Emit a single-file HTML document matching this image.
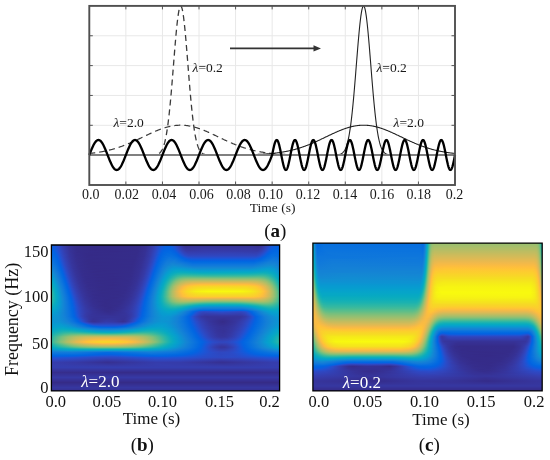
<!DOCTYPE html>
<html><head><meta charset="utf-8"><style>
html,body{margin:0;padding:0;background:#fff;}
body{width:550px;height:460px;overflow:hidden;position:relative;font-family:"Liberation Serif","Times New Roman",serif;color:#111;}
.sp{position:absolute;overflow:hidden;}
.sp i{display:block;height:1px;}
svg{position:absolute;left:0;top:0;}
svg text{font-family:"Liberation Serif","Times New Roman",serif;}
</style></head><body>
<div class="sp" style="left:51px;top:245px;width:229px;height:146px"><i style="background:linear-gradient(90deg,#0c5dde 0.5px,#1757d9 3.5px,#2e47c1 8.5px,#3638a3 14.5px,#362f91 20.5px,#352b88 29.5px,#352b89 86.5px,#363092 94.5px,#3639a5 100.5px,#3046be 105.5px,#2052d3 109.5px,#0d5dde 113.5px,#0b5edf 117.5px,#135adb 120.5px,#2450cf 123.5px,#3145bc 126.5px,#36359d 131.5px,#363093 134.5px,#36339a 148.5px,#363398 201.5px,#363093 208.5px,#36369e 211.5px,#3045bd 216.5px,#1d54d5 220.5px,#0e5cde 223.5px,#0a5fdf 227.5px,#0b5ede 228.5px)"></i><i style="background:linear-gradient(90deg,#095fdf 0.5px,#1459db 3.5px,#2a4bc8 7.5px,#353dad 12.5px,#363296 18.5px,#352c8a 26.5px,#352a87 67.5px,#352c8a 88.5px,#363195 95.5px,#353caa 101.5px,#2c4ac5 106.5px,#1757d9 110.5px,#0b5edf 113.5px,#0760e0 117.5px,#0e5cde 120.5px,#2052d3 123.5px,#2f47c0 126.5px,#3637a1 131.5px,#363296 134.5px,#363399 140.5px,#36359c 164.5px,#36349a 201.5px,#363195 207.5px,#36359d 210.5px,#3244ba 215.5px,#254fce 218.5px,#125adc 221.5px,#0860df 224.5px,#095fdf 228.5px)"></i><i style="background:linear-gradient(90deg,#0661e0 0.5px,#115bdc 3.5px,#284dca 7.5px,#3340b3 11.5px,#36339a 17.5px,#352d8c 24.5px,#352a87 40.5px,#352c8a 87.5px,#363195 95.5px,#353cab 101.5px,#2b4bc7 106.5px,#1459db 110.5px,#0561e0 114.5px,#0562e0 118.5px,#0e5dde 121.5px,#2152d2 124.5px,#3046be 127.5px,#3637a0 132.5px,#363399 135.5px,#36369f 150.5px,#36359d 201.5px,#363399 207.5px,#3637a1 210.5px,#2f46bf 215.5px,#2152d3 218.5px,#0d5dde 221.5px,#0462e1 225.5px,#0661e0 228.5px)"></i><i style="background:linear-gradient(90deg,#0363e1 0.5px,#1459db 4.5px,#2c4ac6 8.5px,#343eaf 12.5px,#363297 18.5px,#352c8b 25.5px,#352a87 45.5px,#352c8a 87.5px,#363093 94.5px,#353aa8 100.5px,#2d48c3 105.5px,#1857d9 109.5px,#0860df 112.5px,#0364e1 115.5px,#0363e1 119.5px,#0e5cde 122.5px,#2351d0 125.5px,#3145bc 128.5px,#3639a5 132.5px,#36359d 135.5px,#3637a2 153.5px,#3637a0 200.5px,#36359d 207.5px,#3639a5 210.5px,#3045bd 214.5px,#2251d1 217.5px,#0d5dde 220.5px,#0363e1 223.5px,#0363e1 228.5px)"></i><i style="background:linear-gradient(90deg,#0364e1 0.5px,#0760e0 2.5px,#1857d8 5.5px,#2a4bc8 8.5px,#343fb1 12.5px,#363398 18.5px,#352c8b 25.5px,#352a87 44.5px,#352c89 86.5px,#363194 94.5px,#353ba9 100.5px,#2f46bf 104.5px,#2251d1 107.5px,#0e5cde 110.5px,#0363e1 113.5px,#0364e1 119.5px,#0561e0 121.5px,#1658d9 124.5px,#2b4bc8 127.5px,#353eae 131.5px,#3638a2 134.5px,#3636a0 138.5px,#3639a5 152.5px,#3638a2 200.5px,#3637a0 207.5px,#353baa 210.5px,#2e48c2 214.5px,#1d54d5 217.5px,#095fdf 220.5px,#0265e1 223.5px,#0364e1 228.5px)"></i><i style="background:linear-gradient(90deg,#0265e1 0.5px,#0462e0 2.5px,#1559da 5.5px,#294cca 8.5px,#3440b2 12.5px,#363399 18.5px,#352d8b 25.5px,#352a87 43.5px,#352c89 86.5px,#363194 94.5px,#353caa 100.5px,#2f47c0 104.5px,#2152d3 107.5px,#0c5ede 110.5px,#0363e1 112.5px,#0267e1 118.5px,#0561e0 122.5px,#105bdd 124.5px,#274ecc 127.5px,#3243b8 130.5px,#363aa6 134.5px,#3638a2 138.5px,#353aa8 153.5px,#3639a6 199.5px,#3638a3 206.5px,#353eae 210.5px,#2c4ac6 214.5px,#1758d9 217.5px,#095fdf 219.5px,#0364e1 221.5px,#0267e1 227.5px,#0266e1 228.5px)"></i><i style="background:linear-gradient(90deg,#0267e1 0.5px,#0661e0 3.5px,#1956d8 6.5px,#2c4ac6 9.5px,#353eae 13.5px,#363296 19.5px,#352c8a 27.5px,#352a87 63.5px,#352c8a 87.5px,#363195 94.5px,#353cab 100.5px,#2e48c2 104.5px,#1e54d5 107.5px,#095fdf 110.5px,#0364e1 112.5px,#0269e1 118.5px,#0562e0 123.5px,#105bdd 125.5px,#274ecc 128.5px,#3243b9 131.5px,#353ba9 135.5px,#353ba9 141.5px,#353cac 163.5px,#353ba9 200.5px,#353aa8 206.5px,#3341b4 210.5px,#2c4ac6 213.5px,#1757d9 216.5px,#095fdf 218.5px,#0364e1 220.5px,#0269e1 226.5px,#0267e1 228.5px)"></i><i style="background:linear-gradient(90deg,#0268e1 0.5px,#0363e1 3.5px,#1658da 6.5px,#2b4bc8 9.5px,#343eb0 13.5px,#363297 19.5px,#352c8b 26.5px,#352a87 47.5px,#352c8a 86.5px,#363296 94.5px,#353dad 100.5px,#2d49c4 104.5px,#1b56d7 107.5px,#0661e0 110.5px,#0268e1 113.5px,#036ae1 119.5px,#0462e1 124.5px,#105bdd 126.5px,#274ecc 129.5px,#3244ba 132.5px,#353dae 136.5px,#343fb1 183.5px,#353dad 202.5px,#343fb0 207.5px,#2e47c1 211.5px,#2053d4 214.5px,#0f5cde 216.5px,#0363e1 218.5px,#036be1 224.5px,#0269e1 228.5px)"></i><i style="background:linear-gradient(90deg,#036ae1 0.5px,#0364e1 3.5px,#0b5ede 5.5px,#2351d1 8.5px,#3045bd 11.5px,#36369f 17.5px,#362e8f 23.5px,#352b88 34.5px,#352c89 85.5px,#363194 93.5px,#353ba9 99.5px,#2f47c0 103.5px,#2053d4 106.5px,#0f5cde 108.5px,#0363e1 110.5px,#046ce0 116.5px,#0269e1 122.5px,#0363e1 125.5px,#0f5cdd 127.5px,#264ecd 130.5px,#3045bd 133.5px,#3440b3 137.5px,#3342b6 180.5px,#3440b3 205.5px,#3046be 209.5px,#254fce 212.5px,#0e5cde 215.5px,#0363e1 217.5px,#046ce0 223.5px,#036ae1 228.5px)"></i><i style="background:linear-gradient(90deg,#036be0 0.5px,#0363e1 4.5px,#0f5cdd 6.5px,#274ecc 9.5px,#3243b8 12.5px,#36359c 18.5px,#352d8d 25.5px,#352a87 39.5px,#352c89 85.5px,#363194 93.5px,#353caa 99.5px,#2e48c2 103.5px,#1d54d5 106.5px,#0661e0 109.5px,#0269e1 112.5px,#066edf 118.5px,#0268e1 124.5px,#0363e1 126.5px,#1758d9 129.5px,#254fce 131.5px,#2f47c0 134.5px,#3243b8 138.5px,#3144bb 179.5px,#3243b9 205.5px,#2d49c5 209.5px,#1e54d5 212.5px,#0860e0 215.5px,#0363e1 216.5px,#056ee0 222.5px,#046ce0 228.5px)"></i><i style="background:linear-gradient(90deg,#046de0 0.5px,#0364e1 4.5px,#0d5dde 6.5px,#254fce 9.5px,#3244ba 12.5px,#36359d 18.5px,#352d8d 25.5px,#352a87 39.5px,#352c8a 85.5px,#363195 93.5px,#353cab 99.5px,#2d49c3 103.5px,#1a56d7 106.5px,#0a5fdf 108.5px,#0363e1 109.5px,#046ce0 113.5px,#076fdf 120.5px,#0266e1 126.5px,#0363e1 127.5px,#1658da 130.5px,#284dcb 133.5px,#2f46bf 137.5px,#3046bf 145.5px,#3046be 198.5px,#2f46bf 205.5px,#274ecc 209.5px,#1559da 212.5px,#0364e1 215.5px,#056ee0 220.5px,#066edf 227.5px,#056de0 228.5px)"></i><i style="background:linear-gradient(90deg,#066edf 0.5px,#0266e1 4.5px,#0363e1 5.5px,#115bdc 7.5px,#294cc9 10.5px,#3341b6 13.5px,#36359e 18.5px,#362e8f 24.5px,#352b88 35.5px,#352c89 84.5px,#363093 92.5px,#353aa8 98.5px,#2f46bf 102.5px,#2053d4 105.5px,#0d5dde 107.5px,#0364e1 109.5px,#0870df 115.5px,#0770df 122.5px,#0364e1 128.5px,#0b5ede 130.5px,#2053d4 133.5px,#2b4bc7 137.5px,#2c4ac5 144.5px,#2c4ac6 197.5px,#2c4ac6 204.5px,#2351d0 208.5px,#0b5edf 212.5px,#0265e1 214.5px,#0871de 221.5px,#066fdf 228.5px)"></i><i style="background:linear-gradient(90deg,#0770df 0.5px,#0364e1 5.5px,#0e5dde 7.5px,#274ecc 10.5px,#3242b7 13.5px,#36369f 18.5px,#362e8f 24.5px,#352b88 35.5px,#352c89 84.5px,#363194 92.5px,#353ba9 98.5px,#2e47c1 102.5px,#2450cf 104.5px,#0b5edf 107.5px,#0363e1 108.5px,#036be0 111.5px,#0c74dd 118.5px,#066fdf 125.5px,#0266e1 129.5px,#0760e0 131.5px,#2053d4 136.5px,#254fce 141.5px,#254fcf 196.5px,#2350d0 204.5px,#1b55d6 207.5px,#0364e1 212.5px,#046de0 216.5px,#0c74dd 223.5px,#0870df 228.5px)"></i><i style="background:linear-gradient(90deg,#0972de 0.5px,#0266e1 5.5px,#0462e1 6.5px,#1e54d5 9.5px,#2b4ac7 11.5px,#353dae 15.5px,#363399 20.5px,#352d8c 27.5px,#352a87 45.5px,#352c8a 84.5px,#363195 92.5px,#353cab 98.5px,#2d48c3 102.5px,#2251d1 104.5px,#0f5cdd 106.5px,#0364e1 108.5px,#066fdf 112.5px,#0e76dc 118.5px,#0972de 125.5px,#0265e1 131.5px,#0761e0 133.5px,#1857d8 138.5px,#1c55d6 144.5px,#1b55d6 195.5px,#1a56d7 203.5px,#0a5edf 208.5px,#0364e1 210.5px,#046de0 214.5px,#0e76dc 222.5px,#0a72de 228.5px)"></i><i style="background:linear-gradient(90deg,#0b73dd 0.5px,#0267e1 5.5px,#0364e1 6.5px,#105bdd 8.5px,#2a4cc9 11.5px,#3341b5 14.5px,#36359d 19.5px,#362e8e 25.5px,#352b87 37.5px,#352b89 83.5px,#363093 91.5px,#363aa7 97.5px,#3046be 101.5px,#2053d4 104.5px,#0c5dde 106.5px,#0562e0 107.5px,#036be0 110.5px,#0f78db 117.5px,#0d76dc 124.5px,#0268e1 132.5px,#0562e0 135.5px,#0f5cdd 140.5px,#0f5cdd 202.5px,#0266e1 209.5px,#0972de 215.5px,#1079da 222.5px,#0b74dd 228.5px)"></i><i style="background:linear-gradient(90deg,#0d75dc 0.5px,#0269e1 5.5px,#0562e0 7.5px,#1758d9 9.5px,#284dcb 11.5px,#3342b6 14.5px,#36369e 19.5px,#362e8f 25.5px,#352b88 36.5px,#352c89 83.5px,#363093 91.5px,#353ba8 97.5px,#2f47c0 101.5px,#254fcf 103.5px,#125adc 105.5px,#0363e1 107.5px,#046de0 110.5px,#1078da 116.5px,#117ada 123.5px,#0268e1 134.5px,#0860df 143.5px,#0661e0 202.5px,#0268e1 208.5px,#117ad9 220.5px,#0e77db 227.5px,#0d75dc 228.5px)"></i><i style="background:linear-gradient(90deg,#0e77db 0.5px,#0267e1 6.5px,#0363e1 7.5px,#135adb 9.5px,#254fce 11.5px,#2f46bf 13.5px,#3638a3 18.5px,#362f91 24.5px,#352b88 34.5px,#352b89 82.5px,#363092 90.5px,#3639a5 96.5px,#3144bb 100.5px,#2251d1 103.5px,#0e5cde 105.5px,#0265e1 107.5px,#066edf 110.5px,#117bd9 116.5px,#127dd8 123.5px,#0770df 132.5px,#0267e1 139.5px,#0267e1 203.5px,#0770df 210.5px,#127dd8 219.5px,#117ad9 226.5px,#0f77db 228.5px)"></i><i style="background:linear-gradient(90deg,#1078da 0.5px,#0269e1 6.5px,#0761e0 8.5px,#1a56d7 10.5px,#2a4cc8 12.5px,#3341b4 15.5px,#36359c 20.5px,#352d8d 27.5px,#352a87 41.5px,#352c8a 83.5px,#363195 91.5px,#363aa6 96.5px,#3045bd 100.5px,#2053d4 103.5px,#0363e1 106.5px,#056de0 109.5px,#127bd9 115.5px,#1480d6 122.5px,#0e76dc 131.5px,#036ce0 141.5px,#046de0 203.5px,#137fd7 217.5px,#137fd7 224.5px,#1079da 228.5px)"></i><i style="background:linear-gradient(90deg,#117ad9 0.5px,#0266e1 7.5px,#0463e1 8.5px,#1658d9 10.5px,#284dcb 12.5px,#3342b6 15.5px,#36359d 20.5px,#362e8f 26.5px,#352b87 38.5px,#352c89 82.5px,#363093 90.5px,#353aa8 96.5px,#2f47bf 100.5px,#254fcf 102.5px,#115bdc 104.5px,#0364e1 106.5px,#036be0 108.5px,#127bd9 114.5px,#1484d4 121.5px,#127cd8 130.5px,#0870df 141.5px,#0871de 202.5px,#1481d5 216.5px,#1483d5 223.5px,#117bd9 228.5px)"></i><i style="background:linear-gradient(90deg,#127cd8 0.5px,#0268e1 7.5px,#0364e1 8.5px,#125adc 10.5px,#264fcd 12.5px,#3046be 14.5px,#3638a2 19.5px,#362f91 25.5px,#352b88 35.5px,#352b89 81.5px,#363092 89.5px,#3639a4 95.5px,#3244bb 99.5px,#294cc9 101.5px,#1857d8 103.5px,#0562e0 105.5px,#026ae1 107.5px,#137dd8 114.5px,#1487d3 121.5px,#1482d5 129.5px,#0d75dc 141.5px,#0d76dc 202.5px,#1486d4 216.5px,#1486d4 223.5px,#137dd8 228.5px)"></i><i style="background:linear-gradient(90deg,#137ed7 0.5px,#0870df 5.5px,#0265e1 8.5px,#0661e0 9.5px,#1a56d7 11.5px,#2a4bc8 13.5px,#3440b3 16.5px,#36359c 21.5px,#352d8d 28.5px,#352a87 43.5px,#352c8a 82.5px,#363194 90.5px,#3639a6 95.5px,#3145bc 99.5px,#2053d4 102.5px,#0b5edf 104.5px,#0363e1 105.5px,#036be0 107.5px,#137dd8 113.5px,#128bd2 121.5px,#1388d3 128.5px,#1079da 141.5px,#107ada 201.5px,#1389d3 215.5px,#128bd2 221.5px,#137fd7 228.5px)"></i><i style="background:linear-gradient(90deg,#1480d6 0.5px,#0972de 5.5px,#0267e1 8.5px,#0363e1 9.5px,#1658d9 11.5px,#284dca 13.5px,#3341b5 16.5px,#36359d 21.5px,#362e8e 27.5px,#352b87 39.5px,#352c89 81.5px,#363093 89.5px,#363aa7 95.5px,#3046bf 99.5px,#254fce 101.5px,#115bdc 103.5px,#0860e0 104.5px,#0265e1 105.5px,#046ce0 107.5px,#127cd8 112.5px,#1389d3 117.5px,#0e91d2 123.5px,#1388d3 132.5px,#137ed7 143.5px,#137fd7 201.5px,#128bd2 212.5px,#0e91d2 219.5px,#1389d3 225.5px,#1481d5 228.5px)"></i><i style="background:linear-gradient(90deg,#1483d5 0.5px,#0e77db 4.5px,#0269e1 8.5px,#0365e1 9.5px,#125adc 11.5px,#264fcd 13.5px,#3046be 15.5px,#3637a2 20.5px,#362f91 26.5px,#352b88 36.5px,#352b89 80.5px,#363093 89.5px,#3638a4 94.5px,#3244ba 98.5px,#2a4cc9 100.5px,#1857d8 102.5px,#0462e1 104.5px,#036ae1 106.5px,#137ed7 112.5px,#118dd2 117.5px,#0a96d1 123.5px,#0e91d2 131.5px,#1485d4 142.5px,#1485d4 200.5px,#0e91d2 211.5px,#0a96d1 219.5px,#118cd2 225.5px,#1484d4 228.5px)"></i><i style="background:linear-gradient(90deg,#1485d4 0.5px,#1078da 4.5px,#036ae1 8.5px,#0562e0 10.5px,#1a56d7 12.5px,#2b4bc8 14.5px,#3440b3 17.5px,#36349b 22.5px,#352d8d 29.5px,#352a87 44.5px,#352c8a 81.5px,#363194 89.5px,#3639a5 94.5px,#3145bc 98.5px,#274dcb 100.5px,#2053d4 101.5px,#0a5fdf 103.5px,#0364e1 104.5px,#046ce0 106.5px,#137dd8 111.5px,#128ad3 115.5px,#0899d1 121.5px,#079bd0 128.5px,#128cd2 145.5px,#118cd2 199.5px,#079cd0 216.5px,#0998d1 222.5px,#1486d3 228.5px)"></i><i style="background:linear-gradient(90deg,#1388d3 0.5px,#117ad9 4.5px,#0268e1 9.5px,#0363e1 10.5px,#1658da 12.5px,#284dca 14.5px,#3341b5 17.5px,#36359d 22.5px,#362e8e 28.5px,#352b87 40.5px,#352c89 80.5px,#363093 88.5px,#3638a2 93.5px,#3046be 98.5px,#254fce 100.5px,#105bdd 102.5px,#0761e0 103.5px,#0265e1 104.5px,#056de0 106.5px,#137fd7 111.5px,#118ed2 115.5px,#079cd0 120.5px,#06a1cc 127.5px,#0c93d2 148.5px,#0b95d2 199.5px,#06a1cc 216.5px,#089ad0 223.5px,#1389d3 228.5px)"></i><i style="background:linear-gradient(90deg,#128bd2 0.5px,#137fd6 3.5px,#0269e1 9.5px,#0265e1 10.5px,#0860e0 11.5px,#1e54d5 13.5px,#2c49c5 15.5px,#353cab 19.5px,#363297 24.5px,#352d8b 31.5px,#352a87 52.5px,#352c8a 81.5px,#363296 89.5px,#353ba8 94.5px,#2f47c1 98.5px,#2351d1 100.5px,#0d5dde 102.5px,#0462e1 103.5px,#036be0 105.5px,#137dd8 110.5px,#1389d3 113.5px,#079bd0 118.5px,#06a5c8 125.5px,#069fce 139.5px,#089ad0 160.5px,#079dcf 200.5px,#06a5c8 216.5px,#079dcf 223.5px,#0f90d2 227.5px,#118cd2 228.5px)"></i><i style="background:linear-gradient(90deg,#108ed2 0.5px,#1481d5 3.5px,#0a72de 7.5px,#0267e1 10.5px,#0562e0 11.5px,#1a56d7 13.5px,#2b4bc7 15.5px,#3440b2 18.5px,#36349b 23.5px,#352d8d 30.5px,#352a87 45.5px,#352c8a 80.5px,#363194 88.5px,#3639a5 93.5px,#3144bc 97.5px,#284dcb 99.5px,#2052d3 100.5px,#0a5fdf 102.5px,#0364e1 103.5px,#046de0 105.5px,#137fd6 110.5px,#128cd2 113.5px,#079cd0 117.5px,#06a7c5 123.5px,#07a9c3 131.5px,#06a2cc 150.5px,#06a4ca 200.5px,#07a9c2 215.5px,#06a1cd 223.5px,#0c94d2 227.5px,#0f90d2 228.5px)"></i><i style="background:linear-gradient(90deg,#0e92d2 0.5px,#1484d4 3.5px,#0c74dd 7.5px,#0268e1 10.5px,#0364e1 11.5px,#1658da 13.5px,#294dca 15.5px,#3341b4 18.5px,#36359c 23.5px,#362e8e 29.5px,#352b87 41.5px,#352c89 79.5px,#363093 87.5px,#363aa6 93.5px,#3046be 97.5px,#254fce 99.5px,#105bdd 101.5px,#0661e0 102.5px,#0266e1 103.5px,#0972de 106.5px,#1481d5 110.5px,#108fd2 113.5px,#079cd0 116.5px,#07a9c2 122.5px,#0dadbb 129.5px,#06a8c4 151.5px,#07aac2 199.5px,#0dadbb 214.5px,#06a8c4 221.5px,#0998d1 227.5px,#0c93d2 228.5px)"></i><i style="background:linear-gradient(90deg,#0b95d1 0.5px,#1486d4 3.5px,#117ada 6.5px,#026ae1 10.5px,#0265e1 11.5px,#0760e0 12.5px,#1d54d5 14.5px,#2d49c5 16.5px,#353cab 20.5px,#363297 25.5px,#352c8b 33.5px,#352a87 61.5px,#352c8b 81.5px,#363296 88.5px,#353aa8 93.5px,#2f47c0 97.5px,#2351d1 99.5px,#0c5dde 101.5px,#0363e1 102.5px,#046ce0 104.5px,#137fd6 109.5px,#118dd2 112.5px,#079cd0 115.5px,#07a9c2 120.5px,#16b1b4 127.5px,#17b1b3 134.5px,#0eaeba 151.5px,#10afb9 197.5px,#18b1b2 212.5px,#0dadbb 219.5px,#06a7c5 223.5px,#0a97d1 228.5px)"></i><i style="background:linear-gradient(90deg,#0899d1 0.5px,#1389d3 3.5px,#127bd9 6.5px,#0267e1 11.5px,#0462e1 12.5px,#1956d7 14.5px,#2b4bc7 16.5px,#3440b2 19.5px,#36349b 24.5px,#352d8d 31.5px,#352a87 46.5px,#352c8a 79.5px,#363194 87.5px,#3639a5 92.5px,#3144bb 96.5px,#284dcb 98.5px,#2053d4 99.5px,#095fdf 101.5px,#0364e1 102.5px,#056de0 104.5px,#137dd8 108.5px,#128bd2 111.5px,#069fce 115.5px,#08aac1 119.5px,#1fb3ad 126.5px,#27b5a8 132.5px,#1cb3af 155.5px,#1fb3ae 196.5px,#27b5a8 211.5px,#1cb3b0 217.5px,#07aac1 223.5px,#089ad0 228.5px)"></i><i style="background:linear-gradient(90deg,#079cd0 0.5px,#1486d4 4.5px,#1079da 7.5px,#0269e1 11.5px,#0364e1 12.5px,#1658da 14.5px,#294cca 16.5px,#3340b4 19.5px,#36359c 24.5px,#362d8d 31.5px,#352b87 46.5px,#352c8a 79.5px,#363195 87.5px,#363aa6 92.5px,#3046be 96.5px,#254fce 98.5px,#105bdd 100.5px,#0661e0 101.5px,#0266e1 102.5px,#0a73dd 105.5px,#137fd7 108.5px,#108ed2 111.5px,#079ecf 114.5px,#08aac0 118.5px,#2cb7a5 126.5px,#38b99e 131.5px,#37b99e 139.5px,#2fb7a3 157.5px,#32b8a2 195.5px,#39b99d 209.5px,#32b8a1 214.5px,#19b2b1 220.5px,#08aac1 224.5px,#079dcf 228.5px)"></i><i style="background:linear-gradient(90deg,#069fce 0.5px,#1483d4 5.5px,#0e76db 8.5px,#036ae1 11.5px,#0266e1 12.5px,#0760e0 13.5px,#1e54d5 15.5px,#2d49c4 17.5px,#353caa 21.5px,#363297 26.5px,#352c8b 34.5px,#352a87 62.5px,#352c8b 80.5px,#363196 87.5px,#363aa7 92.5px,#2f47c0 96.5px,#2351d0 98.5px,#0d5dde 100.5px,#0363e1 101.5px,#046ce0 103.5px,#127cd8 107.5px,#128bd2 110.5px,#079cd0 113.5px,#08aac0 117.5px,#24b5aa 122.5px,#43bb97 128.5px,#4ebc91 133.5px,#4dbc92 142.5px,#46bb95 161.5px,#49bc94 194.5px,#50bc90 207.5px,#49bc94 212.5px,#34b8a0 217.5px,#0bacbd 224.5px,#06a4ca 227.5px,#06a0cd 228.5px)"></i><i style="background:linear-gradient(90deg,#06a1cc 0.5px,#0e91d2 3.5px,#1486d4 5.5px,#0f78da 8.5px,#0267e1 12.5px,#0363e1 13.5px,#1a56d7 15.5px,#2b4bc7 17.5px,#343fb2 20.5px,#36349b 25.5px,#352d8d 32.5px,#352a87 47.5px,#352c8a 78.5px,#363194 86.5px,#3639a4 91.5px,#3144bb 95.5px,#284dcb 97.5px,#2053d3 98.5px,#095fdf 100.5px,#0265e1 101.5px,#056ee0 103.5px,#137ed7 107.5px,#1388d3 109.5px,#069fce 113.5px,#07aac1 116.5px,#18b1b2 119.5px,#4bbc93 126.5px,#62be87 131.5px,#6abe83 137.5px,#65be86 169.5px,#68be84 197.5px,#69be84 207.5px,#5ebe89 212.5px,#44bb97 217.5px,#0aacbd 225.5px,#06a6c7 227.5px,#06a3cb 228.5px)"></i><i style="background:linear-gradient(90deg,#06a4ca 0.5px,#0b95d2 3.5px,#1388d3 5.5px,#117ada 8.5px,#0269e1 12.5px,#0364e1 13.5px,#1558da 15.5px,#2152d3 16.5px,#2e48c2 18.5px,#353ba9 22.5px,#363296 27.5px,#352c8a 35.5px,#352a87 64.5px,#352d8c 80.5px,#363297 87.5px,#353cab 92.5px,#2c4ac5 96.5px,#1c55d6 98.5px,#105cdd 99.5px,#0661e0 100.5px,#0266e1 101.5px,#0b73dd 104.5px,#1480d6 107.5px,#128bd2 109.5px,#079dcf 112.5px,#07a9c3 115.5px,#10afb8 117.5px,#55bd8d 125.5px,#70bf81 129.5px,#80bf7a 134.5px,#86bf78 142.5px,#83bf79 188.5px,#84bf78 205.5px,#7bbf7c 210.5px,#69be84 214.5px,#43bb97 219.5px,#0faeb9 225.5px,#06a8c3 227.5px,#06a5c8 228.5px)"></i><i style="background:linear-gradient(90deg,#06a6c7 0.5px,#0998d1 3.5px,#1485d4 6.5px,#0f77db 9.5px,#036ae1 12.5px,#0266e1 13.5px,#0761e0 14.5px,#1e54d5 16.5px,#2d49c4 18.5px,#353caa 22.5px,#363297 27.5px,#352c8b 35.5px,#352a87 61.5px,#352c8b 79.5px,#363296 86.5px,#353aa8 91.5px,#2f47c0 95.5px,#2351d1 97.5px,#0c5dde 99.5px,#0363e1 100.5px,#046ce0 102.5px,#137ed7 106.5px,#1388d3 108.5px,#06a0cd 112.5px,#09abbf 115.5px,#20b4ad 118.5px,#67be85 125.5px,#84bf78 129.5px,#96bf71 134.5px,#9ebe6e 141.5px,#9dbe6e 203.5px,#93bf72 209.5px,#83bf79 213.5px,#66be85 217.5px,#1eb3ae 224.5px,#08abc0 227.5px,#06a7c5 228.5px)"></i><i style="background:linear-gradient(90deg,#06a8c4 0.5px,#089ad0 3.5px,#1487d3 6.5px,#1079da 9.5px,#0267e1 13.5px,#0363e1 14.5px,#1a56d7 16.5px,#2b4bc7 18.5px,#343fb2 21.5px,#36349b 26.5px,#352d8d 33.5px,#352a87 49.5px,#352c8a 77.5px,#363194 85.5px,#3639a4 90.5px,#3144bb 94.5px,#284dcb 96.5px,#2052d3 97.5px,#095fdf 99.5px,#0265e1 100.5px,#056ee0 102.5px,#137fd6 106.5px,#138ad3 108.5px,#079dcf 111.5px,#07aac1 114.5px,#14b0b5 116.5px,#3fba9a 120.5px,#6ebf81 124.5px,#89bf76 127.5px,#a0be6d 131.5px,#b0bd66 137.5px,#b6bd64 147.5px,#b4bd65 201.5px,#aabe69 208.5px,#95bf71 213.5px,#77bf7e 217.5px,#3dba9b 222.5px,#13b0b6 226.5px,#07a9c2 228.5px)"></i><i style="background:linear-gradient(90deg,#08aac1 0.5px,#079dcf 3.5px,#138ad3 6.5px,#117ad9 9.5px,#0269e1 13.5px,#0364e1 14.5px,#1658da 16.5px,#294cc9 18.5px,#3340b4 21.5px,#36359c 26.5px,#362d8d 33.5px,#352b87 48.5px,#352c8a 77.5px,#363195 85.5px,#363aa6 90.5px,#3046bd 94.5px,#264fcd 96.5px,#105bdd 98.5px,#0661e0 99.5px,#0266e1 100.5px,#0b74dd 103.5px,#1481d6 106.5px,#118dd2 108.5px,#069fce 111.5px,#06a8c4 113.5px,#0aacbe 114.5px,#25b5a9 117.5px,#73bf80 123.5px,#91bf73 126.5px,#acbe68 130.5px,#bfbc61 135.5px,#c9bc5c 142.5px,#cabb5c 198.5px,#c1bc60 206.5px,#b0bd66 211.5px,#98bf70 215.5px,#7cbf7b 218.5px,#49bc94 222.5px,#19b2b2 226.5px,#09abbf 228.5px)"></i><i style="background:linear-gradient(90deg,#0aacbd 0.5px,#06a4c9 2.5px,#089ad1 4.5px,#1486d4 7.5px,#0f77db 10.5px,#036ae1 13.5px,#0266e1 14.5px,#0761e0 15.5px,#1e54d5 17.5px,#2d49c4 19.5px,#353caa 23.5px,#363297 28.5px,#352c8b 36.5px,#352a87 61.5px,#352d8c 79.5px,#363399 86.5px,#353dad 91.5px,#2f47c0 94.5px,#2351d0 96.5px,#0c5dde 98.5px,#0363e1 99.5px,#046de0 101.5px,#137ed7 105.5px,#1389d3 107.5px,#079ccf 110.5px,#08aac1 113.5px,#16b1b4 115.5px,#3ab99d 118.5px,#73bf7f 122.5px,#95bf71 125.5px,#b4bd65 129.5px,#cbbb5c 134.5px,#d9ba55 141.5px,#deba53 156.5px,#dcba54 198.5px,#d0bb59 206.5px,#bebc61 211.5px,#a5be6b 215.5px,#89bf76 218.5px,#63be87 221.5px,#2bb6a6 225.5px,#0cadbb 228.5px)"></i><i style="background:linear-gradient(90deg,#0eaeba 0.5px,#08aac1 1.5px,#079cd0 4.5px,#1388d3 7.5px,#1079da 10.5px,#0268e1 14.5px,#0363e1 15.5px,#1956d7 17.5px,#2b4bc7 19.5px,#3440b2 22.5px,#36349b 27.5px,#362d8d 34.5px,#352b87 49.5px,#352c8a 76.5px,#363194 84.5px,#353ba9 90.5px,#2d48c3 94.5px,#2053d4 96.5px,#095fdf 98.5px,#0265e1 99.5px,#056ee0 101.5px,#1480d6 105.5px,#128bd2 107.5px,#069fce 110.5px,#06a8c4 112.5px,#0aacbe 113.5px,#1cb3b0 115.5px,#43bb97 118.5px,#7fbf7a 122.5px,#a1be6c 125.5px,#c1bc60 129.5px,#d9ba55 134.5px,#eab94d 141.5px,#f1b94a 154.5px,#efb94b 196.5px,#e5b950 204.5px,#d1bb59 210.5px,#b9bd63 214.5px,#96bf71 218.5px,#6fbf81 221.5px,#33b8a1 225.5px,#10afb8 228.5px)"></i><i style="background:linear-gradient(90deg,#12afb7 0.5px,#0aacbe 1.5px,#06a4ca 3.5px,#0998d1 5.5px,#1484d4 8.5px,#0e76dc 11.5px,#0269e1 14.5px,#0364e1 15.5px,#1558da 17.5px,#2152d2 18.5px,#2e48c2 20.5px,#353ba9 24.5px,#363297 29.5px,#352c8b 37.5px,#352a87 63.5px,#362d8d 79.5px,#36349b 86.5px,#343fb1 91.5px,#2c4ac5 94.5px,#1c55d6 96.5px,#0f5cdd 97.5px,#0561e0 98.5px,#0266e1 99.5px,#0b74dd 102.5px,#1482d5 105.5px,#118dd2 107.5px,#079bd0 109.5px,#07aac1 112.5px,#17b1b3 114.5px,#3eba9a 117.5px,#7ebf7b 121.5px,#a3be6c 124.5px,#c6bc5d 128.5px,#e3b951 133.5px,#f6ba45 139.5px,#febf3c 149.5px,#febe3d 194.5px,#f6ba46 203.5px,#e3b951 209.5px,#c5bc5e 214.5px,#a1be6c 218.5px,#7bbf7c 221.5px,#2db7a4 226.5px,#15b0b5 228.5px)"></i><i style="background:linear-gradient(90deg,#17b1b3 0.5px,#07aac2 2.5px,#089bd0 5.5px,#1486d3 8.5px,#0f78db 11.5px,#036ae1 14.5px,#0266e1 15.5px,#0761e0 16.5px,#1e54d5 18.5px,#2d49c4 20.5px,#353cab 24.5px,#363398 29.5px,#352c8b 37.5px,#352a87 61.5px,#352d8c 78.5px,#363399 85.5px,#353dad 90.5px,#2f47c0 93.5px,#2351d0 95.5px,#0c5dde 97.5px,#0363e1 98.5px,#046de0 100.5px,#137ed7 104.5px,#1389d3 106.5px,#079ecf 109.5px,#06a7c5 111.5px,#09abbf 112.5px,#1cb3b0 114.5px,#47bb95 117.5px,#89bf76 121.5px,#aebe67 124.5px,#d2bb59 128.5px,#f1b94a 133.5px,#fdbe3d 137.5px,#fec832 145.5px,#fccc2f 173.5px,#fec832 197.5px,#fdbe3e 205.5px,#f0b94a 209.5px,#d1bb59 214.5px,#acbe68 218.5px,#87bf77 221.5px,#44bb96 225.5px,#1ab2b1 228.5px)"></i><i style="background:linear-gradient(90deg,#1cb3b0 0.5px,#09abbf 2.5px,#06a2cb 4.5px,#0a97d1 6.5px,#1389d3 8.5px,#1079da 11.5px,#0267e1 15.5px,#0363e1 16.5px,#1a56d7 18.5px,#2b4bc7 20.5px,#3440b2 23.5px,#36349c 28.5px,#362d8d 35.5px,#352b87 50.5px,#352c8a 75.5px,#363195 83.5px,#353baa 89.5px,#2e48c3 93.5px,#2052d3 95.5px,#095fdf 97.5px,#0265e1 98.5px,#056ee0 100.5px,#1480d6 104.5px,#128bd2 106.5px,#06a0cd 109.5px,#07a9c3 111.5px,#0cadbc 112.5px,#22b4ac 114.5px,#50bc90 117.5px,#84bf78 120.5px,#adbe68 123.5px,#d5ba57 127.5px,#f2b949 131.5px,#febf3c 134.5px,#fccd2e 140.5px,#f8d627 152.5px,#f9d528 193.5px,#fdcb30 203.5px,#febf3d 208.5px,#f1b949 211.5px,#cbbb5c 216.5px,#9fbe6d 220.5px,#71bf80 223.5px,#2db7a4 227.5px,#20b4ad 228.5px)"></i><i style="background:linear-gradient(90deg,#20b4ad 0.5px,#0bacbd 2.5px,#06a4c9 4.5px,#0899d1 6.5px,#1484d4 9.5px,#0e76dc 12.5px,#0269e1 15.5px,#0364e1 16.5px,#1658da 18.5px,#294cca 20.5px,#3341b4 23.5px,#36359d 28.5px,#362e8e 35.5px,#352b87 49.5px,#352c8b 75.5px,#363296 83.5px,#363aa7 88.5px,#3046be 92.5px,#254fce 94.5px,#105bdd 96.5px,#0661e0 97.5px,#0266e1 98.5px,#076fdf 100.5px,#127dd8 103.5px,#1487d3 105.5px,#079cd0 108.5px,#08aac0 111.5px,#19b2b1 113.5px,#45bb96 116.5px,#7bbf7c 119.5px,#a7be6a 122.5px,#d2bb59 126.5px,#f2b949 130.5px,#fcbd3f 132.5px,#fec932 136.5px,#f7d826 145.5px,#f6dd22 163.5px,#f7da24 194.5px,#fcce2e 204.5px,#fec03c 209.5px,#f1b94a 212.5px,#c7bc5d 217.5px,#97bf70 221.5px,#67be85 224.5px,#32b8a1 227.5px,#24b5aa 228.5px)"></i><i style="background:linear-gradient(90deg,#25b5aa 0.5px,#0eaeba 2.5px,#07aac1 3.5px,#089bd0 6.5px,#1486d4 9.5px,#0f77db 12.5px,#036ae1 15.5px,#0266e1 16.5px,#0760e0 17.5px,#1e54d5 19.5px,#2d49c5 21.5px,#353cab 25.5px,#363398 30.5px,#352d8b 38.5px,#352a87 60.5px,#352d8d 77.5px,#363399 84.5px,#353dad 89.5px,#2f47c0 92.5px,#2351d1 94.5px,#0c5dde 96.5px,#0363e1 97.5px,#046ce0 99.5px,#137ed7 103.5px,#1389d3 105.5px,#079dcf 108.5px,#06a7c5 110.5px,#09acbe 111.5px,#1db3af 113.5px,#4bbc93 116.5px,#82bf79 119.5px,#adbe68 122.5px,#d8ba56 126.5px,#f7ba45 130.5px,#fec13a 132.5px,#fad32a 138.5px,#f5e020 148.5px,#f5e41d 175.5px,#f5df20 195.5px,#fad22a 204.5px,#ffc437 209.5px,#fbbd40 211.5px,#e8b94f 214.5px,#c2bc5f 218.5px,#9ebe6e 221.5px,#6ebf82 224.5px,#38b99e 227.5px,#29b6a7 228.5px)"></i><i style="background:linear-gradient(90deg,#29b6a7 0.5px,#11afb8 2.5px,#09abbf 3.5px,#06a2cb 5.5px,#0a96d1 7.5px,#1388d3 9.5px,#1079da 12.5px,#0267e1 16.5px,#0462e1 17.5px,#1a56d7 19.5px,#2b4bc7 21.5px,#3440b3 24.5px,#36359c 29.5px,#362e8e 36.5px,#352b87 51.5px,#352c8a 74.5px,#363195 82.5px,#353caa 88.5px,#2d48c3 92.5px,#2052d3 94.5px,#095fdf 96.5px,#0365e1 97.5px,#056ee0 99.5px,#1480d6 103.5px,#128bd2 105.5px,#069fce 108.5px,#07a9c3 110.5px,#0cadbc 111.5px,#22b4ac 113.5px,#52bd8f 116.5px,#88bf76 119.5px,#b2bd65 122.5px,#ddba54 126.5px,#f6ba46 129.5px,#fec13a 131.5px,#fad22a 136.5px,#f5e41d 145.5px,#f5eb18 159.5px,#f5e81a 191.5px,#f6dd22 201.5px,#fec833 209.5px,#fbbc41 212.5px,#e5b950 215.5px,#bdbd61 219.5px,#95bf71 222.5px,#62be87 225.5px,#2eb7a4 228.5px)"></i><i style="background:linear-gradient(90deg,#2eb7a4 0.5px,#14b0b5 2.5px,#0bacbd 3.5px,#06a4ca 5.5px,#0998d1 7.5px,#138ad3 9.5px,#137fd7 11.5px,#0269e1 16.5px,#0364e1 17.5px,#1658da 19.5px,#294cca 21.5px,#3341b5 24.5px,#36359d 29.5px,#362e8e 36.5px,#352b87 50.5px,#352c8b 74.5px,#363296 82.5px,#363aa7 87.5px,#3046be 91.5px,#254fce 93.5px,#105bdd 95.5px,#0661e0 96.5px,#0266e1 97.5px,#066fdf 99.5px,#1481d6 103.5px,#118dd2 105.5px,#079bd0 107.5px,#08aac1 110.5px,#19b2b2 112.5px,#35b89f 114.5px,#7ebf7b 118.5px,#abbe68 121.5px,#d9ba55 125.5px,#f4ba47 128.5px,#fec03b 130.5px,#f9d429 135.5px,#f5e91a 144.5px,#f6f214 156.5px,#f6f114 189.5px,#f5e71b 199.5px,#f9d329 207.5px,#ffc436 211.5px,#fabc42 213.5px,#d8ba56 217.5px,#a9be69 221.5px,#7bbf7c 224.5px,#33b8a1 228.5px)"></i><i style="background:linear-gradient(90deg,#33b8a1 0.5px,#17b1b3 2.5px,#0dadbb 3.5px,#07a9c2 4.5px,#089ad0 7.5px,#1486d4 10.5px,#0e77db 13.5px,#036ae1 16.5px,#0265e1 17.5px,#0860e0 18.5px,#1e54d5 20.5px,#2d49c5 22.5px,#353cab 26.5px,#363296 32.5px,#352c8a 41.5px,#352b88 67.5px,#362e8f 78.5px,#3637a0 85.5px,#3243b9 90.5px,#2a4bc8 92.5px,#1957d8 94.5px,#0363e1 96.5px,#046ce0 98.5px,#137ed7 102.5px,#1388d3 104.5px,#079dcf 107.5px,#06a7c5 109.5px,#09abbf 110.5px,#1db3af 112.5px,#4cbc92 115.5px,#84bf78 118.5px,#b1bd66 121.5px,#deba53 125.5px,#f9bb43 128.5px,#ffc337 130.5px,#f6db24 136.5px,#f6f015 145.5px,#f8f90f 157.5px,#f8f710 189.5px,#f5ec17 199.5px,#f8d727 207.5px,#ffc338 212.5px,#f8ba44 214.5px,#d2bb58 218.5px,#a1be6c 222.5px,#6fbf81 225.5px,#38b99e 228.5px)"></i><i style="background:linear-gradient(90deg,#35b8a0 0.5px,#19b2b2 2.5px,#08aac1 4.5px,#079bd0 7.5px,#1487d3 10.5px,#0f78db 13.5px,#036be0 16.5px,#0267e1 17.5px,#0562e0 18.5px,#1a56d7 20.5px,#2b4bc7 22.5px,#3440b3 25.5px,#36359d 30.5px,#362e8e 37.5px,#352b87 51.5px,#352c8b 73.5px,#363296 81.5px,#353cab 87.5px,#2d48c3 91.5px,#2052d3 93.5px,#0a5fdf 95.5px,#0364e1 96.5px,#056de0 98.5px,#137fd7 102.5px,#138ad3 104.5px,#079ecf 107.5px,#06a8c4 109.5px,#0aacbe 110.5px,#1eb3ae 112.5px,#4dbc91 115.5px,#85bf78 118.5px,#b0bd66 121.5px,#dcba54 125.5px,#f6ba46 128.5px,#fec13a 130.5px,#f9d429 135.5px,#f5e71b 144.5px,#f6ef16 157.5px,#f5ed17 191.5px,#f5e21e 201.5px,#fccd2f 209.5px,#fec03a 212.5px,#f5ba46 214.5px,#d1bb59 218.5px,#a1be6d 222.5px,#70bf80 225.5px,#39b99d 228.5px)"></i><i style="background:linear-gradient(90deg,#36b99f 0.5px,#1bb2b0 2.5px,#08abc0 4.5px,#06a2cb 6.5px,#0a96d1 8.5px,#1388d3 10.5px,#1079da 13.5px,#0268e1 17.5px,#0363e1 18.5px,#1658d9 20.5px,#294cca 22.5px,#3341b5 25.5px,#36369e 30.5px,#362e8f 37.5px,#352b88 50.5px,#352c8a 72.5px,#363194 80.5px,#353aa8 86.5px,#3046be 90.5px,#264fcd 92.5px,#115bdc 94.5px,#0760e0 95.5px,#0266e1 96.5px,#066edf 98.5px,#1480d6 102.5px,#128bd2 104.5px,#069fce 107.5px,#07a9c3 109.5px,#0badbc 110.5px,#20b4ad 112.5px,#4fbc91 115.5px,#85bf78 118.5px,#b0be67 121.5px,#dbba55 125.5px,#fabb42 129.5px,#ffc338 131.5px,#f9d528 137.5px,#f5e31e 147.5px,#f5e71b 176.5px,#f5e21e 196.5px,#f9d528 205.5px,#fec238 211.5px,#f9bb43 213.5px,#d9ba56 217.5px,#aebe67 221.5px,#83bf79 224.5px,#3bb99c 228.5px)"></i><i style="background:linear-gradient(90deg,#38b99e 0.5px,#11afb7 3.5px,#09abbe 4.5px,#06a3cb 6.5px,#0997d1 8.5px,#138ad3 10.5px,#117ad9 13.5px,#0269e1 17.5px,#0265e1 18.5px,#0860df 19.5px,#1e53d5 21.5px,#2d49c5 23.5px,#353dac 27.5px,#363297 33.5px,#352c8a 42.5px,#352b88 66.5px,#362f90 77.5px,#3637a1 84.5px,#3244ba 89.5px,#2a4bc8 91.5px,#1956d8 93.5px,#0462e1 95.5px,#036be0 97.5px,#1481d6 102.5px,#118dd2 104.5px,#089ad0 106.5px,#07a9c2 109.5px,#16b1b4 111.5px,#40ba99 114.5px,#86bf77 118.5px,#afbe67 121.5px,#d9ba56 125.5px,#f7ba45 129.5px,#fec03b 131.5px,#fad12b 137.5px,#f6dd22 147.5px,#f6dd22 194.5px,#fad32a 204.5px,#ffc337 210.5px,#fbbd40 212.5px,#e8b94f 215.5px,#c4bc5e 219.5px,#a0be6d 222.5px,#72bf80 225.5px,#3dba9b 228.5px)"></i><i style="background:linear-gradient(90deg,#3ab99c 0.5px,#13b0b6 3.5px,#0aacbd 4.5px,#06a4ca 6.5px,#0899d1 8.5px,#1485d4 11.5px,#0f77db 14.5px,#036be1 17.5px,#0266e1 18.5px,#0661e0 19.5px,#0f5cdd 20.5px,#2450cf 22.5px,#2f47c0 24.5px,#3639a5 29.5px,#363093 35.5px,#352b89 45.5px,#352c89 69.5px,#363092 78.5px,#3638a2 84.5px,#3145bc 89.5px,#284dcb 91.5px,#1658da 93.5px,#0364e1 95.5px,#046ce0 97.5px,#137dd7 101.5px,#1388d3 103.5px,#079cd0 106.5px,#08aac1 109.5px,#18b1b3 111.5px,#41ba98 114.5px,#86bf77 118.5px,#aebe67 121.5px,#d7ba57 125.5px,#f4ba47 129.5px,#fdbe3e 131.5px,#fdcb30 136.5px,#f8d628 145.5px,#f8d628 197.5px,#fdcb30 206.5px,#fec03a 210.5px,#f3ba48 213.5px,#ccbb5b 218.5px,#a0be6d 222.5px,#74bf7f 225.5px,#3fba9a 228.5px)"></i><i style="background:linear-gradient(90deg,#3cba9b 0.5px,#14b0b5 3.5px,#0badbc 4.5px,#07a9c3 5.5px,#089ad0 8.5px,#1486d3 11.5px,#1078da 14.5px,#0267e1 18.5px,#0363e1 19.5px,#1757d9 21.5px,#294cca 23.5px,#3341b5 26.5px,#36369f 31.5px,#362e8f 38.5px,#352b88 51.5px,#352d8b 72.5px,#363297 80.5px,#353dad 86.5px,#2c4ac5 90.5px,#1e54d5 92.5px,#0860df 94.5px,#0265e1 95.5px,#056ee0 97.5px,#137fd7 101.5px,#1389d3 103.5px,#079dcf 106.5px,#08abc0 109.5px,#19b2b1 111.5px,#43bb97 114.5px,#87bf77 118.5px,#aebe67 121.5px,#d5ba58 125.5px,#f6ba46 130.5px,#fec13a 133.5px,#fccd2f 140.5px,#fbd12b 156.5px,#fbcf2d 199.5px,#fec536 207.5px,#fabb42 211.5px,#e3b951 215.5px,#c1bc60 219.5px,#93bf72 223.5px,#63be87 226.5px,#41ba99 228.5px)"></i><i style="background:linear-gradient(90deg,#39b99d 0.5px,#14b0b5 3.5px,#0badbc 4.5px,#06a5c8 6.5px,#089ad0 8.5px,#1487d3 11.5px,#1079da 14.5px,#0269e1 18.5px,#0364e1 19.5px,#1459db 21.5px,#1f53d4 22.5px,#2d49c5 24.5px,#353dad 28.5px,#363297 34.5px,#352c8b 43.5px,#352b88 65.5px,#362f90 76.5px,#3637a2 83.5px,#3244ba 88.5px,#2b4bc8 90.5px,#1a56d7 92.5px,#0561e0 94.5px,#0266e1 95.5px,#0a73de 98.5px,#137fd6 101.5px,#138ad3 103.5px,#079dcf 106.5px,#08abc0 109.5px,#18b2b2 111.5px,#40ba99 114.5px,#80bf7a 118.5px,#a5be6b 121.5px,#cabb5c 125.5px,#e8b94e 130.5px,#f9bb43 135.5px,#fec03b 142.5px,#febf3d 202.5px,#f6ba46 208.5px,#e3b951 213.5px,#c1bc60 218.5px,#98bf70 222.5px,#6ebf81 225.5px,#3dba9a 228.5px)"></i><i style="background:linear-gradient(90deg,#36b99f 0.5px,#13b0b6 3.5px,#07a9c3 5.5px,#079bd0 8.5px,#1388d3 11.5px,#117ada 14.5px,#0269e1 18.5px,#0265e1 19.5px,#0760e0 20.5px,#1c55d6 22.5px,#2b4bc7 24.5px,#353eae 28.5px,#363398 34.5px,#352c8b 43.5px,#352b88 63.5px,#362f90 75.5px,#3636a0 82.5px,#3342b6 87.5px,#284dca 90.5px,#1757d9 92.5px,#0363e1 94.5px,#036be0 96.5px,#1480d6 101.5px,#128bd3 103.5px,#079dcf 106.5px,#08aac0 109.5px,#17b1b3 111.5px,#3cba9b 114.5px,#79bf7d 118.5px,#9dbe6e 121.5px,#bfbc60 125.5px,#daba55 130.5px,#e9b94e 136.5px,#ecb94c 145.5px,#e6b950 172.5px,#ecb94c 203.5px,#e3b951 209.5px,#d0bb59 214.5px,#b7bd64 218.5px,#90bf73 222.5px,#68be84 225.5px,#3ab99c 228.5px)"></i><i style="background:linear-gradient(90deg,#33b8a1 0.5px,#12b0b6 3.5px,#07a9c3 5.5px,#079bd0 8.5px,#1389d3 11.5px,#117ad9 14.5px,#036ae1 18.5px,#0562e0 20.5px,#1957d8 22.5px,#294cc9 24.5px,#3341b6 27.5px,#36359c 33.5px,#362d8d 41.5px,#352b88 56.5px,#352d8d 72.5px,#36349b 80.5px,#3440b3 86.5px,#2c4ac5 89.5px,#1f53d4 91.5px,#0a5fdf 93.5px,#0364e1 94.5px,#046ce0 96.5px,#1481d6 101.5px,#128bd2 103.5px,#079ecf 106.5px,#08aac0 109.5px,#16b1b3 111.5px,#39b99d 114.5px,#72bf80 118.5px,#94bf72 121.5px,#b4bd65 125.5px,#cbbb5b 130.5px,#d6ba57 136.5px,#d3bb58 146.5px,#cabb5c 165.5px,#cdbb5b 188.5px,#d7ba57 204.5px,#d0bb59 210.5px,#bebc61 215.5px,#a5be6b 219.5px,#88bf76 222.5px,#53bd8f 226.5px,#37b99e 228.5px)"></i><i style="background:linear-gradient(90deg,#30b8a2 0.5px,#12afb7 3.5px,#07a9c3 5.5px,#079cd0 8.5px,#1389d3 11.5px,#127bd9 14.5px,#0267e1 19.5px,#0363e1 20.5px,#1658da 22.5px,#274dcc 24.5px,#3242b8 27.5px,#36359e 33.5px,#362e8e 41.5px,#352b88 55.5px,#352d8c 71.5px,#363399 79.5px,#343eaf 85.5px,#2b4bc7 89.5px,#1c55d6 91.5px,#0760e0 93.5px,#0265e1 94.5px,#056de0 96.5px,#137dd8 100.5px,#118cd2 103.5px,#069ece 106.5px,#08aac0 109.5px,#15b1b4 111.5px,#43bb97 115.5px,#76bf7e 119.5px,#94bf72 122.5px,#aebe67 126.5px,#bebc61 131.5px,#c2bc5f 137.5px,#aebe67 159.5px,#adbe68 182.5px,#bbbd62 197.5px,#c2bc5f 206.5px,#bcbd62 212.5px,#a7be6a 217.5px,#8abf76 221.5px,#68be84 224.5px,#34b8a0 228.5px)"></i><i style="background:linear-gradient(90deg,#2eb7a4 0.5px,#11afb8 3.5px,#07a9c3 5.5px,#079cd0 8.5px,#1485d4 12.5px,#0f78db 15.5px,#0268e1 19.5px,#0364e1 20.5px,#125adc 22.5px,#254fce 24.5px,#2f47c0 26.5px,#363aa6 31.5px,#363093 38.5px,#352b89 48.5px,#352c8a 68.5px,#363296 77.5px,#353ba8 83.5px,#3145bc 87.5px,#2251d1 90.5px,#0e5dde 92.5px,#0562e0 93.5px,#036ae1 95.5px,#137ed7 100.5px,#118dd2 103.5px,#069ece 106.5px,#08aac1 109.5px,#15b0b5 111.5px,#3eba9a 115.5px,#78bf7d 120.5px,#91bf73 123.5px,#a5be6b 127.5px,#aebe67 132.5px,#aabe69 139.5px,#90bf73 155.5px,#8abf76 171.5px,#90bf73 187.5px,#aebe67 207.5px,#acbe68 212.5px,#9bbf6f 217.5px,#80bf7a 221.5px,#55bd8e 225.5px,#31b8a2 228.5px)"></i><i style="background:linear-gradient(90deg,#27b6a8 0.5px,#0eaeba 3.5px,#06a8c4 5.5px,#079bd0 8.5px,#1485d4 12.5px,#1078da 15.5px,#0269e1 19.5px,#0265e1 20.5px,#105bdd 22.5px,#2350d0 24.5px,#3144bb 27.5px,#3637a0 33.5px,#362e8f 41.5px,#352b88 53.5px,#352d8b 69.5px,#363399 78.5px,#353eae 84.5px,#2c49c5 88.5px,#2052d3 90.5px,#0c5ede 92.5px,#0363e1 93.5px,#036be0 95.5px,#137ed7 100.5px,#118dd2 103.5px,#079ecf 106.5px,#07a9c2 109.5px,#11afb7 111.5px,#40ba99 116.5px,#71bf80 121.5px,#88bf76 125.5px,#93bf72 129.5px,#92bf72 134.5px,#7cbf7b 143.5px,#65be86 153.5px,#5cbe8a 165.5px,#5fbe88 184.5px,#6dbf82 193.5px,#91bf73 207.5px,#94bf72 212.5px,#8bbf75 216.5px,#77bf7e 220.5px,#53bd8e 224.5px,#2ab6a6 228.5px)"></i><i style="background:linear-gradient(90deg,#21b4ac 0.5px,#0cadbc 3.5px,#06a7c6 5.5px,#089bd0 8.5px,#1485d4 12.5px,#0d75dc 16.5px,#026ae1 19.5px,#0561e0 21.5px,#1857d8 23.5px,#284dca 25.5px,#3242b8 28.5px,#36369f 34.5px,#362e8f 42.5px,#352b88 55.5px,#362d8d 70.5px,#36349a 78.5px,#343eb0 84.5px,#2c4ac7 88.5px,#1e54d5 90.5px,#0a5fdf 92.5px,#0364e1 93.5px,#036ce0 95.5px,#137ed7 100.5px,#118dd2 103.5px,#079dcf 106.5px,#06a8c4 109.5px,#0eaeba 111.5px,#50bc90 119.5px,#6abe83 123.5px,#77bf7e 127.5px,#76bf7e 132.5px,#60be88 139.5px,#40ba99 148.5px,#34b8a0 156.5px,#30b7a2 176.5px,#37b99e 189.5px,#4abc94 197.5px,#72bf80 208.5px,#78bf7d 213.5px,#72bf80 217.5px,#5ebe89 221.5px,#24b5aa 228.5px)"></i><i style="background:linear-gradient(90deg,#1cb2b0 0.5px,#09acbe 3.5px,#06a3cb 6.5px,#0b95d2 9.5px,#1485d4 12.5px,#0d75dc 16.5px,#0267e1 20.5px,#0363e1 21.5px,#2053d4 24.5px,#2f46bf 27.5px,#3638a3 33.5px,#362f91 41.5px,#352b88 53.5px,#352d8c 68.5px,#363399 77.5px,#353dad 83.5px,#2e48c2 87.5px,#2450d0 89.5px,#115bdc 91.5px,#0364e1 93.5px,#046ce0 95.5px,#137fd7 100.5px,#118cd2 103.5px,#079ccf 106.5px,#08aac1 110.5px,#1fb3ae 114.5px,#4dbc92 121.5px,#5abd8b 125.5px,#5bbd8a 129.5px,#4dbc92 134.5px,#23b5ab 145.5px,#15b0b5 153.5px,#10afb8 171.5px,#15b0b5 189.5px,#24b5aa 197.5px,#57bd8c 211.5px,#5cbe8a 215.5px,#55bd8e 219.5px,#3ab99d 224.5px,#1eb3ae 228.5px)"></i><i style="background:linear-gradient(90deg,#16b1b4 0.5px,#08aac0 3.5px,#079ece 7.5px,#1485d4 12.5px,#0d76dc 16.5px,#0267e1 20.5px,#0363e1 21.5px,#135adb 23.5px,#254fce 25.5px,#2e47c1 27.5px,#353ba9 32.5px,#363195 39.5px,#352b89 50.5px,#352c89 64.5px,#363296 75.5px,#353caa 82.5px,#3046be 86.5px,#2251d2 89.5px,#0f5cde 91.5px,#0661e0 92.5px,#0269e1 94.5px,#137fd7 100.5px,#118cd2 103.5px,#079cd0 106.5px,#07a9c2 110.5px,#19b2b2 114.5px,#38b99d 120.5px,#43bb97 124.5px,#41ba98 128.5px,#2eb7a4 134.5px,#0eaeba 143.5px,#06a8c3 149.5px,#06a4c9 164.5px,#06a7c6 190.5px,#0aacbe 197.5px,#1eb3ae 204.5px,#3fba99 213.5px,#43bb97 217.5px,#3cba9b 221.5px,#1eb3ae 227.5px,#18b1b2 228.5px)"></i><i style="background:linear-gradient(90deg,#11afb7 0.5px,#07a9c2 3.5px,#0899d1 8.5px,#1485d4 12.5px,#0e76dc 16.5px,#0268e1 20.5px,#0364e1 21.5px,#115bdd 23.5px,#2350d0 25.5px,#3045bd 28.5px,#3638a3 34.5px,#362f91 42.5px,#352b88 54.5px,#352d8c 67.5px,#36359c 77.5px,#343fb0 83.5px,#2c4ac6 87.5px,#2053d3 89.5px,#0562e0 92.5px,#026ae1 94.5px,#137fd7 100.5px,#118cd2 103.5px,#069fce 107.5px,#08aac0 111.5px,#28b6a7 119.5px,#30b7a3 123.5px,#2ab6a6 128.5px,#09abbf 138.5px,#06a1cd 145.5px,#0b95d2 157.5px,#0a96d1 188.5px,#06a2cb 198.5px,#09abbe 204.5px,#2ab6a6 214.5px,#30b7a3 219.5px,#24b5aa 224.5px,#13b0b6 228.5px)"></i><i style="background:linear-gradient(90deg,#0dadbb 0.5px,#06a5c8 4.5px,#0998d1 8.5px,#1485d4 12.5px,#0e76dc 16.5px,#0269e1 20.5px,#0761e0 22.5px,#1956d8 24.5px,#284dcb 26.5px,#3341b4 30.5px,#36369e 36.5px,#362e8d 46.5px,#352b88 59.5px,#363093 72.5px,#3639a6 80.5px,#3144bb 85.5px,#254fce 88.5px,#0b5ede 91.5px,#0363e1 92.5px,#056ee0 95.5px,#137fd7 100.5px,#128bd2 103.5px,#079ecf 107.5px,#08abc0 112.5px,#1db3af 119.5px,#20b4ad 124.5px,#13b0b6 130.5px,#07a9c3 135.5px,#089ad0 142.5px,#1389d3 151.5px,#1486d3 170.5px,#1389d3 190.5px,#0a96d1 198.5px,#06a6c7 205.5px,#0aacbd 209.5px,#1fb3ad 217.5px,#1fb3ae 222.5px,#0eaeba 228.5px)"></i><i style="background:linear-gradient(90deg,#09abbf 0.5px,#079ecf 6.5px,#1485d4 12.5px,#0e77db 16.5px,#0269e1 20.5px,#0661e0 22.5px,#1757d9 24.5px,#274ecc 26.5px,#3244ba 29.5px,#3638a2 35.5px,#362f91 44.5px,#352b88 57.5px,#362f91 70.5px,#3638a3 79.5px,#3145bc 85.5px,#2450cf 88.5px,#0a5fdf 91.5px,#0363e1 92.5px,#056ee0 95.5px,#137fd7 100.5px,#128bd3 103.5px,#079cd0 107.5px,#08aac1 113.5px,#14b0b5 120.5px,#11afb7 125.5px,#06a7c5 132.5px,#0899d1 138.5px,#1487d3 144.5px,#127cd8 152.5px,#137dd8 191.5px,#138ad3 199.5px,#069fce 206.5px,#08aac0 212.5px,#14b0b5 219.5px,#12afb7 224.5px,#09abbe 228.5px)"></i><i style="background:linear-gradient(90deg,#07a9c3 0.5px,#079ccf 6.5px,#1484d4 12.5px,#0e77db 16.5px,#0269e1 20.5px,#0562e0 22.5px,#1f53d4 25.5px,#2c4ac7 27.5px,#353dad 32.5px,#36349a 39.5px,#352c8b 52.5px,#352c8a 61.5px,#363399 74.5px,#353cab 81.5px,#2d49c3 86.5px,#1b55d7 89.5px,#095fdf 91.5px,#0364e1 92.5px,#036be0 94.5px,#137fd7 100.5px,#138ad3 103.5px,#079ecf 108.5px,#08aac0 115.5px,#0bacbd 122.5px,#06a2cc 131.5px,#0a97d1 135.5px,#1485d4 140.5px,#0a73dd 149.5px,#0871df 160.5px,#0a72de 192.5px,#1483d5 201.5px,#0f90d2 205.5px,#06a0cd 210.5px,#09acbe 218.5px,#0bacbd 224.5px,#07a9c2 228.5px)"></i><i style="background:linear-gradient(90deg,#06a6c6 0.5px,#089bd0 6.5px,#1484d4 12.5px,#0e77db 16.5px,#036ae1 20.5px,#0363e1 22.5px,#1e54d5 25.5px,#2e48c2 28.5px,#353cab 33.5px,#363297 41.5px,#352c89 55.5px,#362e8f 66.5px,#3637a0 77.5px,#3341b5 83.5px,#284dcb 87.5px,#1956d8 89.5px,#0860e0 91.5px,#0364e1 92.5px,#036be0 94.5px,#137fd7 100.5px,#1389d3 103.5px,#079cd0 108.5px,#06a8c4 115.5px,#06a8c4 122.5px,#069ece 129.5px,#0e91d2 133.5px,#1483d5 137.5px,#0972de 143.5px,#0267e1 148.5px,#0562e0 155.5px,#0265e1 177.5px,#0363e1 191.5px,#036be0 196.5px,#1480d6 204.5px,#108ed2 208.5px,#079cd0 212.5px,#06a8c5 219.5px,#06a8c4 226.5px,#06a7c6 228.5px)"></i><i style="background:linear-gradient(90deg,#06a4ca 0.5px,#0899d1 6.5px,#1484d4 12.5px,#0c74dd 17.5px,#0267e1 21.5px,#0363e1 22.5px,#1c55d6 25.5px,#2d48c3 28.5px,#353cac 33.5px,#363399 41.5px,#352c8a 56.5px,#363194 69.5px,#3638a4 78.5px,#3144bb 84.5px,#274ecc 87.5px,#1857d8 89.5px,#0661e0 91.5px,#0269e1 93.5px,#137fd7 100.5px,#118cd2 104.5px,#079dcf 109.5px,#06a5c8 116.5px,#06a1cc 124.5px,#0b95d2 129.5px,#1486d4 133.5px,#1078da 137.5px,#0268e1 142.5px,#0761e0 144.5px,#2351d1 148.5px,#2c4ac6 152.5px,#284dcb 159.5px,#2053d4 170.5px,#264fcd 181.5px,#2c4ac6 189.5px,#264fcd 193.5px,#1c55d6 195.5px,#0661e0 198.5px,#0269e1 200.5px,#137fd6 207.5px,#118ed2 211.5px,#079ecf 216.5px,#06a5c8 223.5px,#06a4c9 228.5px)"></i><i style="background:linear-gradient(90deg,#06a2cc 0.5px,#0997d1 6.5px,#1483d4 12.5px,#0c74dd 17.5px,#0268e1 21.5px,#0364e1 22.5px,#105bdd 24.5px,#2251d1 26.5px,#3046be 29.5px,#3639a5 35.5px,#363296 43.5px,#352d8c 57.5px,#363399 73.5px,#353baa 80.5px,#2e47c1 85.5px,#264fcd 87.5px,#0c5dde 90.5px,#0562e0 91.5px,#0269e1 93.5px,#137fd7 100.5px,#128cd2 104.5px,#079dcf 110.5px,#06a3ca 117.5px,#079dcf 124.5px,#1484d4 132.5px,#0c74dd 137.5px,#0266e1 141.5px,#0363e1 142.5px,#1e54d5 145.5px,#2d49c4 148.5px,#3244ba 152.5px,#3046be 159.5px,#2c49c5 171.5px,#3045bd 183.5px,#3244ba 190.5px,#2c4ac5 194.5px,#1c55d6 197.5px,#0363e1 200.5px,#056ee0 203.5px,#137ed7 208.5px,#128bd2 212.5px,#079dcf 218.5px,#06a3ca 225.5px,#06a2cb 228.5px)"></i><i style="background:linear-gradient(90deg,#069fce 0.5px,#0a96d1 6.5px,#1483d4 12.5px,#0d75dc 17.5px,#0268e1 21.5px,#0761e0 23.5px,#1857d8 25.5px,#274dcc 27.5px,#3243b9 30.5px,#3639a5 35.5px,#363298 42.5px,#362e8f 58.5px,#36349a 74.5px,#353ba9 80.5px,#2e48c2 85.5px,#1d54d5 88.5px,#0363e1 91.5px,#046de0 94.5px,#137fd7 100.5px,#128bd2 104.5px,#079bd0 110.5px,#06a0cd 117.5px,#0999d1 124.5px,#1486d4 130.5px,#117ad9 134.5px,#036ae1 139.5px,#0363e1 141.5px,#1e54d5 144.5px,#2b4bc8 146.5px,#3342b6 150.5px,#343fb2 155.5px,#3244ba 171.5px,#343fb2 189.5px,#3244ba 193.5px,#2a4cc9 196.5px,#1d54d6 198.5px,#0363e1 201.5px,#056ee0 204.5px,#137dd7 209.5px,#138ad3 213.5px,#079dcf 220.5px,#06a0cd 227.5px,#06a0cd 228.5px)"></i><i style="background:linear-gradient(90deg,#079dcf 0.5px,#0d92d2 7.5px,#1483d5 12.5px,#0d75dc 17.5px,#0269e1 21.5px,#0562e0 23.5px,#2053d4 26.5px,#2f47c0 29.5px,#363aa7 34.5px,#36339a 40.5px,#362f91 58.5px,#36349c 75.5px,#353ba9 80.5px,#2e48c2 85.5px,#1b55d6 88.5px,#095fdf 90.5px,#0364e1 91.5px,#056ee0 94.5px,#137fd7 100.5px,#128bd3 104.5px,#079bd0 111.5px,#079dcf 118.5px,#0c94d2 124.5px,#1485d4 129.5px,#0e76dc 134.5px,#036ae1 138.5px,#0363e1 140.5px,#1f53d4 143.5px,#2c4ac7 145.5px,#3440b3 149.5px,#353baa 154.5px,#353eaf 175.5px,#353caa 189.5px,#3440b3 193.5px,#2b4bc8 197.5px,#1d54d5 199.5px,#0363e1 202.5px,#056ee0 205.5px,#127dd8 210.5px,#1388d3 214.5px,#089ad0 221.5px,#079dcf 228.5px)"></i><i style="background:linear-gradient(90deg,#089bd0 0.5px,#0e91d2 7.5px,#1483d5 12.5px,#0d76dc 17.5px,#026ae1 21.5px,#0363e1 23.5px,#1e54d5 26.5px,#2b4bc7 28.5px,#343eb0 32.5px,#36369e 37.5px,#363297 45.5px,#363195 63.5px,#36349b 75.5px,#353ba9 80.5px,#3045bd 84.5px,#2251d1 87.5px,#0f5cdd 89.5px,#0364e1 91.5px,#036be0 93.5px,#137fd7 100.5px,#118dd2 105.5px,#089ad0 112.5px,#0999d1 119.5px,#1486d3 127.5px,#1079da 132.5px,#0269e1 137.5px,#0462e1 139.5px,#2053d4 142.5px,#2c4ac6 144.5px,#343eb0 148.5px,#3638a3 153.5px,#3638a2 185.5px,#363aa6 191.5px,#3341b5 195.5px,#2c4ac7 198.5px,#1e54d5 200.5px,#0363e1 203.5px,#056de0 206.5px,#137ed7 212.5px,#118cd2 217.5px,#089ad1 224.5px,#089bd0 228.5px)"></i><i style="background:linear-gradient(90deg,#0998d1 0.5px,#0f90d2 7.5px,#1481d6 13.5px,#0b73dd 18.5px,#0267e1 22.5px,#0363e1 23.5px,#125adc 25.5px,#2450cf 27.5px,#3144bb 30.5px,#3638a3 35.5px,#363399 40.5px,#363398 72.5px,#36369f 77.5px,#3440b2 82.5px,#2d49c4 85.5px,#2152d3 87.5px,#0e5dde 89.5px,#0661e0 90.5px,#0269e1 92.5px,#137fd6 100.5px,#108fd2 106.5px,#0998d1 113.5px,#0d93d2 120.5px,#1482d5 127.5px,#0d75dc 132.5px,#0269e1 136.5px,#0661e0 138.5px,#1757d9 140.5px,#274dcb 142.5px,#3242b8 145.5px,#3637a2 150.5px,#36349a 155.5px,#36359c 189.5px,#353ba9 194.5px,#2f46bf 198.5px,#2053d4 201.5px,#0462e1 204.5px,#0269e1 206.5px,#137dd8 213.5px,#128ad3 218.5px,#0a97d1 225.5px,#0998d1 228.5px)"></i><i style="background:linear-gradient(90deg,#0a97d1 0.5px,#0f90d2 7.5px,#1482d5 13.5px,#0d75dc 18.5px,#0269e1 22.5px,#0462e1 24.5px,#1f53d4 27.5px,#2c4ac6 29.5px,#353dae 33.5px,#36359c 38.5px,#363297 44.5px,#363398 68.5px,#363399 74.5px,#363aa7 79.5px,#2e48c2 84.5px,#2350d0 86.5px,#115bdd 88.5px,#0364e1 90.5px,#056ee0 93.5px,#137ed7 99.5px,#128ad3 104.5px,#0a96d1 111.5px,#0c94d2 118.5px,#1483d5 126.5px,#0e76db 131.5px,#0268e1 136.5px,#0661e0 138.5px,#1857d9 140.5px,#274ecc 142.5px,#3243b9 145.5px,#3638a3 150.5px,#363399 156.5px,#363296 176.5px,#36359c 189.5px,#353cab 194.5px,#2f47c0 198.5px,#2053d4 201.5px,#0561e0 204.5px,#0269e1 206.5px,#137fd7 214.5px,#118dd2 220.5px,#0a97d1 227.5px,#0a97d1 228.5px)"></i><i style="background:linear-gradient(90deg,#0a97d1 0.5px,#0e91d2 7.5px,#1481d6 14.5px,#0c74dd 19.5px,#0269e1 23.5px,#0661e0 25.5px,#1757d9 27.5px,#274dcb 29.5px,#3242b7 32.5px,#3636a0 37.5px,#363296 42.5px,#36359c 59.5px,#363297 73.5px,#3639a5 78.5px,#2f47c1 83.5px,#244fcf 85.5px,#0a5fdf 88.5px,#0363e1 89.5px,#046de0 92.5px,#137dd8 98.5px,#1389d3 103.5px,#0b95d2 110.5px,#0c94d2 117.5px,#1482d5 126.5px,#0b74dd 132.5px,#0269e1 136.5px,#0562e0 138.5px,#1e54d5 141.5px,#2e48c2 144.5px,#353caa 149.5px,#36359c 155.5px,#363092 172.5px,#36359d 188.5px,#353eaf 194.5px,#2d48c3 198.5px,#1c55d6 201.5px,#0462e1 204.5px,#046ce0 207.5px,#137ed7 214.5px,#118cd2 220.5px,#0a96d1 227.5px,#0a96d1 228.5px)"></i><i style="background:linear-gradient(90deg,#0a96d1 0.5px,#0e91d2 7.5px,#1482d5 14.5px,#0b74dd 20.5px,#0268e1 24.5px,#0760e0 26.5px,#1956d7 28.5px,#294cca 30.5px,#3341b6 33.5px,#36359d 38.5px,#363195 42.5px,#36369f 56.5px,#363399 67.5px,#363296 72.5px,#36369f 76.5px,#3243b8 81.5px,#264ecd 84.5px,#0c5ede 87.5px,#0462e1 88.5px,#046ce0 91.5px,#127cd8 97.5px,#128ad3 103.5px,#0b95d1 110.5px,#0c94d2 117.5px,#1482d5 126.5px,#0b74dd 132.5px,#0269e1 136.5px,#0363e1 138.5px,#1a56d7 141.5px,#2c4ac6 144.5px,#353dae 149.5px,#36369e 155.5px,#362e8f 171.5px,#36369e 187.5px,#353eae 193.5px,#2c4ac7 198.5px,#1957d8 201.5px,#095fdf 203.5px,#0363e1 204.5px,#046ce0 207.5px,#137dd7 214.5px,#128bd2 220.5px,#0a96d1 228.5px)"></i><i style="background:linear-gradient(90deg,#0b96d1 0.5px,#0d92d2 7.5px,#1482d5 15.5px,#0a73dd 21.5px,#0267e1 25.5px,#0364e1 26.5px,#125adc 28.5px,#2450cf 30.5px,#2f47c0 32.5px,#3638a3 37.5px,#363195 41.5px,#363297 45.5px,#3638a2 55.5px,#36369e 64.5px,#363195 72.5px,#3637a0 76.5px,#3145bc 81.5px,#2152d2 84.5px,#0d5dde 86.5px,#0661e0 87.5px,#0269e1 89.5px,#137ed7 97.5px,#128cd2 103.5px,#0b95d1 110.5px,#0d93d2 117.5px,#1481d6 126.5px,#0b73dd 132.5px,#0266e1 137.5px,#0363e1 138.5px,#1658d9 141.5px,#294cc9 144.5px,#3341b6 148.5px,#3637a0 155.5px,#362d8d 169.5px,#362e8f 175.5px,#3638a3 188.5px,#3144bb 195.5px,#294dca 198.5px,#1558da 201.5px,#0364e1 204.5px,#046ce0 207.5px,#137dd8 214.5px,#138ad3 220.5px,#0b95d1 228.5px)"></i><i style="background:linear-gradient(90deg,#0b95d2 0.5px,#0e92d2 8.5px,#1481d6 16.5px,#0a72de 22.5px,#0266e1 26.5px,#0363e1 27.5px,#1f53d4 30.5px,#2d49c5 32.5px,#353baa 36.5px,#363297 40.5px,#363194 43.5px,#3639a5 54.5px,#3638a2 62.5px,#363093 71.5px,#363398 74.5px,#3440b3 79.5px,#2a4bc8 82.5px,#105bdd 85.5px,#0364e1 87.5px,#056ee0 90.5px,#137dd7 96.5px,#128bd2 102.5px,#0b95d1 110.5px,#0f90d2 118.5px,#1480d6 126.5px,#0871de 133.5px,#0267e1 137.5px,#0661e0 139.5px,#1b56d7 142.5px,#2b4bc8 145.5px,#343fb2 150.5px,#36349b 158.5px,#352c89 171.5px,#36349c 184.5px,#3440b2 192.5px,#2a4bc8 197.5px,#1956d7 200.5px,#0562e0 203.5px,#036ae1 206.5px,#137fd7 215.5px,#118dd2 222.5px,#0b95d2 228.5px)"></i><i style="background:linear-gradient(90deg,#0a96d1 0.5px,#0c94d2 8.5px,#1483d5 17.5px,#0c74dd 23.5px,#0269e1 27.5px,#0562e0 29.5px,#1f53d4 32.5px,#2c4ac6 34.5px,#353dad 38.5px,#3638a2 41.5px,#3637a1 44.5px,#353dae 55.5px,#353ba9 64.5px,#3637a0 71.5px,#363aa6 74.5px,#3145bc 78.5px,#2351d0 81.5px,#115bdd 83.5px,#0364e1 85.5px,#056de0 88.5px,#127dd8 94.5px,#128ad3 100.5px,#0a97d1 108.5px,#0c94d2 116.5px,#1483d5 125.5px,#0b74dd 132.5px,#0268e1 137.5px,#0462e1 139.5px,#1757d9 142.5px,#284dca 145.5px,#3341b4 150.5px,#36349b 159.5px,#352c8a 171.5px,#36349b 183.5px,#343fb1 191.5px,#2c4ac6 196.5px,#1d54d5 199.5px,#095fdf 202.5px,#0363e1 203.5px,#036be0 206.5px,#137fd7 215.5px,#118ed2 222.5px,#0a96d1 228.5px)"></i><i style="background:linear-gradient(90deg,#0998d1 0.5px,#0998d1 8.5px,#1487d3 17.5px,#1079da 23.5px,#0267e1 30.5px,#0760e0 32.5px,#2053d4 35.5px,#2e48c2 38.5px,#3340b4 42.5px,#3243b9 60.5px,#3440b3 71.5px,#3144bb 74.5px,#284dca 77.5px,#0b5edf 81.5px,#0462e1 82.5px,#036be0 85.5px,#137dd8 92.5px,#128bd2 98.5px,#0998d1 106.5px,#0998d1 114.5px,#1486d4 124.5px,#0e77db 131.5px,#0269e1 137.5px,#0364e1 139.5px,#1459db 142.5px,#264ecd 145.5px,#3244ba 149.5px,#3637a1 157.5px,#362e8f 168.5px,#362e8e 173.5px,#36369f 184.5px,#3342b7 192.5px,#2a4cc9 196.5px,#1a56d7 199.5px,#0661e0 202.5px,#0267e1 204.5px,#1480d6 215.5px,#108fd2 222.5px,#0998d1 228.5px)"></i><i style="background:linear-gradient(90deg,#089ad0 0.5px,#089ad0 9.5px,#118dd2 17.5px,#137fd7 23.5px,#0266e1 33.5px,#0363e1 34.5px,#1459da 37.5px,#254fce 40.5px,#2c4ac5 43.5px,#2c49c5 70.5px,#2450d0 74.5px,#0b5edf 78.5px,#0265e1 80.5px,#076fdf 84.5px,#1480d6 91.5px,#108ed2 97.5px,#089bd0 105.5px,#089ad1 114.5px,#1487d3 124.5px,#117ada 130.5px,#0267e1 138.5px,#0562e0 140.5px,#1857d9 143.5px,#2c4ac6 147.5px,#353dae 153.5px,#363398 162.5px,#362e8f 171.5px,#36349a 181.5px,#343fb2 190.5px,#2c4ac6 195.5px,#1658d9 199.5px,#0462e1 202.5px,#036ae1 205.5px,#137ed7 214.5px,#128cd2 220.5px,#089ad0 228.5px)"></i><i style="background:linear-gradient(90deg,#079cd0 0.5px,#079dcf 9.5px,#0d93d2 17.5px,#1484d4 23.5px,#0c75dd 30.5px,#0267e1 36.5px,#0562e0 38.5px,#1a56d7 43.5px,#2252d2 48.5px,#2251d2 65.5px,#1b55d6 70.5px,#0363e1 76.5px,#046de0 80.5px,#137ed7 88.5px,#118dd2 94.5px,#079bd0 102.5px,#079ecf 111.5px,#0c93d2 119.5px,#1483d5 126.5px,#0c74dd 133.5px,#0268e1 138.5px,#0363e1 140.5px,#1459da 143.5px,#264ecd 146.5px,#3144bb 150.5px,#3637a2 158.5px,#363093 168.5px,#363194 175.5px,#3638a2 184.5px,#3144bb 192.5px,#254fce 196.5px,#0d5dde 200.5px,#0364e1 202.5px,#056ee0 206.5px,#137fd7 214.5px,#118dd2 220.5px,#079bd0 228.5px)"></i><i style="background:linear-gradient(90deg,#079dcf 0.5px,#06a0cd 10.5px,#0c94d2 19.5px,#1483d5 26.5px,#0c74dd 33.5px,#0268e1 39.5px,#0561e0 43.5px,#1559da 52.5px,#1459da 62.5px,#0761e0 70.5px,#0267e1 74.5px,#0d75dc 81.5px,#1484d4 88.5px,#079cd0 99.5px,#06a0cd 109.5px,#0a97d1 118.5px,#1484d4 126.5px,#0c75dc 133.5px,#0267e1 139.5px,#0561e0 141.5px,#1857d8 144.5px,#2c4ac6 148.5px,#353eaf 154.5px,#36349a 163.5px,#363194 172.5px,#36359e 181.5px,#3440b2 189.5px,#2c4ac6 194.5px,#1757d9 198.5px,#0562e0 201.5px,#026ae1 204.5px,#1480d6 214.5px,#108ed2 220.5px,#079dcf 228.5px)"></i><i style="background:linear-gradient(90deg,#06a0cd 0.5px,#06a4ca 11.5px,#0899d1 21.5px,#1484d4 30.5px,#0b74dd 39.5px,#036ae1 48.5px,#0269e1 64.5px,#0971de 73.5px,#1483d5 83.5px,#0e91d2 89.5px,#069ece 96.5px,#06a4c9 107.5px,#079bd0 117.5px,#1483d5 127.5px,#0b74dd 134.5px,#0268e1 139.5px,#0363e1 141.5px,#1459da 144.5px,#264fcd 147.5px,#3144bb 151.5px,#3638a3 159.5px,#363296 168.5px,#363399 177.5px,#353cab 186.5px,#2f47c0 192.5px,#2152d3 196.5px,#0760e0 200.5px,#0266e1 202.5px,#0972de 207.5px,#1481d5 214.5px,#0f90d2 220.5px,#069ece 227.5px,#06a0cd 228.5px)"></i><i style="background:linear-gradient(90deg,#06a3cb 0.5px,#06a8c4 11.5px,#069fce 23.5px,#0e91d2 30.5px,#1483d5 37.5px,#0e76dc 50.5px,#0f78db 66.5px,#1485d4 78.5px,#069ece 90.5px,#06a8c5 101.5px,#06a5c8 111.5px,#0998d1 120.5px,#1485d4 127.5px,#0d75dc 134.5px,#0267e1 140.5px,#0562e0 142.5px,#1757d9 145.5px,#2c4ac7 149.5px,#343eaf 155.5px,#36349b 164.5px,#363296 172.5px,#3637a0 181.5px,#3342b7 189.5px,#274ecc 194.5px,#1658d9 197.5px,#0462e1 200.5px,#036ae1 203.5px,#1480d6 213.5px,#118dd2 218.5px,#079cd0 224.5px,#06a2cb 228.5px)"></i><i style="background:linear-gradient(90deg,#06a5c8 0.5px,#09acbe 11.5px,#06a8c5 22.5px,#0998d1 34.5px,#1487d3 44.5px,#1481d5 58.5px,#1389d3 71.5px,#069fce 84.5px,#08abc0 97.5px,#08aac0 107.5px,#069ece 118.5px,#0f8fd2 124.5px,#1482d5 129.5px,#0972de 136.5px,#0266e1 141.5px,#0760e0 143.5px,#2152d3 147.5px,#2f47c1 151.5px,#3639a6 159.5px,#363297 168.5px,#363398 175.5px,#353ba9 184.5px,#2e47c1 191.5px,#2053d4 195.5px,#0661e0 199.5px,#0266e1 201.5px,#0a72de 206.5px,#1482d5 213.5px,#0f90d2 218.5px,#079dcf 223.5px,#06a5c8 228.5px)"></i><i style="background:linear-gradient(90deg,#06a7c5 0.5px,#11afb7 11.5px,#0faeb9 20.5px,#06a7c6 31.5px,#0997d1 44.5px,#0f90d2 57.5px,#0998d1 70.5px,#06a7c6 83.5px,#12afb7 97.5px,#0eaeba 106.5px,#06a6c7 115.5px,#0998d1 122.5px,#1486d4 128.5px,#0f77db 134.5px,#0267e1 141.5px,#0462e1 143.5px,#1658d9 146.5px,#2b4bc7 150.5px,#343fb0 156.5px,#36349b 165.5px,#363296 172.5px,#3637a1 180.5px,#3242b8 188.5px,#264ecd 193.5px,#0e5cde 197.5px,#0363e1 199.5px,#036ae1 202.5px,#137fd7 211.5px,#118cd2 216.5px,#079dcf 222.5px,#06a7c5 228.5px)"></i><i style="background:linear-gradient(90deg,#07aac2 0.5px,#1cb3af 12.5px,#1eb3ae 20.5px,#07a9c2 37.5px,#069fce 51.5px,#06a1cd 65.5px,#09abbf 79.5px,#1eb3ae 94.5px,#1cb3b0 102.5px,#07a9c3 114.5px,#089ad0 122.5px,#1485d4 129.5px,#0e76db 135.5px,#0269e1 141.5px,#0364e1 143.5px,#1956d8 147.5px,#2c4ac6 151.5px,#353eaf 157.5px,#36349a 166.5px,#363297 173.5px,#3639a4 181.5px,#3046be 189.5px,#2450d0 193.5px,#0b5edf 197.5px,#0364e1 199.5px,#056ee0 203.5px,#1480d6 211.5px,#108ed2 216.5px,#079dcf 221.5px,#07a9c2 228.5px)"></i><i style="background:linear-gradient(90deg,#0aacbe 0.5px,#2ab6a6 12.5px,#32b8a1 19.5px,#2bb6a6 28.5px,#0eaeba 45.5px,#08abc0 57.5px,#0eaeb9 69.5px,#30b7a2 90.5px,#30b7a3 98.5px,#1fb4ad 106.5px,#07aac1 115.5px,#089ad1 123.5px,#1487d3 129.5px,#0f78db 135.5px,#0268e1 142.5px,#0363e1 144.5px,#1559da 147.5px,#264fcd 150.5px,#3243b8 155.5px,#36369f 164.5px,#363297 171.5px,#36369f 178.5px,#3243b9 187.5px,#294cc9 191.5px,#1b56d7 194.5px,#0860df 197.5px,#0363e1 198.5px,#036be1 201.5px,#137fd6 210.5px,#118dd2 215.5px,#079dcf 220.5px,#08aac1 227.5px,#09abbe 228.5px)"></i><i style="background:linear-gradient(90deg,#0faeb9 0.5px,#3dba9b 13.5px,#4bbc93 20.5px,#4bbc93 28.5px,#2cb7a5 50.5px,#2ab6a6 61.5px,#38b99e 73.5px,#4bbc93 86.5px,#4bbc93 94.5px,#3cba9b 101.5px,#0aacbd 115.5px,#06a3ca 120.5px,#0a96d1 125.5px,#1486d4 130.5px,#0f77db 136.5px,#0267e1 143.5px,#0562e0 145.5px,#1757d9 148.5px,#2b4bc7 152.5px,#343fb0 158.5px,#36359d 166.5px,#363399 172.5px,#3638a3 179.5px,#2f46bf 188.5px,#2251d1 192.5px,#0a5fdf 196.5px,#0265e1 198.5px,#066edf 202.5px,#137ed7 209.5px,#118dd2 214.5px,#069fce 220.5px,#08abc0 226.5px,#0eaeba 228.5px)"></i><i style="background:linear-gradient(90deg,#14b0b5 0.5px,#51bd90 13.5px,#67be85 20.5px,#71bf80 28.5px,#6abe83 39.5px,#5dbe8a 54.5px,#61be88 66.5px,#71bf80 83.5px,#6cbf82 91.5px,#5bbd8b 98.5px,#2ab6a7 109.5px,#0badbc 116.5px,#06a5c8 120.5px,#0899d1 125.5px,#1485d4 131.5px,#0e76dc 137.5px,#0269e1 143.5px,#0363e1 145.5px,#1956d8 149.5px,#2c4ac6 153.5px,#343eaf 159.5px,#36359c 167.5px,#36349a 173.5px,#353ba9 181.5px,#2e48c2 188.5px,#1f53d4 192.5px,#0661e0 196.5px,#0266e1 198.5px,#0a72de 203.5px,#1480d6 209.5px,#128cd2 213.5px,#069fce 219.5px,#09abbf 225.5px,#13b0b6 228.5px)"></i><i style="background:linear-gradient(90deg,#1bb2b0 0.5px,#66be85 13.5px,#83bf79 20.5px,#93bf72 28.5px,#98bf70 39.5px,#94bf72 62.5px,#97bf70 81.5px,#8cbf75 90.5px,#77bf7e 97.5px,#53bd8f 104.5px,#19b2b2 114.5px,#09abbf 118.5px,#06a1cc 123.5px,#0b95d2 127.5px,#1484d4 132.5px,#0d75dc 138.5px,#0268e1 144.5px,#0462e1 146.5px,#1559da 149.5px,#264fcd 152.5px,#3243b8 157.5px,#3637a1 165.5px,#36349a 171.5px,#3638a3 178.5px,#3045bd 186.5px,#254fce 190.5px,#0d5dde 194.5px,#0363e1 196.5px,#036ae1 199.5px,#137fd6 208.5px,#128bd3 212.5px,#069fce 218.5px,#07aac1 223.5px,#15b0b5 227.5px,#1ab2b1 228.5px)"></i><i style="background:linear-gradient(90deg,#23b4ab 0.5px,#6fbf81 11.5px,#90bf73 17.5px,#abbe68 25.5px,#bbbd62 35.5px,#c0bc60 52.5px,#bdbd61 76.5px,#b1bd66 86.5px,#9abf6f 94.5px,#78bf7d 101.5px,#3ab99d 110.5px,#10afb8 117.5px,#07a9c2 120.5px,#089bd0 126.5px,#1486d4 132.5px,#0e77db 138.5px,#0269e1 144.5px,#0661e0 147.5px,#1757d9 150.5px,#2b4bc7 154.5px,#343fb0 160.5px,#36369f 167.5px,#36359c 173.5px,#353caa 180.5px,#2d49c3 187.5px,#1d54d5 191.5px,#0a5fdf 194.5px,#0364e1 196.5px,#066edf 200.5px,#1481d6 208.5px,#118dd2 212.5px,#069ece 217.5px,#07aac2 222.5px,#16b1b4 226.5px,#21b4ac 228.5px)"></i><i style="background:linear-gradient(90deg,#28b6a7 0.5px,#74bf7f 10.5px,#99bf70 16.5px,#babd63 24.5px,#cfbb5a 33.5px,#dbba55 45.5px,#dcba54 66.5px,#d1bb59 79.5px,#bebc61 88.5px,#a0be6d 96.5px,#7fbf7a 102.5px,#41ba98 110.5px,#19b2b1 116.5px,#08abc0 120.5px,#079cd0 126.5px,#1485d4 133.5px,#0d76dc 139.5px,#0268e1 145.5px,#0363e1 147.5px,#1956d8 151.5px,#2c4ac7 155.5px,#353dae 162.5px,#3637a0 169.5px,#3638a3 175.5px,#3242b8 183.5px,#274dcc 188.5px,#1857d8 191.5px,#0364e1 195.5px,#056de0 199.5px,#1480d6 207.5px,#128bd2 211.5px,#06a0cd 217.5px,#09abbf 222.5px,#1ab2b1 226.5px,#26b5a9 228.5px)"></i><i style="background:linear-gradient(90deg,#2bb6a6 0.5px,#7abf7c 10.5px,#a0be6d 16.5px,#c3bc5f 24.5px,#ddba54 34.5px,#ecb94d 46.5px,#eeb94b 62.5px,#e4b950 75.5px,#d1bb59 85.5px,#b1bd66 94.5px,#8bbf75 101.5px,#56bd8d 108.5px,#28b6a8 114.5px,#0dadbb 119.5px,#06a7c5 122.5px,#0a97d1 128.5px,#1486d4 133.5px,#0f77db 139.5px,#0268e1 146.5px,#0363e1 148.5px,#1956d8 152.5px,#2b4bc7 156.5px,#343fb1 163.5px,#363aa6 170.5px,#353cab 176.5px,#2f47c1 184.5px,#2351d0 188.5px,#0c5dde 192.5px,#0363e1 194.5px,#046ce0 198.5px,#1481d6 207.5px,#118dd2 211.5px,#079ecf 216.5px,#07aac2 221.5px,#17b1b3 225.5px,#29b6a7 228.5px)"></i><i style="background:linear-gradient(90deg,#2eb7a4 0.5px,#78bf7d 9.5px,#a1be6d 15.5px,#c7bc5d 23.5px,#e5b950 32.5px,#f7ba45 42.5px,#fdbe3e 57.5px,#f6ba45 72.5px,#e3b951 82.5px,#c6bc5e 91.5px,#9ebe6e 99.5px,#74bf7f 105.5px,#32b8a1 113.5px,#13b0b6 118.5px,#08aac1 121.5px,#079bd0 127.5px,#1484d4 134.5px,#0e76dc 140.5px,#0267e1 147.5px,#0462e1 149.5px,#1956d8 153.5px,#2a4cc9 157.5px,#3341b5 164.5px,#353dad 171.5px,#3341b5 178.5px,#294cc9 185.5px,#1857d8 189.5px,#0363e1 193.5px,#046ce0 197.5px,#137fd6 206.5px,#128bd3 210.5px,#069fce 216.5px,#08aac0 221.5px,#19b2b2 225.5px,#2cb7a5 228.5px)"></i><i style="background:linear-gradient(90deg,#31b8a2 0.5px,#7dbf7b 9.5px,#adbe68 16.5px,#d8ba56 25.5px,#f5ba46 34.5px,#fec13a 41.5px,#fec932 54.5px,#ffc436 69.5px,#fabc42 77.5px,#e5b950 85.5px,#c0bc60 94.5px,#97bf70 101.5px,#69be84 107.5px,#2eb7a4 114.5px,#10afb9 119.5px,#07a9c3 122.5px,#0899d1 128.5px,#1486d4 134.5px,#0d75dc 141.5px,#0269e1 147.5px,#0562e0 150.5px,#1e54d5 155.5px,#2d49c5 160.5px,#3341b5 168.5px,#3342b7 175.5px,#2a4bc8 183.5px,#1d54d5 187.5px,#0462e1 192.5px,#036be0 196.5px,#1481d6 206.5px,#118cd2 210.5px,#06a0cd 216.5px,#09abbf 221.5px,#1bb2b0 225.5px,#2fb7a3 228.5px)"></i><i style="background:linear-gradient(90deg,#34b8a0 0.5px,#83bf79 9.5px,#b3bd65 16.5px,#e1b952 25.5px,#fabc42 32.5px,#ffc436 37.5px,#fad32a 50.5px,#f9d329 63.5px,#fec535 76.5px,#fbbc40 81.5px,#e3b951 88.5px,#b6bd64 97.5px,#87bf77 104.5px,#41ba99 112.5px,#1cb3af 117.5px,#09abbe 121.5px,#06a0cd 126.5px,#0e90d2 131.5px,#1484d4 135.5px,#0c74dd 142.5px,#0268e1 148.5px,#0562e0 151.5px,#2052d3 157.5px,#2d48c3 163.5px,#3144bb 171.5px,#2d49c3 179.5px,#2053d4 185.5px,#0462e1 191.5px,#036ae1 195.5px,#137fd6 205.5px,#118ed2 210.5px,#069ece 215.5px,#07aac1 220.5px,#17b1b3 224.5px,#32b8a1 228.5px)"></i><i style="background:linear-gradient(90deg,#31b8a2 0.5px,#7dbf7b 9.5px,#aebe67 16.5px,#ddba54 25.5px,#fabb42 33.5px,#ffc337 38.5px,#fad12b 50.5px,#fad12b 63.5px,#ffc436 75.5px,#fbbc41 80.5px,#e3b951 87.5px,#b7bd64 96.5px,#89bf76 103.5px,#45bb96 111.5px,#20b4ad 116.5px,#0cadbc 120.5px,#06a7c6 123.5px,#0997d1 129.5px,#1487d3 134.5px,#1079da 140.5px,#0269e1 148.5px,#0363e1 151.5px,#1a56d7 156.5px,#2a4cc9 161.5px,#3145bc 169.5px,#2f47bf 176.5px,#274ecc 182.5px,#1956d8 186.5px,#0760e0 190.5px,#0265e1 192.5px,#066fdf 197.5px,#1480d6 205.5px,#118dd2 210.5px,#079ecf 215.5px,#07a9c2 220.5px,#15b1b4 224.5px,#2eb7a3 228.5px)"></i><i style="background:linear-gradient(90deg,#25b5a9 0.5px,#59bd8c 7.5px,#8dbf74 14.5px,#b9bd63 22.5px,#e0ba53 32.5px,#f7ba45 42.5px,#fec03b 52.5px,#fdbe3d 65.5px,#f3ba48 74.5px,#d8ba56 84.5px,#b2bd65 93.5px,#8abf75 100.5px,#4dbc92 108.5px,#23b4ab 114.5px,#0bacbd 119.5px,#06a5c9 123.5px,#0998d1 128.5px,#1485d4 134.5px,#0d76dc 141.5px,#0268e1 148.5px,#0561e0 151.5px,#1e54d5 156.5px,#2d49c5 161.5px,#3342b6 168.5px,#3342b6 174.5px,#2a4bc8 182.5px,#1d54d6 186.5px,#0562e0 191.5px,#036ae1 195.5px,#1481d6 206.5px,#108ed2 211.5px,#079ecf 216.5px,#08abc0 222.5px,#18b2b2 226.5px,#24b5aa 228.5px)"></i><i style="background:linear-gradient(90deg,#1bb2b0 0.5px,#46bb96 7.5px,#84bf78 16.5px,#abbe68 24.5px,#ccbb5b 34.5px,#e1b952 45.5px,#e9b94e 57.5px,#e1ba52 69.5px,#cbbb5b 80.5px,#a9be69 90.5px,#81bf79 98.5px,#3cba9b 108.5px,#15b0b5 115.5px,#07aac1 119.5px,#079bd0 126.5px,#1486d4 133.5px,#0e77db 140.5px,#0267e1 148.5px,#0363e1 150.5px,#1658d9 154.5px,#284dcb 158.5px,#3242b8 164.5px,#353dad 170.5px,#343fb1 175.5px,#2d49c4 182.5px,#1b55d7 187.5px,#0761e0 191.5px,#0265e1 193.5px,#0770df 198.5px,#1380d6 206.5px,#118cd2 211.5px,#079ecf 217.5px,#08aac1 223.5px,#1ab2b1 228.5px)"></i><i style="background:linear-gradient(90deg,#13b0b6 0.5px,#3ab99c 8.5px,#7bbf7c 19.5px,#9ebe6e 27.5px,#b9bd63 37.5px,#c9bc5c 49.5px,#cabb5c 62.5px,#bdbc61 74.5px,#a6be6a 84.5px,#83bf79 93.5px,#4abc94 103.5px,#19b2b1 112.5px,#08abc0 117.5px,#079dcf 124.5px,#1485d4 133.5px,#0c74dd 141.5px,#0269e1 147.5px,#0462e0 150.5px,#1956d8 154.5px,#2b4bc8 158.5px,#343eaf 165.5px,#3639a6 170.5px,#353cab 175.5px,#2f47c0 182.5px,#2351d1 186.5px,#0d5dde 190.5px,#0462e1 192.5px,#036be0 196.5px,#1480d6 207.5px,#118dd2 212.5px,#079ecf 218.5px,#08abc0 225.5px,#12afb7 228.5px)"></i><i style="background:linear-gradient(90deg,#0badbc 0.5px,#2fb7a3 9.5px,#6ebf82 22.5px,#8dbf74 31.5px,#a3be6c 42.5px,#acbe68 55.5px,#a7be6a 68.5px,#96bf71 79.5px,#7cbf7b 88.5px,#4fbc91 98.5px,#17b1b3 110.5px,#08abc0 115.5px,#079dcf 123.5px,#1485d4 132.5px,#0d75dc 140.5px,#0268e1 147.5px,#0661e0 150.5px,#1658d9 153.5px,#2a4cc9 157.5px,#343fb0 163.5px,#3636a0 169.5px,#3637a0 173.5px,#3341b5 180.5px,#294cc9 185.5px,#1558da 189.5px,#0364e1 193.5px,#046ce0 197.5px,#137fd7 207.5px,#118dd2 213.5px,#079dcf 219.5px,#07aac2 226.5px,#0bacbd 228.5px)"></i><i style="background:linear-gradient(90deg,#06a8c3 0.5px,#0faeb9 5.5px,#53bd8f 25.5px,#6fbf81 36.5px,#7dbf7b 48.5px,#7fbf7a 63.5px,#71bf80 76.5px,#58bd8c 87.5px,#14b0b5 107.5px,#07a9c2 113.5px,#0998d1 123.5px,#1484d4 131.5px,#0d76dc 139.5px,#0267e1 147.5px,#0363e1 149.5px,#1857d8 153.5px,#2b4bc7 157.5px,#343eaf 163.5px,#36369e 169.5px,#36369e 173.5px,#3340b3 180.5px,#2a4bc8 185.5px,#1757d9 189.5px,#0363e1 193.5px,#046de0 198.5px,#137fd7 208.5px,#128cd2 214.5px,#069fce 222.5px,#06a8c4 228.5px)"></i><i style="background:linear-gradient(90deg,#06a1cc 0.5px,#0aacbd 10.5px,#2db7a5 30.5px,#39b99d 45.5px,#39b99d 68.5px,#2db7a4 83.5px,#0bacbd 103.5px,#06a5c9 111.5px,#0a96d1 120.5px,#1485d4 128.5px,#0e76dc 137.5px,#0267e1 146.5px,#0661e0 149.5px,#1956d8 153.5px,#2c4ac5 158.5px,#353dae 165.5px,#3639a4 170.5px,#353ba9 175.5px,#2e48c2 183.5px,#1e54d5 188.5px,#0a5fdf 192.5px,#0265e1 195.5px,#0770df 201.5px,#1480d6 211.5px,#118ed2 218.5px,#079ecf 226.5px,#06a1cc 228.5px)"></i><i style="background:linear-gradient(90deg,#0998d1 0.5px,#06a7c5 16.5px,#0cadbc 37.5px,#09abbe 86.5px,#06a0cd 107.5px,#0d92d2 117.5px,#1484d4 125.5px,#0c74dd 136.5px,#0267e1 145.5px,#0562e0 148.5px,#1a56d7 153.5px,#2d49c4 159.5px,#353dad 168.5px,#353dac 173.5px,#3046be 181.5px,#254fce 186.5px,#0c5ede 192.5px,#0364e1 195.5px,#056de0 201.5px,#137ed7 213.5px,#128bd2 221.5px,#0997d1 228.5px)"></i><i style="background:linear-gradient(90deg,#128cd2 0.5px,#089bd0 17.5px,#079cd0 40.5px,#089bd0 68.5px,#079cd0 94.5px,#0f90d2 110.5px,#1482d5 122.5px,#0a72de 135.5px,#0266e1 144.5px,#0562e0 147.5px,#1758d9 152.5px,#2a4cc9 158.5px,#3341b5 167.5px,#3340b3 173.5px,#2d49c4 182.5px,#1a56d7 189.5px,#0860e0 194.5px,#0265e1 197.5px,#066fdf 204.5px,#137fd6 218.5px,#128bd2 228.5px)"></i><i style="background:linear-gradient(90deg,#1481d6 0.5px,#1388d3 20.5px,#137ed7 60.5px,#1388d3 97.5px,#127cd8 120.5px,#0267e1 142.5px,#0661e0 146.5px,#1c55d6 153.5px,#2d49c5 161.5px,#3244ba 170.5px,#2f47c0 178.5px,#264fcd 185.5px,#1459da 191.5px,#0363e1 197.5px,#036ce0 204.5px,#137dd8 223.5px,#1481d6 228.5px)"></i><i style="background:linear-gradient(90deg,#1079da 0.5px,#117ad9 22.5px,#036be0 56.5px,#0a73dd 76.5px,#127cd9 100.5px,#0c74dd 123.5px,#0266e1 140.5px,#0661e0 144.5px,#1857d8 151.5px,#274ecc 158.5px,#2f47c0 168.5px,#2d49c3 178.5px,#2053d4 188.5px,#0860e0 197.5px,#0364e1 200.5px,#046de0 209.5px,#1079da 228.5px)"></i><i style="background:linear-gradient(90deg,#0b74dd 0.5px,#0c74dd 23.5px,#0267e1 51.5px,#026ae1 69.5px,#0d76dc 100.5px,#0770df 123.5px,#0265e1 137.5px,#0562e0 141.5px,#1757d9 149.5px,#274ecc 157.5px,#2e47c1 167.5px,#2e48c3 177.5px,#2450cf 187.5px,#0b5edf 198.5px,#0364e1 203.5px,#056de0 215.5px,#0b74dd 228.5px)"></i><i style="background:linear-gradient(90deg,#066edf 0.5px,#046de0 25.5px,#0363e1 45.5px,#0760e0 60.5px,#0267e1 76.5px,#076fdf 103.5px,#0268e1 128.5px,#0561e0 137.5px,#1857d8 147.5px,#284dca 157.5px,#2e47c1 170.5px,#2b4bc7 182.5px,#1a56d7 194.5px,#0860df 203.5px,#0265e1 209.5px,#066ee0 228.5px)"></i><i style="background:linear-gradient(90deg,#0268e1 0.5px,#0265e1 26.5px,#0661e0 35.5px,#1758d9 55.5px,#125adc 67.5px,#0364e1 84.5px,#0269e1 110.5px,#0561e0 130.5px,#1658d9 142.5px,#274ecc 154.5px,#2e48c2 168.5px,#2c4ac6 182.5px,#1b55d7 197.5px,#0960df 209.5px,#0364e1 217.5px,#0268e1 228.5px)"></i><i style="background:linear-gradient(90deg,#0860df 0.5px,#0b5ede 19.5px,#2152d2 43.5px,#264ecd 60.5px,#1c55d6 77.5px,#0b5edf 95.5px,#0860df 114.5px,#135adb 132.5px,#274dcb 152.5px,#2e48c2 170.5px,#294cca 188.5px,#1658d9 207.5px,#0a5fdf 223.5px,#0860df 228.5px)"></i><i style="background:linear-gradient(90deg,#1a56d7 0.5px,#2351d1 23.5px,#2e48c2 47.5px,#2e48c2 66.5px,#2052d3 95.5px,#1a56d7 115.5px,#2450cf 139.5px,#2e48c2 163.5px,#2d49c3 183.5px,#1b55d6 220.5px,#1a56d7 228.5px)"></i><i style="background:linear-gradient(90deg,#2450d0 0.5px,#2b4bc7 24.5px,#3342b6 54.5px,#3145bc 73.5px,#2450cf 106.5px,#274ecc 128.5px,#3342b7 167.5px,#3144bb 186.5px,#2450cf 222.5px,#2450d0 228.5px)"></i><i style="background:linear-gradient(90deg,#2c4ac7 0.5px,#3046be 24.5px,#353dac 55.5px,#3340b4 74.5px,#2c4ac5 105.5px,#2d49c4 127.5px,#353dad 169.5px,#3341b4 189.5px,#2c4ac6 221.5px,#2c4ac7 228.5px)"></i><i style="background:linear-gradient(90deg,#3045bd 0.5px,#3341b5 24.5px,#3638a3 55.5px,#353baa 73.5px,#3145bc 104.5px,#3144bb 127.5px,#3638a3 170.5px,#353cac 190.5px,#3145bc 220.5px,#3045bd 228.5px)"></i><i style="background:linear-gradient(90deg,#3341b4 0.5px,#353cac 25.5px,#363399 56.5px,#3638a2 75.5px,#3340b3 105.5px,#343fb2 128.5px,#363399 170.5px,#3638a2 189.5px,#3340b3 219.5px,#3341b4 228.5px)"></i><i style="background:linear-gradient(90deg,#353dad 0.5px,#3639a5 25.5px,#363092 56.5px,#36359c 75.5px,#353cac 104.5px,#353caa 128.5px,#363092 171.5px,#3637a0 195.5px,#353dad 222.5px,#353dad 228.5px)"></i><i style="background:linear-gradient(90deg,#353dae 0.5px,#3639a5 29.5px,#363398 57.5px,#353dad 106.5px,#353baa 133.5px,#363398 171.5px,#353dad 221.5px,#353dae 228.5px)"></i><i style="background:linear-gradient(90deg,#353eae 0.5px,#3639a5 35.5px,#36369e 60.5px,#353eae 108.5px,#353ba9 141.5px,#36369e 173.5px,#353eae 223.5px,#353eae 228.5px)"></i><i style="background:linear-gradient(90deg,#353eaf 0.5px,#3639a5 62.5px,#353eaf 114.5px,#3639a5 177.5px,#353eaf 228.5px)"></i><i style="background:linear-gradient(90deg,#343eaf 0.5px,#353cab 69.5px,#353eaf 130.5px,#353cab 183.5px,#343eaf 228.5px)"></i><i style="background:linear-gradient(90deg,#343eaf 0.5px,#343eaf 228.5px)"></i><i style="background:linear-gradient(90deg,#353ba8 0.5px,#353ba8 228.5px)"></i><i style="background:linear-gradient(90deg,#3637a1 0.5px,#3637a1 87.5px,#3637a1 210.5px,#3637a1 228.5px)"></i><i style="background:linear-gradient(90deg,#36349a 0.5px,#363398 76.5px,#363398 152.5px,#36349a 228.5px)"></i><i style="background:linear-gradient(90deg,#363194 0.5px,#362f91 71.5px,#363092 139.5px,#362f91 186.5px,#363194 228.5px)"></i><i style="background:linear-gradient(90deg,#362e8d 0.5px,#352c89 68.5px,#352d8d 132.5px,#352c89 182.5px,#362e8d 228.5px)"></i><i style="background:linear-gradient(90deg,#363092 0.5px,#362e8f 72.5px,#362f91 141.5px,#362e8f 187.5px,#363092 228.5px)"></i><i style="background:linear-gradient(90deg,#363297 0.5px,#363195 77.5px,#363194 157.5px,#363297 228.5px)"></i><i style="background:linear-gradient(90deg,#36349b 0.5px,#36349b 97.5px,#36349b 220.5px,#36349b 228.5px)"></i><i style="background:linear-gradient(90deg,#3637a0 0.5px,#3637a0 228.5px)"></i><i style="background:linear-gradient(90deg,#3639a5 0.5px,#3639a5 228.5px)"></i><i style="background:linear-gradient(90deg,#36369f 0.5px,#36369f 228.5px)"></i><i style="background:linear-gradient(90deg,#363399 0.5px,#363399 228.5px)"></i><i style="background:linear-gradient(90deg,#363093 0.5px,#363093 228.5px)"></i><i style="background:linear-gradient(90deg,#362d8d 0.5px,#362d8d 228.5px)"></i><i style="background:linear-gradient(90deg,#352b87 0.5px,#352b87 228.5px)"></i><i style="background:linear-gradient(90deg,#352d8c 0.5px,#352d8c 228.5px)"></i><i style="background:linear-gradient(90deg,#362f91 0.5px,#362f91 228.5px)"></i><i style="background:linear-gradient(90deg,#363296 0.5px,#363296 228.5px)"></i><i style="background:linear-gradient(90deg,#36349b 0.5px,#36349b 228.5px)"></i><i style="background:linear-gradient(90deg,#3637a0 0.5px,#3637a0 228.5px)"></i><i style="background:linear-gradient(90deg,#36359c 0.5px,#36359c 228.5px)"></i><i style="background:linear-gradient(90deg,#363297 0.5px,#363297 228.5px)"></i><i style="background:linear-gradient(90deg,#363092 0.5px,#363092 228.5px)"></i></div>
<div class="sp" style="left:313px;top:243px;width:229px;height:148px"><i style="background:linear-gradient(90deg,#06a3cb 0.5px,#118dd2 1.5px,#117ad9 2.5px,#066fdf 3.5px,#036ae1 4.5px,#0770df 9.5px,#066edf 107.5px,#036be1 109.5px,#046de0 110.5px,#0c75dd 111.5px,#1483d5 112.5px,#089ad0 113.5px,#08abc0 114.5px,#27b5a8 115.5px,#4ebc91 116.5px,#70bf81 117.5px,#85bf78 118.5px,#91bf73 119.5px,#98bf70 121.5px,#98bf70 222.5px,#95bf71 223.5px,#8fbf74 224.5px,#81bf79 225.5px,#68be84 226.5px,#44bb97 227.5px,#1eb3ae 228.5px)"></i><i style="background:linear-gradient(90deg,#06a4ca 0.5px,#108ed2 1.5px,#127bd9 2.5px,#0770df 3.5px,#036be1 4.5px,#0870df 10.5px,#066fdf 107.5px,#036be0 109.5px,#056de0 110.5px,#0d76dc 111.5px,#1484d4 112.5px,#079bd0 113.5px,#09acbe 114.5px,#2ab6a6 115.5px,#52bd8f 116.5px,#74bf7f 117.5px,#89bf76 118.5px,#95bf71 119.5px,#9dbf6e 121.5px,#9cbf6e 222.5px,#9abf6f 223.5px,#93bf72 224.5px,#85bf78 225.5px,#6dbf82 226.5px,#47bb95 227.5px,#20b4ad 228.5px)"></i><i style="background:linear-gradient(90deg,#06a5c9 0.5px,#0f90d2 1.5px,#127cd8 2.5px,#0871de 3.5px,#036be0 4.5px,#0871de 10.5px,#076fdf 107.5px,#046ce0 109.5px,#066edf 110.5px,#0e77db 111.5px,#1485d4 112.5px,#079ccf 113.5px,#0bacbd 114.5px,#2db7a5 115.5px,#55bd8d 116.5px,#78bf7d 117.5px,#8dbf74 118.5px,#99bf70 119.5px,#a1be6c 121.5px,#a1be6d 222.5px,#9ebe6e 223.5px,#97bf70 224.5px,#89bf76 225.5px,#71bf80 226.5px,#4bbc93 227.5px,#22b4ab 228.5px)"></i><i style="background:linear-gradient(90deg,#06a5c8 0.5px,#0e91d2 1.5px,#137ed7 2.5px,#0972de 3.5px,#046ce0 4.5px,#0971de 11.5px,#0770df 107.5px,#046de0 109.5px,#076fdf 110.5px,#0f78db 111.5px,#1487d3 112.5px,#079ecf 113.5px,#0cadbc 114.5px,#2fb7a3 115.5px,#59bd8b 116.5px,#7cbf7c 117.5px,#91bf73 118.5px,#9dbe6e 119.5px,#a6be6b 121.5px,#a5be6b 222.5px,#a2be6c 223.5px,#9bbf6f 224.5px,#8dbf74 225.5px,#74bf7f 226.5px,#4ebc91 227.5px,#25b5aa 228.5px)"></i><i style="background:linear-gradient(90deg,#06a6c6 0.5px,#0d93d2 1.5px,#137fd7 2.5px,#0a73de 3.5px,#046de0 4.5px,#0972de 11.5px,#0870df 107.5px,#056de0 109.5px,#0870df 110.5px,#1079da 111.5px,#1388d3 112.5px,#069fce 113.5px,#0eaeba 114.5px,#32b8a1 115.5px,#5dbe8a 116.5px,#80bf7a 117.5px,#95bf71 118.5px,#a1be6c 119.5px,#aabe69 121.5px,#aabe69 222.5px,#a7be6a 223.5px,#9fbe6d 224.5px,#91bf73 225.5px,#78bf7d 226.5px,#52bd8f 227.5px,#28b6a8 228.5px)"></i><i style="background:linear-gradient(90deg,#06a7c5 0.5px,#0c94d2 1.5px,#1480d6 2.5px,#0b74dd 3.5px,#056ee0 4.5px,#0a72de 11.5px,#0972de 106.5px,#056ee0 109.5px,#0871de 110.5px,#117ada 111.5px,#1389d3 112.5px,#06a0cd 113.5px,#0fafb9 114.5px,#35b89f 115.5px,#61be88 116.5px,#83bf78 117.5px,#99bf70 118.5px,#a5be6b 119.5px,#afbe67 121.5px,#aebe67 222.5px,#abbe69 223.5px,#a3be6c 224.5px,#95bf71 225.5px,#7cbf7b 226.5px,#56bd8d 227.5px,#2ab6a6 228.5px)"></i><i style="background:linear-gradient(90deg,#06a8c4 0.5px,#0a96d1 1.5px,#1481d6 2.5px,#0c75dc 3.5px,#066fdf 4.5px,#0b73dd 12.5px,#0a72de 106.5px,#066fdf 109.5px,#0a72de 110.5px,#117bd9 111.5px,#128bd2 112.5px,#06a1cc 113.5px,#12afb7 114.5px,#39b99d 115.5px,#65be86 116.5px,#87bf77 117.5px,#9dbf6e 118.5px,#a9be69 119.5px,#b3bd65 121.5px,#b2bd66 222.5px,#afbe67 223.5px,#a7be6a 224.5px,#99bf70 225.5px,#80bf7a 226.5px,#5abd8b 227.5px,#2db7a4 228.5px)"></i><i style="background:linear-gradient(90deg,#07a9c2 0.5px,#0998d1 1.5px,#1482d5 2.5px,#0d76dc 3.5px,#0770df 4.5px,#0b74dd 13.5px,#0b73dd 106.5px,#076fdf 109.5px,#0b73dd 110.5px,#127cd8 111.5px,#118dd2 112.5px,#06a2cb 113.5px,#14b0b5 114.5px,#3cba9b 115.5px,#69be84 116.5px,#8bbf75 117.5px,#a0be6d 118.5px,#adbe68 119.5px,#b7bd64 121.5px,#b8bd63 221.5px,#b3bd65 223.5px,#abbe68 224.5px,#9dbf6e 225.5px,#84bf78 226.5px,#5ebe89 227.5px,#30b7a2 228.5px)"></i><i style="background:linear-gradient(90deg,#07aac1 0.5px,#0899d1 1.5px,#1484d4 2.5px,#0e77db 3.5px,#0870df 4.5px,#0c74dd 14.5px,#0b73dd 106.5px,#0870df 109.5px,#0c74dd 110.5px,#137dd8 111.5px,#108ed2 112.5px,#06a3ca 113.5px,#16b1b4 114.5px,#3fba99 115.5px,#6dbf82 116.5px,#8fbf74 117.5px,#a4be6b 118.5px,#b1bd66 119.5px,#bcbd62 121.5px,#bdbd61 221.5px,#b7bd64 223.5px,#afbe67 224.5px,#a0be6d 225.5px,#88bf77 226.5px,#62be87 227.5px,#33b8a0 228.5px)"></i><i style="background:linear-gradient(90deg,#08abc0 0.5px,#089bd0 1.5px,#1485d4 2.5px,#0f78db 3.5px,#0971de 4.5px,#0d75dc 15.5px,#0c74dd 106.5px,#0871de 109.5px,#0d75dc 110.5px,#137ed7 111.5px,#0f90d2 112.5px,#06a4c9 113.5px,#18b1b2 114.5px,#43bb97 115.5px,#71bf80 116.5px,#93bf72 117.5px,#a8be6a 118.5px,#b5bd64 119.5px,#c0bc60 121.5px,#c1bc60 221.5px,#bbbd62 223.5px,#b3bd65 224.5px,#a4be6b 225.5px,#8cbf75 226.5px,#66be85 227.5px,#37b99e 228.5px)"></i><i style="background:linear-gradient(90deg,#09acbe 0.5px,#079cd0 1.5px,#1487d3 2.5px,#1079da 3.5px,#0a72de 4.5px,#0d76dc 17.5px,#0c75dd 106.5px,#0972de 109.5px,#0e76dc 110.5px,#1480d6 111.5px,#0d92d2 112.5px,#06a5c8 113.5px,#1bb2b0 114.5px,#47bb95 115.5px,#75bf7e 116.5px,#96bf71 117.5px,#acbe68 118.5px,#b9bd63 119.5px,#c4bc5e 121.5px,#c6bc5d 146.5px,#c5bc5e 221.5px,#bfbc60 223.5px,#b7bd64 224.5px,#a8be6a 225.5px,#8fbf73 226.5px,#6abe83 227.5px,#3ab99c 228.5px)"></i><i style="background:linear-gradient(90deg,#0badbc 0.5px,#079ecf 1.5px,#1388d3 2.5px,#117ad9 3.5px,#0b73dd 4.5px,#0e76dc 22.5px,#0d75dc 106.5px,#0a73de 109.5px,#0f77db 110.5px,#1481d6 111.5px,#0c94d2 112.5px,#06a7c6 113.5px,#1db3af 114.5px,#4abc93 115.5px,#79bf7d 116.5px,#9abf6f 117.5px,#afbe67 118.5px,#bdbd61 119.5px,#c8bc5d 121.5px,#cbbb5c 134.5px,#cabb5c 221.5px,#c3bc5f 223.5px,#babd62 224.5px,#abbe68 225.5px,#93bf72 226.5px,#6ebf82 227.5px,#3eba9a 228.5px)"></i><i style="background:linear-gradient(90deg,#0dadbb 0.5px,#069fce 1.5px,#138ad3 2.5px,#127cd9 3.5px,#0c74dd 4.5px,#0e77db 31.5px,#0d76dc 106.5px,#0b74dd 109.5px,#1078da 110.5px,#1483d5 111.5px,#0b96d1 112.5px,#06a8c5 113.5px,#20b4ad 114.5px,#4ebc91 115.5px,#7dbf7b 116.5px,#9ebe6e 117.5px,#b3bd65 118.5px,#c0bc60 119.5px,#cdbb5b 121.5px,#d0bb5a 130.5px,#cebb5a 221.5px,#c7bc5d 223.5px,#bebc61 224.5px,#afbe67 225.5px,#97bf70 226.5px,#72bf80 227.5px,#41ba98 228.5px)"></i><i style="background:linear-gradient(90deg,#0faeb9 0.5px,#06a0cd 1.5px,#128cd2 2.5px,#137dd8 3.5px,#0d75dc 4.5px,#0d76dc 7.5px,#0e76dc 106.5px,#0c74dd 109.5px,#1079da 110.5px,#1484d4 111.5px,#0997d1 112.5px,#07a9c3 113.5px,#23b5ab 114.5px,#52bd8f 115.5px,#81bf79 116.5px,#a1be6c 117.5px,#b7bd64 118.5px,#c4bc5e 119.5px,#d1bb59 121.5px,#d4bb58 128.5px,#d2bb58 221.5px,#cbbb5c 223.5px,#c2bc5f 224.5px,#b2bd65 225.5px,#9bbf6f 226.5px,#76bf7e 227.5px,#45bb96 228.5px)"></i><i style="background:linear-gradient(90deg,#11afb7 0.5px,#06a2cc 1.5px,#118dd2 2.5px,#137ed7 3.5px,#0e76dc 4.5px,#0e76dc 7.5px,#0f78db 105.5px,#0d75dc 109.5px,#117ad9 110.5px,#1485d4 111.5px,#0899d1 112.5px,#07aac2 113.5px,#26b5a9 114.5px,#57bd8d 115.5px,#85bf78 116.5px,#a5be6b 117.5px,#babd62 118.5px,#c8bc5d 119.5px,#d5ba57 121.5px,#d9ba56 127.5px,#d7ba57 221.5px,#cfbb5a 223.5px,#c6bc5e 224.5px,#b6bd64 225.5px,#9ebe6e 226.5px,#7abf7c 227.5px,#49bc94 228.5px)"></i><i style="background:linear-gradient(90deg,#14b0b5 0.5px,#06a3cb 1.5px,#0f8fd2 2.5px,#137fd6 3.5px,#0f77db 4.5px,#0e77db 7.5px,#1079da 101.5px,#0e76dc 109.5px,#127cd8 110.5px,#1487d3 111.5px,#089bd0 112.5px,#08abc0 113.5px,#2ab6a7 114.5px,#5bbd8b 115.5px,#89bf76 116.5px,#a8be69 117.5px,#bebc61 118.5px,#ccbb5b 119.5px,#d9ba56 121.5px,#ddba54 126.5px,#dcba54 220.5px,#d8ba56 222.5px,#d3bb58 223.5px,#c9bb5c 224.5px,#babd63 225.5px,#a2be6c 226.5px,#7fbf7a 227.5px,#4dbc92 228.5px)"></i><i style="background:linear-gradient(90deg,#16b1b3 0.5px,#06a4c9 1.5px,#0e91d2 2.5px,#1481d6 3.5px,#1078da 4.5px,#0e76dc 6.5px,#117ada 18.5px,#0f78db 106.5px,#0f77db 109.5px,#137dd8 110.5px,#1389d3 111.5px,#079dcf 112.5px,#09acbe 113.5px,#2db7a4 114.5px,#5fbe88 115.5px,#8dbf75 116.5px,#acbe68 117.5px,#c1bc60 118.5px,#cfbb5a 119.5px,#ddba54 121.5px,#e2b952 126.5px,#e1ba52 220.5px,#dcba54 222.5px,#d7ba57 223.5px,#cdbb5b 224.5px,#bdbd61 225.5px,#a5be6b 226.5px,#83bf79 227.5px,#52bd8f 228.5px)"></i><i style="background:linear-gradient(90deg,#19b2b1 0.5px,#06a5c8 1.5px,#0c93d2 2.5px,#1482d5 3.5px,#117ada 4.5px,#0f77db 6.5px,#117ad9 18.5px,#1079da 106.5px,#1078da 109.5px,#137ed7 110.5px,#128bd3 111.5px,#069ece 112.5px,#0badbc 113.5px,#31b8a2 114.5px,#64be86 115.5px,#91bf73 116.5px,#b0bd67 117.5px,#c5bc5e 118.5px,#d3bb58 119.5px,#e1b952 121.5px,#e6b950 126.5px,#e5b950 220.5px,#e0ba52 222.5px,#dbba55 223.5px,#d1bb59 224.5px,#c1bc60 225.5px,#a9be69 226.5px,#87bf77 227.5px,#56bd8d 228.5px)"></i><i style="background:linear-gradient(90deg,#1cb3af 0.5px,#06a7c6 1.5px,#0b95d1 2.5px,#1484d4 3.5px,#117bd9 4.5px,#0f78db 6.5px,#127bd9 18.5px,#1079da 106.5px,#1079da 109.5px,#1480d6 110.5px,#118dd2 111.5px,#06a0cd 112.5px,#0daebb 113.5px,#34b8a0 114.5px,#68be84 115.5px,#95bf71 116.5px,#b3bd65 117.5px,#c8bc5d 118.5px,#d7ba57 119.5px,#e5b950 121.5px,#eab94d 125.5px,#e9b94e 220.5px,#e4b950 222.5px,#deba53 223.5px,#d4bb58 224.5px,#c4bc5e 225.5px,#adbe68 226.5px,#8bbf75 227.5px,#5bbd8b 228.5px)"></i><i style="background:linear-gradient(90deg,#1fb4ad 0.5px,#06a8c5 1.5px,#0997d1 2.5px,#1485d4 3.5px,#127cd8 4.5px,#1079da 6.5px,#127cd8 18.5px,#117ad9 106.5px,#117ad9 109.5px,#1481d6 110.5px,#108fd2 111.5px,#06a1cc 112.5px,#0faeb9 113.5px,#38b99e 114.5px,#6dbf82 115.5px,#98bf70 116.5px,#b7bd64 117.5px,#ccbb5b 118.5px,#daba55 119.5px,#e9b94e 121.5px,#efb94b 125.5px,#eeb94c 220.5px,#e8b94f 222.5px,#e2b951 223.5px,#d8ba56 224.5px,#c8bc5d 225.5px,#b0bd66 226.5px,#8fbf74 227.5px,#5fbe89 228.5px)"></i><i style="background:linear-gradient(90deg,#23b4ab 0.5px,#07a9c3 1.5px,#0899d1 2.5px,#1487d3 3.5px,#137dd8 4.5px,#1079da 6.5px,#127dd8 19.5px,#117bd9 106.5px,#1079da 108.5px,#127cd8 109.5px,#1483d5 110.5px,#0e91d2 111.5px,#06a2cb 112.5px,#12afb7 113.5px,#3cba9b 114.5px,#71bf80 115.5px,#9cbf6e 116.5px,#babd62 117.5px,#cfbb5a 118.5px,#deba53 119.5px,#edb94c 121.5px,#f3ba48 125.5px,#f2b949 220.5px,#ecb94c 222.5px,#e6b950 223.5px,#dbba55 224.5px,#cbbb5c 225.5px,#b4bd65 226.5px,#93bf72 227.5px,#64be86 228.5px)"></i><i style="background:linear-gradient(90deg,#26b5a9 0.5px,#08aac1 1.5px,#079bd0 2.5px,#1389d3 3.5px,#137fd7 4.5px,#117ad9 6.5px,#137ed7 19.5px,#127cd9 106.5px,#117ad9 108.5px,#137dd8 109.5px,#1484d4 110.5px,#0d93d2 111.5px,#06a4c9 112.5px,#15b0b5 113.5px,#40ba99 114.5px,#76bf7e 115.5px,#a0be6d 116.5px,#bebc61 117.5px,#d3bb58 118.5px,#e2b952 119.5px,#f1b949 121.5px,#f7ba45 125.5px,#f6ba46 220.5px,#f0b94a 222.5px,#eab94e 223.5px,#dfba53 224.5px,#cebb5a 225.5px,#b7bd64 226.5px,#97bf71 227.5px,#69be84 228.5px)"></i><i style="background:linear-gradient(90deg,#2ab6a6 0.5px,#09abbf 1.5px,#079dcf 2.5px,#128bd2 3.5px,#1480d6 4.5px,#127bd9 6.5px,#137ed7 20.5px,#127cd8 106.5px,#127bd9 108.5px,#137ed7 109.5px,#1486d4 110.5px,#0b95d2 111.5px,#06a5c8 112.5px,#18b1b2 113.5px,#45bb96 114.5px,#7bbf7c 115.5px,#a4be6b 116.5px,#c1bc60 117.5px,#d6ba57 118.5px,#e5b950 119.5px,#efb94b 120.5px,#f8ba44 122.5px,#fbbc41 134.5px,#f9bb43 220.5px,#f4ba48 222.5px,#edb94c 223.5px,#e2b951 224.5px,#d2bb59 225.5px,#bbbd62 226.5px,#9abf6f 227.5px,#6dbf82 228.5px)"></i><i style="background:linear-gradient(90deg,#2eb7a4 0.5px,#0aacbd 1.5px,#069fce 2.5px,#118dd2 3.5px,#1482d5 4.5px,#127cd8 6.5px,#137fd7 21.5px,#137ed7 105.5px,#127cd8 108.5px,#137fd6 109.5px,#1388d3 110.5px,#0997d1 111.5px,#06a7c6 112.5px,#1bb2b0 113.5px,#4abc94 114.5px,#7fbf7a 115.5px,#a7be6a 116.5px,#c4bc5e 117.5px,#daba55 118.5px,#e9b94e 119.5px,#f3b948 120.5px,#fbbc41 122.5px,#fdbe3d 132.5px,#fcbd3f 220.5px,#f7ba45 222.5px,#f1b94a 223.5px,#e6b950 224.5px,#d5ba57 225.5px,#bebc61 226.5px,#9ebe6e 227.5px,#72bf80 228.5px)"></i><i style="background:linear-gradient(90deg,#32b8a1 0.5px,#0dadbb 1.5px,#06a0cd 2.5px,#0f8fd2 3.5px,#1483d5 4.5px,#137dd8 6.5px,#1480d6 22.5px,#137fd7 105.5px,#137dd8 108.5px,#1481d6 109.5px,#1389d3 110.5px,#0899d1 111.5px,#06a8c4 112.5px,#1fb3ae 113.5px,#4ebc91 114.5px,#83bf78 115.5px,#abbe68 116.5px,#c8bc5d 117.5px,#ddba54 118.5px,#ecb94c 119.5px,#f6ba46 120.5px,#fdbe3d 122.5px,#fec13a 132.5px,#febf3c 220.5px,#fabc42 222.5px,#f4ba47 223.5px,#e9b94e 224.5px,#d9ba56 225.5px,#c1bc5f 226.5px,#a2be6c 227.5px,#77bf7e 228.5px)"></i><i style="background:linear-gradient(90deg,#36b99f 0.5px,#0faeb9 1.5px,#06a2cb 2.5px,#0e92d2 3.5px,#1485d4 4.5px,#137ed7 6.5px,#1481d6 24.5px,#1480d6 105.5px,#137fd7 108.5px,#1482d5 109.5px,#128cd2 110.5px,#079bd0 111.5px,#07a9c2 112.5px,#22b4ab 113.5px,#53bd8e 114.5px,#88bf77 115.5px,#afbe67 116.5px,#cbbb5c 117.5px,#e0ba52 118.5px,#f0b94a 119.5px,#f9bb43 120.5px,#fec13a 122.5px,#ffc437 131.5px,#fec239 220.5px,#fdbd3e 222.5px,#f8ba44 223.5px,#edb94c 224.5px,#dcba54 225.5px,#c5bc5e 226.5px,#a6be6a 227.5px,#7cbf7c 228.5px)"></i><i style="background:linear-gradient(90deg,#3bb99c 0.5px,#12b0b6 1.5px,#06a4ca 2.5px,#0c94d2 3.5px,#1487d3 4.5px,#137fd7 6.5px,#1482d5 28.5px,#1481d6 105.5px,#1480d6 108.5px,#1484d4 109.5px,#108ed2 110.5px,#079dcf 111.5px,#08aac0 112.5px,#26b5a9 113.5px,#59bd8c 114.5px,#8cbf75 115.5px,#b2bd66 116.5px,#cfbb5a 117.5px,#e4b951 118.5px,#f3b948 119.5px,#fbbd40 120.5px,#ffc337 122.5px,#fec734 132.5px,#ffc536 220.5px,#fec03b 222.5px,#fabc42 223.5px,#f0b94a 224.5px,#dfba53 225.5px,#c8bc5d 226.5px,#aabe69 227.5px,#80bf7a 228.5px)"></i><i style="background:linear-gradient(90deg,#40ba99 0.5px,#16b1b4 1.5px,#06a5c8 2.5px,#0a97d1 3.5px,#1388d3 4.5px,#1482d5 5.5px,#1482d5 9.5px,#1482d5 105.5px,#1481d6 108.5px,#1486d4 109.5px,#0f90d2 110.5px,#069fce 111.5px,#09acbe 112.5px,#2ab6a6 113.5px,#5ebe89 114.5px,#91bf73 115.5px,#b6bd64 116.5px,#d2bb59 117.5px,#e7b94f 118.5px,#f6ba46 119.5px,#fdbe3d 120.5px,#fec635 122.5px,#fdca31 131.5px,#fec832 219.5px,#fec239 222.5px,#fcbd3f 223.5px,#f3ba48 224.5px,#e2b951 225.5px,#ccbb5b 226.5px,#adbe67 227.5px,#85bf78 228.5px)"></i><i style="background:linear-gradient(90deg,#45bb96 0.5px,#19b2b2 1.5px,#06a7c6 2.5px,#0899d1 3.5px,#128bd3 4.5px,#1484d4 5.5px,#1482d5 8.5px,#1484d4 102.5px,#1482d5 108.5px,#1487d3 109.5px,#0d92d2 110.5px,#06a1cc 111.5px,#0cadbc 112.5px,#2fb7a3 113.5px,#63be86 114.5px,#95bf71 115.5px,#b9bd63 116.5px,#d5ba57 117.5px,#eab94d 118.5px,#f9bb43 119.5px,#fec13a 120.5px,#fec932 122.5px,#fccc2f 130.5px,#fdcb30 219.5px,#ffc436 222.5px,#febf3c 223.5px,#f6ba45 224.5px,#e6b950 225.5px,#cfbb5a 226.5px,#b1bd66 227.5px,#8abf76 228.5px)"></i><i style="background:linear-gradient(90deg,#4abc94 0.5px,#1db3af 1.5px,#06a8c4 2.5px,#089bd0 3.5px,#118dd2 4.5px,#1485d4 5.5px,#1483d5 8.5px,#1485d4 74.5px,#1483d4 105.5px,#1484d4 108.5px,#1389d3 109.5px,#0b95d2 110.5px,#06a3cb 111.5px,#0eaeba 112.5px,#33b8a1 113.5px,#69be84 114.5px,#99bf70 115.5px,#bdbd61 116.5px,#d8ba56 117.5px,#edb94c 118.5px,#fbbc40 119.5px,#ffc337 120.5px,#fccd2e 123.5px,#fbcf2d 193.5px,#fcce2e 219.5px,#fec734 222.5px,#fec239 223.5px,#f9bb43 224.5px,#e9b94e 225.5px,#d2bb59 226.5px,#b5bd65 227.5px,#8ebf74 228.5px)"></i><i style="background:linear-gradient(90deg,#4fbc91 0.5px,#21b4ac 1.5px,#07a9c2 2.5px,#079dcf 3.5px,#108fd2 4.5px,#1487d3 5.5px,#1484d4 7.5px,#1487d3 28.5px,#1484d4 105.5px,#1485d4 108.5px,#128bd2 109.5px,#0997d1 110.5px,#06a4c9 111.5px,#12afb7 112.5px,#38b99e 113.5px,#6ebf81 114.5px,#9dbe6e 115.5px,#c1bc60 116.5px,#dcba54 117.5px,#f1b94a 118.5px,#fdbe3e 119.5px,#fdca31 121.5px,#fad12b 125.5px,#fbd02c 219.5px,#fec932 222.5px,#ffc437 223.5px,#fbbd40 224.5px,#ecb94c 225.5px,#d6ba57 226.5px,#b8bd63 227.5px,#93bf72 228.5px)"></i><i style="background:linear-gradient(90deg,#55bd8e 0.5px,#25b5a9 1.5px,#08abc0 2.5px,#069fce 3.5px,#0e92d2 4.5px,#1389d3 5.5px,#1485d4 7.5px,#1388d3 29.5px,#1486d4 105.5px,#1487d3 108.5px,#118ed2 109.5px,#089ad1 110.5px,#06a6c7 111.5px,#15b0b4 112.5px,#3dba9a 113.5px,#74bf7f 114.5px,#a2be6c 115.5px,#c4bc5e 116.5px,#dfba53 117.5px,#f4ba48 118.5px,#fec03b 119.5px,#fccd2f 121.5px,#f9d429 125.5px,#fad32a 219.5px,#fdcb30 222.5px,#fec635 223.5px,#fdbe3e 224.5px,#efb94b 225.5px,#d9ba56 226.5px,#bcbd62 227.5px,#97bf70 228.5px)"></i><i style="background:linear-gradient(90deg,#5bbd8b 0.5px,#2ab6a6 1.5px,#0aacbd 2.5px,#06a1cc 3.5px,#0c94d2 4.5px,#128bd2 5.5px,#1486d4 7.5px,#1389d3 31.5px,#1487d3 105.5px,#1389d3 108.5px,#0f90d2 109.5px,#079cd0 110.5px,#06a7c5 111.5px,#19b2b2 112.5px,#43bb97 113.5px,#79bf7d 114.5px,#a6be6b 115.5px,#c8bc5d 116.5px,#e2b951 117.5px,#f7ba45 118.5px,#fec239 119.5px,#fbcf2d 121.5px,#f8d627 125.5px,#f9d528 219.5px,#fcce2e 222.5px,#fec03b 224.5px,#f2b949 225.5px,#dcba54 226.5px,#c0bc60 227.5px,#9bbf6f 228.5px)"></i><i style="background:linear-gradient(90deg,#61be88 0.5px,#2eb7a3 1.5px,#0dadbb 2.5px,#06a3cb 3.5px,#0a97d1 4.5px,#118dd2 5.5px,#1388d3 7.5px,#128ad3 31.5px,#1389d3 104.5px,#1388d3 107.5px,#128bd2 108.5px,#079ecf 110.5px,#07a9c3 111.5px,#1db3af 112.5px,#48bb94 113.5px,#7ebf7a 114.5px,#aabe69 115.5px,#cbbb5c 116.5px,#e5b950 117.5px,#f9bb43 118.5px,#ffc436 119.5px,#fad12b 121.5px,#f7d925 125.5px,#f7d826 219.5px,#fbd02c 222.5px,#fec239 224.5px,#f5ba46 225.5px,#dfba53 226.5px,#c3bc5f 227.5px,#a0be6d 228.5px)"></i><i style="background:linear-gradient(90deg,#67be85 0.5px,#33b8a0 1.5px,#10afb8 2.5px,#06a4c9 3.5px,#0899d1 4.5px,#0f8fd2 5.5px,#1389d3 7.5px,#128cd2 30.5px,#128ad3 104.5px,#1389d3 107.5px,#118dd2 108.5px,#06a0cd 110.5px,#08aac0 111.5px,#21b4ac 112.5px,#4ebc91 113.5px,#84bf78 114.5px,#aebe67 115.5px,#cfbb5a 116.5px,#e9b94e 117.5px,#fbbc40 118.5px,#fec634 119.5px,#f9d329 121.5px,#f6dc23 125.5px,#f6dc23 218.5px,#fad22a 222.5px,#ffc436 224.5px,#f8ba44 225.5px,#e3b951 226.5px,#c7bc5d 227.5px,#a4be6b 228.5px)"></i><i style="background:linear-gradient(90deg,#6dbf82 0.5px,#39b99d 1.5px,#14b0b5 2.5px,#06a6c7 3.5px,#079bd0 4.5px,#0d92d2 5.5px,#128bd2 7.5px,#118dd2 40.5px,#128cd2 104.5px,#128bd2 107.5px,#0f8fd2 108.5px,#0997d1 109.5px,#06a2cc 110.5px,#0aacbe 111.5px,#26b5a9 112.5px,#54bd8e 113.5px,#89bf76 114.5px,#b2bd66 115.5px,#d2bb59 116.5px,#ecb94d 117.5px,#fdbe3e 118.5px,#fec833 119.5px,#f8d528 121.5px,#f5de21 125.5px,#f5de21 218.5px,#f7d826 221.5px,#fcce2d 223.5px,#fec635 224.5px,#fabc42 225.5px,#e6b950 226.5px,#cabb5c 227.5px,#a8be6a 228.5px)"></i><i style="background:linear-gradient(90deg,#73bf7f 0.5px,#3fba9a 1.5px,#18b1b2 2.5px,#06a8c4 3.5px,#079ecf 4.5px,#108fd2 6.5px,#118ed2 10.5px,#118dd2 104.5px,#118dd2 107.5px,#089ad0 109.5px,#06a4ca 110.5px,#0dadbb 111.5px,#2bb6a6 112.5px,#5bbd8b 113.5px,#8ebf74 114.5px,#b6bd64 115.5px,#d5ba57 116.5px,#efb94b 117.5px,#fec03c 118.5px,#fdca31 119.5px,#f6db23 122.5px,#f5e21f 127.5px,#f5e11f 218.5px,#f8d627 222.5px,#fec833 224.5px,#fcbd3f 225.5px,#e9b94e 226.5px,#cebb5a 227.5px,#adbe68 228.5px)"></i><i style="background:linear-gradient(90deg,#79bf7d 0.5px,#45bb96 1.5px,#1cb3af 2.5px,#07aac2 3.5px,#06a0cd 4.5px,#0e91d2 6.5px,#108fd2 9.5px,#0e91d2 80.5px,#108ed2 105.5px,#0f8fd2 107.5px,#079cd0 109.5px,#06a6c7 110.5px,#10afb8 111.5px,#30b7a2 112.5px,#61be87 113.5px,#93bf72 114.5px,#babd63 115.5px,#d9ba56 116.5px,#f2b949 117.5px,#fec139 118.5px,#f9d429 120.5px,#f5e020 123.5px,#f5e51c 131.5px,#f5e31e 218.5px,#f6dd22 221.5px,#fad22a 223.5px,#fdca31 224.5px,#febf3d 225.5px,#ecb94c 226.5px,#d1bb59 227.5px,#b1bd66 228.5px)"></i><i style="background:linear-gradient(90deg,#7fbf7a 0.5px,#4bbc93 1.5px,#21b4ac 2.5px,#09abbf 3.5px,#06a2cc 4.5px,#0c94d2 6.5px,#0f90d2 9.5px,#0d92d2 75.5px,#0e92d2 107.5px,#069ece 109.5px,#06a7c5 110.5px,#14b0b5 111.5px,#36b99f 112.5px,#68be84 113.5px,#98bf70 114.5px,#bebc61 115.5px,#dcba54 116.5px,#f4ba47 117.5px,#ffc337 118.5px,#f8d628 120.5px,#f5e31e 123.5px,#f5e81a 130.5px,#f5e61c 218.5px,#f5df21 221.5px,#f9d429 223.5px,#fdcc30 224.5px,#fec03a 225.5px,#efb94b 226.5px,#d5ba57 227.5px,#b5bd65 228.5px)"></i><i style="background:linear-gradient(90deg,#84bf78 0.5px,#52bd8f 1.5px,#26b5a9 2.5px,#0badbd 3.5px,#06a4ca 4.5px,#079cd0 5.5px,#0d93d2 7.5px,#0d92d2 104.5px,#0c94d2 107.5px,#06a0cd 109.5px,#07a9c3 110.5px,#18b1b2 111.5px,#3cba9b 112.5px,#6ebf81 113.5px,#9dbe6e 114.5px,#c2bc5f 115.5px,#dfba53 116.5px,#f7ba45 117.5px,#fec535 118.5px,#f8d826 120.5px,#f5e51c 123.5px,#f5eb18 129.5px,#f5e91a 218.5px,#f5e11f 221.5px,#fccd2e 224.5px,#ffc238 225.5px,#f2b949 226.5px,#d8ba56 227.5px,#b9bd63 228.5px)"></i><i style="background:linear-gradient(90deg,#8abf76 0.5px,#59bd8c 1.5px,#2cb7a5 2.5px,#0faeb9 3.5px,#06a6c7 4.5px,#069ece 5.5px,#0b95d2 7.5px,#0c94d2 104.5px,#0a96d1 107.5px,#06a2cb 109.5px,#08aac0 110.5px,#1db3af 111.5px,#42bb98 112.5px,#75bf7f 113.5px,#a2be6c 114.5px,#c5bc5e 115.5px,#e3b951 116.5px,#f9bb43 117.5px,#fec734 118.5px,#f7d925 120.5px,#f5e71b 123.5px,#f5ed17 129.5px,#f5ec18 217.5px,#f5e31e 221.5px,#fbcf2d 224.5px,#ffc436 225.5px,#f5ba47 226.5px,#dcba54 227.5px,#bdbd61 228.5px)"></i><i style="background:linear-gradient(90deg,#90bf73 0.5px,#60be88 1.5px,#32b8a1 2.5px,#13b0b6 3.5px,#06a7c5 4.5px,#06a0cd 5.5px,#0997d1 7.5px,#0a96d1 104.5px,#0999d1 107.5px,#06a4c9 109.5px,#0aacbd 110.5px,#22b4ac 111.5px,#49bc94 112.5px,#7bbf7c 113.5px,#a7be6a 114.5px,#c9bc5c 115.5px,#e6b950 116.5px,#fbbd40 117.5px,#fec832 118.5px,#f5e11f 121.5px,#f5ec18 124.5px,#f6ef15 134.5px,#f5ee16 217.5px,#f5e51d 221.5px,#fbd12b 224.5px,#fec635 225.5px,#f7ba45 226.5px,#dfba53 227.5px,#c1bc60 228.5px)"></i><i style="background:linear-gradient(90deg,#95bf71 0.5px,#67be85 1.5px,#38b99e 2.5px,#17b1b3 3.5px,#07a9c2 4.5px,#06a2cb 5.5px,#0899d1 7.5px,#0998d1 106.5px,#06a0cd 108.5px,#06a6c6 109.5px,#0eaeba 110.5px,#27b6a8 111.5px,#50bc90 112.5px,#82bf79 113.5px,#abbe68 114.5px,#cdbb5b 115.5px,#e9b94e 116.5px,#fdbe3e 117.5px,#fdca31 118.5px,#f5e31e 121.5px,#f5ee16 124.5px,#f6f114 133.5px,#f6f015 217.5px,#f5e71b 221.5px,#fad22a 224.5px,#fec733 225.5px,#f9bb42 226.5px,#e2b951 227.5px,#c5bc5e 228.5px)"></i><i style="background:linear-gradient(90deg,#9bbf6f 0.5px,#6ebf82 1.5px,#3fba9a 2.5px,#1cb3b0 3.5px,#09abbf 4.5px,#06a4c9 5.5px,#079bd0 7.5px,#079bd0 35.5px,#089ad0 106.5px,#06a2cc 108.5px,#06a8c4 109.5px,#12afb7 110.5px,#2db7a4 111.5px,#58bd8c 112.5px,#88bf77 113.5px,#b0bd66 114.5px,#d1bb59 115.5px,#ecb94c 116.5px,#febf3c 117.5px,#fdcc2f 118.5px,#f5e51d 121.5px,#f6f015 124.5px,#f7f412 133.5px,#f6f213 217.5px,#f5e81a 221.5px,#f9d429 224.5px,#fec932 225.5px,#fbbd40 226.5px,#e5b950 227.5px,#c9bc5c 228.5px)"></i><i style="background:linear-gradient(90deg,#a0be6d 0.5px,#75bf7f 1.5px,#45bb96 2.5px,#21b4ac 3.5px,#0badbc 4.5px,#06a6c7 5.5px,#079dcf 7.5px,#079ccf 13.5px,#079cd0 106.5px,#06a4ca 108.5px,#07aac1 109.5px,#16b1b4 110.5px,#33b8a0 111.5px,#5fbe89 112.5px,#8ebf74 113.5px,#b5bd65 114.5px,#d4bb58 115.5px,#efb94b 116.5px,#fec13a 117.5px,#f8d726 119.5px,#f5ec18 122.5px,#f7f512 126.5px,#f7f412 217.5px,#f5ea19 221.5px,#f9d528 224.5px,#fdcb30 225.5px,#fdbe3e 226.5px,#e9b94e 227.5px,#cdbb5b 228.5px)"></i><i style="background:linear-gradient(90deg,#a5be6b 0.5px,#7cbf7b 1.5px,#4dbc92 2.5px,#27b5a8 3.5px,#0faeb9 4.5px,#06a8c4 5.5px,#06a0cd 7.5px,#069ece 13.5px,#069ece 106.5px,#06a6c7 108.5px,#09acbe 109.5px,#1bb2b0 110.5px,#3ab99c 111.5px,#67be85 112.5px,#94bf72 113.5px,#b9bd63 114.5px,#d8ba56 115.5px,#f2b949 116.5px,#ffc338 117.5px,#f7d826 119.5px,#f5ec17 122.5px,#f7f611 126.5px,#f7f511 217.5px,#f5eb18 221.5px,#f8d627 224.5px,#fdcc2f 225.5px,#febf3c 226.5px,#ecb94d 227.5px,#d0bb59 228.5px)"></i><i style="background:linear-gradient(90deg,#aabe69 0.5px,#83bf79 1.5px,#55bd8e 2.5px,#2eb7a4 3.5px,#14b0b6 4.5px,#07aac1 5.5px,#06a2cc 7.5px,#06a0cd 12.5px,#06a0cd 106.5px,#06a8c5 108.5px,#0dadbb 109.5px,#21b4ac 110.5px,#42bb98 111.5px,#6ebf81 112.5px,#9abf6f 113.5px,#bdbc61 114.5px,#dbba55 115.5px,#f4ba47 116.5px,#ffc436 117.5px,#f7d925 119.5px,#f5ed17 122.5px,#f8f611 126.5px,#f8f611 217.5px,#f5ec18 221.5px,#f8d726 224.5px,#fccd2e 225.5px,#fec13a 226.5px,#efb94b 227.5px,#d4bb58 228.5px)"></i><i style="background:linear-gradient(90deg,#afbe67 0.5px,#8abf76 1.5px,#5dbe8a 2.5px,#34b8a0 3.5px,#19b2b2 4.5px,#09acbe 5.5px,#06a4ca 7.5px,#06a1cc 12.5px,#06a2cb 106.5px,#07a9c2 108.5px,#11afb8 109.5px,#27b5a8 110.5px,#49bc94 111.5px,#76bf7e 112.5px,#9fbe6d 113.5px,#c2bc5f 114.5px,#dfba53 115.5px,#f7ba45 116.5px,#fec635 117.5px,#f7db24 119.5px,#f5ee16 122.5px,#f8f710 126.5px,#f8f710 217.5px,#f5ed17 221.5px,#f7d925 224.5px,#ffc238 226.5px,#f2b949 227.5px,#d8ba56 228.5px)"></i><i style="background:linear-gradient(90deg,#b4bd65 0.5px,#90bf73 1.5px,#65be86 2.5px,#3cba9c 3.5px,#1eb3ae 4.5px,#0dadbb 5.5px,#07a9c3 6.5px,#06a3ca 8.5px,#06a4c9 106.5px,#09abbf 108.5px,#15b1b4 109.5px,#2db7a4 110.5px,#51bd8f 111.5px,#7dbf7b 112.5px,#a5be6b 113.5px,#c6bc5e 114.5px,#e2b951 115.5px,#f9bb43 116.5px,#fec733 117.5px,#f5e41d 120.5px,#f6f313 123.5px,#f9f90f 128.5px,#f8f80f 217.5px,#f5ee16 221.5px,#f7da25 224.5px,#ffc436 226.5px,#f4ba47 227.5px,#dbba55 228.5px)"></i><i style="background:linear-gradient(90deg,#b9bd63 0.5px,#96bf71 1.5px,#6dbf82 2.5px,#43bb97 3.5px,#24b5aa 4.5px,#11afb8 5.5px,#08aac0 6.5px,#06a5c8 8.5px,#06a4c9 105.5px,#07a9c3 107.5px,#0cadbc 108.5px,#1bb2b0 109.5px,#34b8a0 110.5px,#59bd8b 111.5px,#85bf78 112.5px,#aabe69 113.5px,#cabb5c 114.5px,#e6b950 115.5px,#fbbc40 116.5px,#fec932 117.5px,#f5e51d 120.5px,#f7f413 123.5px,#f9fa0e 128.5px,#f8f90f 217.5px,#f6ef16 221.5px,#f6db24 224.5px,#fec635 226.5px,#f7ba45 227.5px,#dfba53 228.5px)"></i><i style="background:linear-gradient(90deg,#bebc61 0.5px,#9dbf6e 1.5px,#75bf7e 2.5px,#4cbc92 3.5px,#2bb6a6 4.5px,#16b1b4 5.5px,#0bacbd 6.5px,#06a7c6 8.5px,#06a6c7 105.5px,#08abc0 107.5px,#10afb8 108.5px,#21b4ac 109.5px,#3cba9b 110.5px,#8cbf75 112.5px,#b0be67 113.5px,#cebb5a 114.5px,#e9b94e 115.5px,#fdbd3e 116.5px,#fdca31 117.5px,#f5e51d 120.5px,#f6f313 123.5px,#f8f90f 129.5px,#f8f810 217.5px,#f5ee16 221.5px,#f6db23 224.5px,#fec734 226.5px,#f9bb43 227.5px,#e2b951 228.5px)"></i><i style="background:linear-gradient(90deg,#c2bc5f 0.5px,#a3be6c 1.5px,#7ebf7b 2.5px,#54bd8e 3.5px,#32b8a1 4.5px,#1cb3b0 5.5px,#0eaeba 6.5px,#08abc0 7.5px,#06a7c6 10.5px,#06a8c4 105.5px,#0bacbd 107.5px,#15b0b5 108.5px,#28b6a8 109.5px,#44bb97 110.5px,#93bf72 112.5px,#b5bd65 113.5px,#d2bb58 114.5px,#ecb94d 115.5px,#febf3d 116.5px,#fdcb30 117.5px,#f5e51d 120.5px,#f6f214 123.5px,#f8f810 129.5px,#f8f710 217.5px,#f5ee16 221.5px,#f6dc23 224.5px,#fec833 226.5px,#fbbc41 227.5px,#e6b950 228.5px)"></i><i style="background:linear-gradient(90deg,#c7bc5d 0.5px,#a8be69 1.5px,#85bf78 2.5px,#5dbe89 3.5px,#3ab99c 4.5px,#22b4ab 5.5px,#13b0b6 6.5px,#0bacbd 7.5px,#06a8c3 10.5px,#07a9c2 105.5px,#0eaeb9 107.5px,#1bb2b1 108.5px,#2fb7a3 109.5px,#4dbc92 110.5px,#99bf70 112.5px,#babd63 113.5px,#efb94b 115.5px,#fec03b 116.5px,#f8d628 118.5px,#f5ea19 121.5px,#f7f512 125.5px,#f8f710 208.5px,#f7f512 218.5px,#f5e91a 222.5px,#f9d329 225.5px,#fec932 226.5px,#fcbd3f 227.5px,#e9b94e 228.5px)"></i><i style="background:linear-gradient(90deg,#cbbb5b 0.5px,#aebe67 1.5px,#8dbf75 2.5px,#42bb98 4.5px,#29b6a7 5.5px,#18b2b2 6.5px,#0faeb9 7.5px,#08aac0 9.5px,#08aac1 104.5px,#0cadbc 106.5px,#13b0b6 107.5px,#21b4ac 108.5px,#36b99f 109.5px,#56bd8d 110.5px,#a0be6d 112.5px,#daba55 114.5px,#f2b949 115.5px,#fec239 116.5px,#f8d627 118.5px,#f5ea19 121.5px,#f7f412 125.5px,#f7f512 217.5px,#f5ed17 221.5px,#f6dc23 224.5px,#fdca31 226.5px,#febe3d 227.5px,#ecb94c 228.5px)"></i><i style="background:linear-gradient(90deg,#d0bb5a 0.5px,#94bf72 2.5px,#4bbc93 4.5px,#30b7a3 5.5px,#1eb3ae 6.5px,#13b0b6 7.5px,#0aacbd 9.5px,#09acbe 104.5px,#0faeb9 106.5px,#18b1b2 107.5px,#27b5a8 108.5px,#3eba9a 109.5px,#5fbe89 110.5px,#a6be6a 112.5px,#deba53 114.5px,#f5ba47 115.5px,#ffc337 116.5px,#f8d727 118.5px,#f5e919 121.5px,#f6f213 125.5px,#f7f313 217.5px,#f5ec17 221.5px,#f6dd22 224.5px,#fdcb30 226.5px,#fec03b 227.5px,#efb94b 228.5px)"></i><i style="background:linear-gradient(90deg,#d4bb58 0.5px,#9bbf6f 2.5px,#55bd8e 4.5px,#38b99d 5.5px,#25b5aa 6.5px,#19b2b2 7.5px,#0eaeba 9.5px,#0cadbc 16.5px,#0dadbb 104.5px,#14b0b5 106.5px,#1fb3ae 107.5px,#2fb7a3 108.5px,#48bb95 109.5px,#8cbf75 111.5px,#c8bc5d 113.5px,#f7ba45 115.5px,#ffc436 116.5px,#f8d727 118.5px,#f5e81b 121.5px,#f6f015 126.5px,#f6ef16 218.5px,#f5e71b 222.5px,#f9d528 225.5px,#fec13a 227.5px,#f2b949 228.5px)"></i><i style="background:linear-gradient(90deg,#d8ba56 0.5px,#a2be6c 2.5px,#5fbe89 4.5px,#41ba98 5.5px,#2db7a5 6.5px,#1fb3ad 7.5px,#12afb7 9.5px,#0eaeba 13.5px,#0faeb9 103.5px,#14b0b5 105.5px,#1ab2b1 106.5px,#25b5a9 107.5px,#37b99e 108.5px,#51bd90 109.5px,#94bf72 111.5px,#cdbb5b 113.5px,#e5b950 114.5px,#f9bb43 115.5px,#fec536 116.5px,#f8d627 118.5px,#f5e61c 121.5px,#f5ed17 126.5px,#f5eb18 219.5px,#f5e11f 223.5px,#fccc2f 226.5px,#fec238 227.5px,#f4ba47 228.5px)"></i><i style="background:linear-gradient(90deg,#dcba54 0.5px,#a8be69 2.5px,#4bbc93 5.5px,#35b8a0 6.5px,#26b5a9 7.5px,#17b1b3 9.5px,#12afb7 13.5px,#13b0b6 103.5px,#19b2b1 105.5px,#20b4ad 106.5px,#2db7a5 107.5px,#40ba99 108.5px,#5bbd8a 109.5px,#9bbf6f 111.5px,#d1bb59 113.5px,#e8b94e 114.5px,#fabc41 115.5px,#fec635 116.5px,#f6dc23 119.5px,#f5e61b 122.5px,#f5ea19 133.5px,#f5e81a 219.5px,#f5e020 223.5px,#fccd2e 226.5px,#ffc337 227.5px,#f7ba45 228.5px)"></i><i style="background:linear-gradient(90deg,#e0ba53 0.5px,#afbe67 2.5px,#55bd8e 5.5px,#3dba9b 6.5px,#2db7a4 7.5px,#1cb3af 9.5px,#16b1b4 12.5px,#18b1b3 103.5px,#1fb3ae 105.5px,#27b5a8 106.5px,#35b8a0 107.5px,#49bc94 108.5px,#a2be6c 111.5px,#d6ba57 113.5px,#ecb94d 114.5px,#fcbd3f 115.5px,#fec734 116.5px,#f6db23 119.5px,#f5e51c 123.5px,#f5e51c 220.5px,#f7da24 224.5px,#fccd2e 226.5px,#ffc436 227.5px,#f9bb43 228.5px)"></i><i style="background:linear-gradient(90deg,#e4b951 0.5px,#b5bd64 2.5px,#5fbe88 5.5px,#46bb95 6.5px,#35b8a0 7.5px,#29b6a7 8.5px,#1eb3ae 10.5px,#1bb2b0 15.5px,#1bb2b0 102.5px,#20b4ad 104.5px,#2eb7a4 106.5px,#3dba9a 107.5px,#53bd8e 108.5px,#a9be69 111.5px,#daba55 113.5px,#efb94b 114.5px,#fdbe3e 115.5px,#fbcf2c 117.5px,#f6de22 120.5px,#f5e31e 125.5px,#f5e11f 221.5px,#f7d925 224.5px,#fcce2e 226.5px,#fec535 227.5px,#fabc41 228.5px)"></i><i style="background:linear-gradient(90deg,#e7b94f 0.5px,#bbbd62 2.5px,#6abe83 5.5px,#51bd90 6.5px,#3eba9a 7.5px,#32b8a2 8.5px,#25b5aa 10.5px,#20b4ad 14.5px,#21b4ac 102.5px,#27b5a8 104.5px,#37b99e 106.5px,#48bb95 107.5px,#5ebe89 108.5px,#b0bd67 111.5px,#deba53 113.5px,#f1b949 114.5px,#febf3c 115.5px,#fbcf2d 117.5px,#f6db24 120.5px,#f6de22 127.5px,#f6dc23 222.5px,#f9d329 225.5px,#fec635 227.5px,#fbbd40 228.5px)"></i><i style="background:linear-gradient(90deg,#eab94e 0.5px,#c1bc60 2.5px,#75bf7f 5.5px,#5cbe8a 6.5px,#48bb94 7.5px,#3ab99c 8.5px,#2cb6a5 10.5px,#26b5a9 13.5px,#28b6a8 102.5px,#2eb7a4 104.5px,#35b89f 105.5px,#41ba99 106.5px,#52bd8f 107.5px,#9ebe6e 110.5px,#e2b952 113.5px,#f4ba48 114.5px,#fec03b 115.5px,#fcce2d 117.5px,#f7d825 120.5px,#f7d826 223.5px,#fccd2e 226.5px,#fdbd3e 228.5px)"></i><i style="background:linear-gradient(90deg,#edb94c 0.5px,#c6bc5d 2.5px,#67be85 6.5px,#53bd8f 7.5px,#44bb97 8.5px,#33b8a1 10.5px,#2db7a5 13.5px,#2db7a4 101.5px,#36b99f 104.5px,#3eba9a 105.5px,#4bbc93 106.5px,#5dbe89 107.5px,#bcbd62 111.5px,#e5b950 113.5px,#f6ba46 114.5px,#fec13a 115.5px,#fcce2e 117.5px,#f8d627 120.5px,#f9d329 177.5px,#f8d627 219.5px,#f9d429 224.5px,#fec634 227.5px,#fdbe3d 228.5px)"></i><i style="background:linear-gradient(90deg,#f0b94a 0.5px,#ccbb5b 2.5px,#72bf80 6.5px,#5ebe89 7.5px,#4ebc91 8.5px,#3bb99c 10.5px,#33b8a1 13.5px,#34b8a0 101.5px,#39b99d 103.5px,#48bb95 105.5px,#55bd8d 106.5px,#7fbf7a 108.5px,#c3bc5f 111.5px,#e9b94e 113.5px,#f8bb44 114.5px,#fec139 115.5px,#fccd2e 117.5px,#f9d429 120.5px,#fbcf2d 139.5px,#fbd12b 217.5px,#fad22a 224.5px,#fec734 227.5px,#febf3c 228.5px)"></i><i style="background:linear-gradient(90deg,#f3b948 0.5px,#d1bb59 2.5px,#69be84 7.5px,#59bd8c 8.5px,#4cbc92 9.5px,#3fba99 11.5px,#3ab99d 15.5px,#3cba9c 101.5px,#42bb98 103.5px,#52bd8f 105.5px,#61be88 106.5px,#b4bd65 110.5px,#ecb94c 113.5px,#fabb42 114.5px,#fec239 115.5px,#fdcc2f 117.5px,#fbd12b 120.5px,#fec931 133.5px,#fdcb30 216.5px,#fbd02c 224.5px,#fec634 227.5px,#fec03b 228.5px)"></i><i style="background:linear-gradient(90deg,#f5ba47 0.5px,#d6ba57 2.5px,#75bf7f 7.5px,#58bd8c 9.5px,#49bc94 11.5px,#42bb98 15.5px,#43bb97 100.5px,#4cbc92 103.5px,#5ebe89 105.5px,#7fbf7a 107.5px,#cebb5a 111.5px,#efb94b 113.5px,#fabc41 114.5px,#fec239 115.5px,#fccc2f 118.5px,#fec733 124.5px,#ffc238 135.5px,#ffc436 216.5px,#fccd2e 224.5px,#fec635 227.5px,#fec03b 228.5px)"></i><i style="background:linear-gradient(90deg,#f6ba45 0.5px,#daba55 2.5px,#80bf7a 7.5px,#64be86 9.5px,#54bd8e 11.5px,#4cbc92 14.5px,#4dbc92 100.5px,#57bd8c 103.5px,#6abe83 105.5px,#8abf76 107.5px,#d3bb58 111.5px,#f1b949 113.5px,#fbbd40 114.5px,#fec635 116.5px,#fdc931 119.5px,#fcbd3f 129.5px,#fcbd3f 214.5px,#fdc931 225.5px,#fec535 227.5px,#fec03b 228.5px)"></i><i style="background:linear-gradient(90deg,#f8ba44 0.5px,#dfba53 2.5px,#7cbf7b 8.5px,#66be85 10.5px,#5abd8b 12.5px,#55bd8e 17.5px,#57bd8d 100.5px,#62be87 103.5px,#76bf7e 105.5px,#a5be6b 108.5px,#e7b94f 112.5px,#f4ba47 113.5px,#fcbd3f 114.5px,#fec536 116.5px,#fec634 119.5px,#fbbc40 124.5px,#f3ba48 130.5px,#f4ba47 214.5px,#fcbd40 219.5px,#fec634 224.5px,#ffc436 227.5px,#fec03b 228.5px)"></i><i style="background:linear-gradient(90deg,#fabb42 0.5px,#e4b951 2.5px,#87bf77 8.5px,#71bf80 10.5px,#65be86 12.5px,#5ebe89 16.5px,#5fbe88 99.5px,#67be85 102.5px,#76bf7e 104.5px,#8ebf74 106.5px,#ddba54 111.5px,#f6ba46 113.5px,#fdbe3e 114.5px,#ffc436 116.5px,#ffc338 119.5px,#fabc41 122.5px,#edb94c 127.5px,#e8b94f 137.5px,#e9b94e 213.5px,#f2b949 218.5px,#fec13a 223.5px,#fec536 226.5px,#fec13a 228.5px)"></i><i style="background:linear-gradient(90deg,#fabc41 0.5px,#e8b94f 2.5px,#92bf73 8.5px,#7cbf7b 10.5px,#70bf81 12.5px,#69be84 16.5px,#6abe83 99.5px,#73bf80 102.5px,#81bf79 104.5px,#a7be6a 107.5px,#e2b952 111.5px,#f8ba44 113.5px,#fdbe3e 114.5px,#ffc238 117.5px,#fbbd40 120.5px,#e6b94f 125.5px,#ddba54 130.5px,#ddba54 213.5px,#e7b94f 218.5px,#fcbd3f 223.5px,#ffc238 226.5px,#fec03b 228.5px)"></i><i style="background:linear-gradient(90deg,#fabc41 0.5px,#ebb94d 2.5px,#9cbf6e 8.5px,#81bf7a 11.5px,#76bf7e 14.5px,#73bf7f 28.5px,#75bf7e 99.5px,#7ebf7a 102.5px,#97bf71 105.5px,#e6b950 111.5px,#f9bb44 113.5px,#febf3c 115.5px,#fcbd3f 118.5px,#e8b94e 122.5px,#d6ba57 126.5px,#cebb5a 131.5px,#cfbb5a 213.5px,#d7ba57 217.5px,#f0b94a 222.5px,#fdbe3e 225.5px,#febf3c 228.5px)"></i><i style="background:linear-gradient(90deg,#fbbc41 0.5px,#eeb94b 2.5px,#bebc61 6.5px,#9cbf6e 9.5px,#87bf77 12.5px,#7ebf7a 16.5px,#7fbf7a 98.5px,#85bf78 101.5px,#98bf70 104.5px,#b8bd63 107.5px,#eab94e 111.5px,#f9bb43 113.5px,#fdbe3d 115.5px,#f8ba44 118.5px,#d1bb59 124.5px,#c3bc5f 128.5px,#bebc61 137.5px,#c0bc60 212.5px,#c9bb5c 217.5px,#dfba53 221.5px,#f9bb43 225.5px,#fdbe3e 228.5px)"></i><i style="background:linear-gradient(90deg,#fbbc41 0.5px,#f1b949 2.5px,#d2bb59 5.5px,#a6be6a 9.5px,#92bf73 12.5px,#89bf76 16.5px,#89bf76 98.5px,#90bf73 101.5px,#a2be6c 104.5px,#cdbb5b 108.5px,#edb94c 111.5px,#fabb42 113.5px,#fcbd3f 115.5px,#f8ba45 117.5px,#daba55 121.5px,#bfbc60 125.5px,#b2bd66 129.5px,#afbe67 142.5px,#b0bd66 212.5px,#b8bd63 216.5px,#cdbb5b 220.5px,#f4ba48 225.5px,#fbbc40 227.5px,#fcbd3f 228.5px)"></i><i style="background:linear-gradient(90deg,#fbbc41 0.5px,#f4ba47 2.5px,#d9ba56 5.5px,#b0bd67 9.5px,#9cbf6f 12.5px,#92bf72 16.5px,#93bf72 98.5px,#9abf6f 101.5px,#acbe68 104.5px,#f1b94a 111.5px,#fabc41 113.5px,#fbbc41 115.5px,#f3ba48 117.5px,#b7bd64 124.5px,#a8be6a 127.5px,#9fbe6d 132.5px,#a0be6d 212.5px,#a9be69 216.5px,#b9bd63 219.5px,#f4ba47 226.5px,#fbbc41 228.5px)"></i><i style="background:linear-gradient(90deg,#fabc42 0.5px,#f6ba46 2.5px,#dfba53 5.5px,#b1bd66 10.5px,#a2be6c 13.5px,#9bbf6f 18.5px,#9cbf6e 97.5px,#a4be6b 101.5px,#b6bd64 104.5px,#edb94c 110.5px,#f8bb44 112.5px,#fabc42 114.5px,#f4ba48 116.5px,#daba55 119.5px,#a8be6a 124.5px,#96bf71 127.5px,#8dbf74 131.5px,#8cbf75 211.5px,#93bf72 215.5px,#a2be6c 218.5px,#c7bc5d 222.5px,#efb94b 226.5px,#f9bb43 228.5px)"></i><i style="background:linear-gradient(90deg,#f9bb43 0.5px,#f7ba45 2.5px,#e5b950 5.5px,#bbbd62 10.5px,#adbe68 13.5px,#a5be6b 18.5px,#a6be6a 97.5px,#afbe67 101.5px,#bfbc60 104.5px,#f0b94a 110.5px,#f9bb44 112.5px,#f8ba44 114.5px,#eeb94b 116.5px,#cfbb5a 119.5px,#a0be6d 123.5px,#86bf77 126.5px,#7abf7d 129.5px,#74bf7f 136.5px,#76bf7e 211.5px,#7ebf7b 215.5px,#8fbf73 218.5px,#aebe67 221.5px,#e7b94f 226.5px,#f5ba46 228.5px)"></i><i style="background:linear-gradient(90deg,#f7ba45 0.5px,#f8ba44 2.5px,#eab94e 5.5px,#bfbc60 11.5px,#b2bd66 15.5px,#aebe67 26.5px,#b0bd66 97.5px,#b9bd63 101.5px,#cfbb5a 105.5px,#f3ba48 110.5px,#f9bb44 112.5px,#f5ba46 114.5px,#e8b94f 116.5px,#c5bc5e 119.5px,#82bf79 124.5px,#6abe84 127.5px,#5fbe88 130.5px,#5cbe8a 141.5px,#5dbe8a 211.5px,#66be85 215.5px,#7bbf7c 218.5px,#9ebe6d 221.5px,#d5ba58 225.5px,#eab94e 227.5px,#f1b949 228.5px)"></i><i style="background:linear-gradient(90deg,#f5ba46 0.5px,#f9bb43 2.5px,#f5ba47 4.5px,#c9bc5d 11.5px,#bbbd62 15.5px,#b7bd64 25.5px,#b9bd63 97.5px,#c2bc5f 101.5px,#d8ba56 105.5px,#f2b949 109.5px,#f9bb43 112.5px,#f3b948 114.5px,#e1b952 116.5px,#b9bd63 119.5px,#6dbf82 124.5px,#58bd8c 126.5px,#49bc94 129.5px,#44bb97 135.5px,#46bb96 212.5px,#4dbc91 215.5px,#5abd8b 217.5px,#71bf80 219.5px,#ccbb5b 225.5px,#edb94c 228.5px)"></i><i style="background:linear-gradient(90deg,#f3ba48 0.5px,#fabb42 2.5px,#f8ba44 4.5px,#e3b951 8.5px,#cdbb5b 12.5px,#c2bc5f 17.5px,#c2bc5f 96.5px,#ccbb5b 101.5px,#e7b94f 106.5px,#f7ba45 109.5px,#f9bb43 112.5px,#f0b94a 114.5px,#dbba55 116.5px,#aebe67 119.5px,#66be85 123.5px,#4bbc93 125.5px,#3bb99c 127.5px,#32b8a2 130.5px,#2fb7a3 147.5px,#31b8a2 212.5px,#37b99e 215.5px,#44bb97 217.5px,#5abd8b 219.5px,#b2bd66 224.5px,#deba53 227.5px,#e9b94e 228.5px)"></i><i style="background:linear-gradient(90deg,#f0b94a 0.5px,#f9bb43 2.5px,#f8ba44 5.5px,#d7ba57 12.5px,#cbbb5b 17.5px,#c9bb5c 91.5px,#cdbb5b 98.5px,#deba54 103.5px,#f7ba45 108.5px,#fabc42 111.5px,#f3ba48 113.5px,#e1ba52 115.5px,#c4bc5e 117.5px,#8cbf75 120.5px,#4fbc91 123.5px,#35b89f 125.5px,#27b5a8 127.5px,#1fb3ae 130.5px,#1db3af 211.5px,#24b5aa 215.5px,#2fb7a3 217.5px,#44bb97 219.5px,#67be85 221.5px,#a5be6b 224.5px,#d7ba57 227.5px,#e3b951 228.5px)"></i><i style="background:linear-gradient(90deg,#ebb94d 0.5px,#f8ba44 2.5px,#fabc41 5.5px,#ecb94c 9.5px,#daba55 14.5px,#d3bb58 21.5px,#d4bb58 96.5px,#deba53 101.5px,#fabb42 108.5px,#f9bb43 111.5px,#efb94b 113.5px,#d9ba55 115.5px,#babd63 117.5px,#92bf73 119.5px,#4cbc92 122.5px,#3ab99d 123.5px,#22b4ab 125.5px,#16b1b4 127.5px,#0faeb9 131.5px,#10afb8 213.5px,#17b1b3 216.5px,#24b5aa 218.5px,#3eba9a 220.5px,#68be84 222.5px,#acbe68 225.5px,#cfbb5a 227.5px,#ddba54 228.5px)"></i><i style="background:linear-gradient(90deg,#e6b94f 0.5px,#f7ba45 2.5px,#fcbd3f 5.5px,#f4ba48 9.5px,#e1b952 15.5px,#dcba54 24.5px,#ddba54 95.5px,#e7b94f 101.5px,#fbbc41 107.5px,#fbbd40 110.5px,#f4ba48 112.5px,#e0ba52 114.5px,#c2bc5f 116.5px,#9abf6f 118.5px,#4dbc92 121.5px,#37b99e 122.5px,#27b5a8 123.5px,#12b0b6 125.5px,#09acbe 127.5px,#07a9c3 133.5px,#07aac1 214.5px,#0eaeba 217.5px,#1eb3ae 219.5px,#2bb6a6 220.5px,#3dba9b 221.5px,#6ebf82 223.5px,#9fbe6d 225.5px,#c6bc5e 227.5px,#d6ba57 228.5px)"></i><i style="background:linear-gradient(90deg,#e2b952 0.5px,#f5ba46 2.5px,#fdbe3e 4.5px,#fdbe3e 7.5px,#eab94d 15.5px,#e5b950 24.5px,#e6b94f 95.5px,#f0b94a 101.5px,#fdbe3e 106.5px,#fdbe3d 109.5px,#f8bb44 111.5px,#e7b94f 113.5px,#cbbb5c 115.5px,#a4be6b 117.5px,#70bf81 119.5px,#3ab99d 121.5px,#26b5a9 122.5px,#17b1b3 123.5px,#0daebb 124.5px,#06a8c4 126.5px,#06a3cb 130.5px,#06a3ca 214.5px,#06a8c4 217.5px,#09abbf 218.5px,#0faeb9 219.5px,#1bb2b0 220.5px,#2bb6a6 221.5px,#40ba99 222.5px,#92bf72 225.5px,#bdbc61 227.5px,#cfbb5a 228.5px)"></i><i style="background:linear-gradient(90deg,#ddba54 0.5px,#f4ba47 2.5px,#febf3c 4.5px,#fec139 7.5px,#f9bb43 12.5px,#efb94b 19.5px,#efb94b 95.5px,#fabc41 102.5px,#fec239 107.5px,#fcbd3f 110.5px,#f8ba45 111.5px,#e3b951 113.5px,#c3bc5f 115.5px,#98bf70 117.5px,#5ebe89 119.5px,#41ba99 120.5px,#29b6a7 121.5px,#17b1b3 122.5px,#0badbc 123.5px,#06a8c4 124.5px,#069ece 127.5px,#089ad0 133.5px,#079bd0 214.5px,#06a2cb 217.5px,#07a9c2 219.5px,#0eaeba 220.5px,#1bb2b0 221.5px,#2eb7a4 222.5px,#47bb95 223.5px,#84bf78 225.5px,#b4bd65 227.5px,#c8bc5d 228.5px)"></i><i style="background:linear-gradient(90deg,#d7ba57 0.5px,#f1b94a 2.5px,#f9bb43 3.5px,#fec139 5.5px,#ffc337 9.5px,#f7ba45 19.5px,#f8ba45 95.5px,#ffc337 105.5px,#ffc238 108.5px,#fbbd40 110.5px,#f5ba46 111.5px,#deba54 113.5px,#bbbd62 115.5px,#8bbf75 117.5px,#4cbc92 119.5px,#30b7a2 120.5px,#1bb2b0 121.5px,#0cadbc 122.5px,#06a8c5 123.5px,#079dcf 125.5px,#0d93d2 128.5px,#0e91d2 136.5px,#0e91d2 214.5px,#089ad0 217.5px,#06a4ca 219.5px,#07a9c3 220.5px,#0faeb9 221.5px,#1fb4ad 222.5px,#36b99f 223.5px,#74bf7f 225.5px,#92bf73 226.5px,#bfbc60 228.5px)"></i><i style="background:linear-gradient(90deg,#cfbb5a 0.5px,#edb94c 2.5px,#f7ba45 3.5px,#fdbe3e 4.5px,#fec635 7.5px,#fec139 14.5px,#fcbd3f 26.5px,#fdbe3d 95.5px,#fec634 106.5px,#febf3c 109.5px,#fabc42 110.5px,#e6b950 112.5px,#c6bc5e 114.5px,#99bf70 116.5px,#7cbf7b 117.5px,#3cba9c 119.5px,#22b4ac 120.5px,#0faeb9 121.5px,#06a8c4 122.5px,#079bd0 124.5px,#128bd3 127.5px,#1486d3 131.5px,#1487d3 214.5px,#0f90d2 217.5px,#079dcf 219.5px,#07aac1 221.5px,#13b0b6 222.5px,#28b6a8 223.5px,#43bb97 224.5px,#84bf78 226.5px,#9fbe6d 227.5px,#b6bd64 228.5px)"></i><i style="background:linear-gradient(90deg,#c8bc5d 0.5px,#e8b94e 2.5px,#f4ba47 3.5px,#fcbd3f 4.5px,#fec733 7.5px,#fec832 12.5px,#ffc338 26.5px,#ffc436 96.5px,#fec932 105.5px,#ffc337 108.5px,#febf3c 109.5px,#f8bb44 110.5px,#e1ba52 112.5px,#bebc61 114.5px,#a7be6a 115.5px,#8dbf75 116.5px,#4bbc93 118.5px,#2db7a5 119.5px,#16b1b4 120.5px,#08aac1 121.5px,#06a3ca 122.5px,#089bd0 123.5px,#128ad3 125.5px,#1480d6 128.5px,#1480d6 215.5px,#128cd2 218.5px,#079dcf 220.5px,#06a5c8 221.5px,#0aacbe 222.5px,#1bb2b0 223.5px,#33b8a0 224.5px,#75bf7e 226.5px,#94bf72 227.5px,#adbe68 228.5px)"></i><i style="background:linear-gradient(90deg,#c1bc60 0.5px,#e4b951 2.5px,#f2b949 3.5px,#fbbc40 4.5px,#fec635 6.5px,#fccd2e 10.5px,#fec832 33.5px,#fdca31 96.5px,#fdcc2f 105.5px,#ffc337 108.5px,#fdbe3d 109.5px,#f6ba45 110.5px,#dcba54 112.5px,#b5bd64 114.5px,#9dbf6e 115.5px,#80bf7a 116.5px,#3bb99c 118.5px,#20b4ad 119.5px,#0cadbc 120.5px,#06a5c8 121.5px,#079dcf 122.5px,#1388d3 124.5px,#117ada 127.5px,#0f77db 132.5px,#0e77db 211.5px,#117ad9 216.5px,#1483d5 218.5px,#128ad3 219.5px,#069fce 221.5px,#06a7c5 222.5px,#10afb8 223.5px,#26b5a9 224.5px,#43bb97 225.5px,#87bf77 227.5px,#a3be6c 228.5px)"></i><i style="background:linear-gradient(90deg,#b9bd63 0.5px,#e0ba53 2.5px,#fabc42 4.5px,#fec139 5.5px,#fcce2e 8.5px,#fad22a 13.5px,#fcce2d 39.5px,#fbd02c 97.5px,#fbd12b 104.5px,#fec932 107.5px,#fdbe3e 109.5px,#f4ba47 110.5px,#d6ba57 112.5px,#adbe68 114.5px,#92bf72 115.5px,#72bf80 116.5px,#4dbc91 117.5px,#2db7a4 118.5px,#14b0b5 119.5px,#07a9c3 120.5px,#06a0cd 121.5px,#1388d3 123.5px,#117ada 125.5px,#0770df 128.5px,#0871de 208.5px,#0770df 215.5px,#117bd9 218.5px,#1482d5 219.5px,#128bd2 220.5px,#0998d1 221.5px,#06a2cb 222.5px,#08abc0 223.5px,#1ab2b1 224.5px,#35b8a0 225.5px,#7abf7c 227.5px,#99bf70 228.5px)"></i><i style="background:linear-gradient(90deg,#b1bd66 0.5px,#daba55 2.5px,#f7ba45 4.5px,#fec03b 5.5px,#fcce2d 8.5px,#f8d628 13.5px,#f9d429 92.5px,#f9d429 103.5px,#fec832 107.5px,#ffc238 108.5px,#fbbc40 109.5px,#f0b94a 110.5px,#d0bb5a 112.5px,#a4be6b 114.5px,#87bf77 115.5px,#40ba99 117.5px,#23b4ab 118.5px,#0dadbb 119.5px,#06a5c8 120.5px,#089bd0 121.5px,#118ed2 122.5px,#1483d5 123.5px,#066fdf 126.5px,#0267e1 129.5px,#046ce0 145.5px,#026ae1 209.5px,#0268e1 215.5px,#0770df 217.5px,#127cd8 219.5px,#1485d4 220.5px,#079ecf 222.5px,#06a7c5 223.5px,#11afb7 224.5px,#29b6a7 225.5px,#49bc94 226.5px,#6ebf82 227.5px,#8ebf74 228.5px)"></i><i style="background:linear-gradient(90deg,#a8be6a 0.5px,#d3bb58 2.5px,#f3ba48 4.5px,#fdbe3e 5.5px,#fdca31 7.5px,#f8d627 11.5px,#f7d925 21.5px,#f7d826 101.5px,#fbd02c 105.5px,#fec13a 108.5px,#f8bb44 109.5px,#dbba55 111.5px,#b3bd65 113.5px,#9abf6f 114.5px,#7bbf7c 115.5px,#35b89f 117.5px,#1ab2b1 118.5px,#08aac0 119.5px,#06a2cc 120.5px,#0b95d1 121.5px,#1388d3 122.5px,#137ed7 123.5px,#0268e1 126.5px,#0363e1 127.5px,#0a5fdf 128.5px,#0c5ede 130.5px,#0363e1 134.5px,#0364e1 208.5px,#0c5dde 214.5px,#0364e1 216.5px,#026ae1 217.5px,#1480d6 220.5px,#128bd2 221.5px,#0899d1 222.5px,#06a4c9 223.5px,#0bacbd 224.5px,#20b4ad 225.5px,#3dba9b 226.5px,#83bf78 228.5px)"></i><i style="background:linear-gradient(90deg,#9fbe6d 0.5px,#cdbb5b 2.5px,#efb94b 4.5px,#fbbc41 5.5px,#ffc338 6.5px,#fad22a 9.5px,#f6dd22 14.5px,#f6dc23 100.5px,#fbd02c 105.5px,#fec635 107.5px,#febf3d 108.5px,#f5ba47 109.5px,#d5ba57 111.5px,#abbe68 113.5px,#90bf73 114.5px,#6fbf81 115.5px,#4bbc93 116.5px,#2bb6a6 117.5px,#12afb7 118.5px,#06a7c5 119.5px,#079dcf 120.5px,#1483d5 122.5px,#1079da 123.5px,#0269e1 125.5px,#0760e0 126.5px,#1757d9 127.5px,#2251d2 128.5px,#2450cf 129.5px,#105bdd 135.5px,#0d5dde 145.5px,#0f5cdd 207.5px,#1b55d6 211.5px,#2450cf 214.5px,#2152d3 215.5px,#0462e1 217.5px,#036be1 218.5px,#127cd8 220.5px,#1486d4 221.5px,#06a0cd 223.5px,#07aac2 224.5px,#17b1b3 225.5px,#32b8a1 226.5px,#78bf7d 228.5px)"></i><i style="background:linear-gradient(90deg,#96bf71 0.5px,#c6bc5e 2.5px,#ebb94d 4.5px,#f8bb44 5.5px,#fec13a 6.5px,#fad32a 9.5px,#f5e11f 14.5px,#f5e31e 30.5px,#f5e21e 98.5px,#f7d925 103.5px,#fdcb30 106.5px,#ffc436 107.5px,#fcbd3f 108.5px,#f1b94a 109.5px,#cfbb5a 111.5px,#a2be6c 113.5px,#85bf78 114.5px,#3fba9a 116.5px,#21b4ac 117.5px,#0badbc 118.5px,#06a4c9 119.5px,#0999d1 120.5px,#138ad3 121.5px,#137ed7 122.5px,#036ce0 124.5px,#0561e0 125.5px,#1c55d6 126.5px,#2b4bc7 127.5px,#3045bd 128.5px,#3244bb 129.5px,#2450cf 135.5px,#2152d2 144.5px,#2251d1 206.5px,#294cc9 210.5px,#3144bb 214.5px,#2f46bf 215.5px,#294cca 216.5px,#1658d9 217.5px,#0364e1 218.5px,#056ee0 219.5px,#1481d6 221.5px,#118dd2 222.5px,#079cd0 223.5px,#06a6c6 224.5px,#10afb8 225.5px,#28b6a8 226.5px,#47bb95 227.5px,#6cbf83 228.5px)"></i><i style="background:linear-gradient(90deg,#8cbf75 0.5px,#a8be6a 1.5px,#d4bb58 3.5px,#f5ba46 5.5px,#fec03b 6.5px,#fcce2d 8.5px,#f5e020 12.5px,#f5e91a 18.5px,#f5e81a 97.5px,#f5de21 102.5px,#fdcb30 106.5px,#ffc337 107.5px,#fabc41 108.5px,#dcba54 110.5px,#b3bd65 112.5px,#99bf70 113.5px,#7abf7c 114.5px,#34b8a0 116.5px,#18b2b2 117.5px,#07aac1 118.5px,#06a0cd 119.5px,#1485d4 121.5px,#117ada 122.5px,#0770df 123.5px,#0265e1 124.5px,#1757d9 125.5px,#2d49c4 126.5px,#3340b4 127.5px,#353ba9 128.5px,#363aa6 129.5px,#3145bc 134.5px,#2e48c2 139.5px,#2e47c1 206.5px,#3242b8 210.5px,#363aa7 214.5px,#353cab 215.5px,#3342b7 216.5px,#294cc9 217.5px,#105bdd 218.5px,#0268e1 219.5px,#127cd8 221.5px,#1388d3 222.5px,#0a97d1 223.5px,#06a3ca 224.5px,#0aacbe 225.5px,#1eb3ae 226.5px,#3cba9c 227.5px,#5fbe89 228.5px)"></i><i style="background:linear-gradient(90deg,#82bf79 0.5px,#9fbe6d 1.5px,#cdbb5b 3.5px,#f0b94a 5.5px,#fcbd3f 6.5px,#ffc436 7.5px,#f8d727 10.5px,#f5e71b 15.5px,#f5ed17 24.5px,#f5eb18 95.5px,#f5e41d 100.5px,#fbcf2d 105.5px,#fec03b 107.5px,#f6ba46 108.5px,#d6ba57 110.5px,#abbe68 112.5px,#90bf73 113.5px,#70bf81 114.5px,#4cbc92 115.5px,#2cb7a5 116.5px,#13b0b6 117.5px,#06a8c4 118.5px,#069ece 119.5px,#1483d5 121.5px,#1078da 122.5px,#066fdf 123.5px,#0364e1 124.5px,#1b55d7 125.5px,#2e48c2 126.5px,#343fb1 127.5px,#363aa7 128.5px,#3638a3 129.5px,#3342b6 135.5px,#3242b7 146.5px,#3342b7 207.5px,#353dac 211.5px,#3638a3 214.5px,#353ba8 215.5px,#3341b4 216.5px,#2b4bc7 217.5px,#1359db 218.5px,#0267e1 219.5px,#117bd9 221.5px,#1486d4 222.5px,#06a1cc 224.5px,#08aac1 225.5px,#19b2b2 226.5px,#33b8a0 227.5px,#55bd8e 228.5px)"></i><i style="background:linear-gradient(90deg,#79bf7d 0.5px,#97bf71 1.5px,#c6bc5e 3.5px,#eab94e 5.5px,#f8ba44 6.5px,#fec13a 7.5px,#f9d528 10.5px,#f5e81b 15.5px,#f6ef15 22.5px,#f6ef16 93.5px,#f5e61c 99.5px,#fad22a 104.5px,#fec536 106.5px,#fcbd3f 107.5px,#f0b94a 108.5px,#cebb5a 110.5px,#a3be6c 112.5px,#87bf77 113.5px,#43bb97 115.5px,#25b5a9 116.5px,#0faeb9 117.5px,#06a6c6 118.5px,#079cd0 119.5px,#108ed2 120.5px,#1482d5 121.5px,#0f78db 122.5px,#066edf 123.5px,#0364e1 124.5px,#1a56d7 125.5px,#2d49c4 126.5px,#3340b3 127.5px,#353ba8 128.5px,#3638a3 129.5px,#343fb0 136.5px,#353eaf 208.5px,#3638a4 213.5px,#3639a4 214.5px,#353caa 215.5px,#3342b7 216.5px,#2a4cc8 217.5px,#125adc 218.5px,#0267e1 219.5px,#117ad9 221.5px,#1484d4 222.5px,#069fce 224.5px,#06a8c3 225.5px,#14b0b5 226.5px,#2cb7a5 227.5px,#4bbc93 228.5px)"></i><i style="background:linear-gradient(90deg,#6fbf81 0.5px,#8ebf74 1.5px,#bebc61 3.5px,#e3b951 5.5px,#f3b948 6.5px,#fdbe3e 7.5px,#fccd2f 9.5px,#f5e51d 14.5px,#f6f115 20.5px,#f7f413 49.5px,#f6f114 93.5px,#f5e61c 99.5px,#fbd02c 104.5px,#fec239 106.5px,#f8bb44 107.5px,#daba55 109.5px,#b2bd66 111.5px,#9abf6f 112.5px,#7dbf7b 113.5px,#3bb99c 115.5px,#1fb4ad 116.5px,#0badbc 117.5px,#06a5c8 118.5px,#089ad0 119.5px,#118cd2 120.5px,#1481d6 121.5px,#056ee0 123.5px,#0364e1 124.5px,#1857d8 125.5px,#2c4ac6 126.5px,#3341b6 127.5px,#353caa 128.5px,#3638a4 129.5px,#3639a5 132.5px,#353ba9 138.5px,#363aa7 184.5px,#363aa7 209.5px,#3638a3 213.5px,#3639a5 214.5px,#353dac 215.5px,#3243b9 216.5px,#294dca 217.5px,#115bdc 218.5px,#0267e1 219.5px,#1079da 221.5px,#1483d5 222.5px,#079dcf 224.5px,#06a7c6 225.5px,#0fafb9 226.5px,#26b5a9 227.5px,#42bb98 228.5px)"></i><i style="background:linear-gradient(90deg,#64be86 0.5px,#84bf78 1.5px,#b7bd64 3.5px,#ddba54 5.5px,#fabc42 7.5px,#ffc338 8.5px,#f8d627 11.5px,#f5eb18 16.5px,#f7f412 22.5px,#f8f711 85.5px,#f6f015 95.5px,#f5e21e 100.5px,#fccd2e 104.5px,#febe3d 106.5px,#f3ba48 107.5px,#d3bb58 109.5px,#aabe69 111.5px,#91bf73 112.5px,#52bd8f 114.5px,#33b8a1 115.5px,#1ab2b1 116.5px,#09abbf 117.5px,#06a3ca 118.5px,#0998d1 119.5px,#128ad3 120.5px,#137fd6 121.5px,#056ee0 123.5px,#0364e1 124.5px,#1757d9 125.5px,#2b4bc7 126.5px,#3242b8 127.5px,#353cac 128.5px,#3639a4 129.5px,#3637a0 131.5px,#3637a1 139.5px,#36369e 168.5px,#3637a1 203.5px,#3637a1 210.5px,#3637a2 213.5px,#353eae 215.5px,#3144bb 216.5px,#274ecc 217.5px,#105bdd 218.5px,#0267e1 219.5px,#1482d5 222.5px,#118ed2 223.5px,#079bd0 224.5px,#06a5c8 225.5px,#0cadbc 226.5px,#1fb4ad 227.5px,#3ab99d 228.5px)"></i><i style="background:linear-gradient(90deg,#5abd8b 0.5px,#7bbf7c 1.5px,#97bf70 2.5px,#c4bc5e 4.5px,#e7b94f 6.5px,#f6ba46 7.5px,#fec03b 8.5px,#f9d528 11.5px,#f5eb18 16.5px,#f8f710 22.5px,#f9fa0e 49.5px,#f8f810 91.5px,#f5ed17 97.5px,#f8d726 102.5px,#ffc337 105.5px,#fbbc41 106.5px,#deba53 108.5px,#b9bd63 110.5px,#88bf77 112.5px,#48bb94 114.5px,#2bb6a5 115.5px,#14b0b5 116.5px,#07a9c2 117.5px,#06a1cc 118.5px,#0b96d1 119.5px,#1389d3 120.5px,#137ed7 121.5px,#056de0 123.5px,#0364e1 124.5px,#1658da 125.5px,#294cc9 126.5px,#3244ba 127.5px,#3639a5 129.5px,#36359d 131.5px,#363296 151.5px,#363398 202.5px,#36359d 212.5px,#363aa7 214.5px,#3045bd 216.5px,#264fcd 217.5px,#0f5cdd 218.5px,#0267e1 219.5px,#1481d6 222.5px,#128cd2 223.5px,#0899d1 224.5px,#06a3ca 225.5px,#09abbf 226.5px,#1ab2b1 227.5px,#32b8a1 228.5px)"></i><i style="background:linear-gradient(90deg,#51bd8f 0.5px,#8ebf74 2.5px,#bbbd62 4.5px,#eeb94b 7.5px,#fabc42 8.5px,#ffc238 9.5px,#f9d528 12.5px,#f5e91a 17.5px,#f7f313 23.5px,#f8f611 54.5px,#f7f412 90.5px,#f5ea19 96.5px,#f8d726 101.5px,#fec635 104.5px,#fdbe3d 105.5px,#f4ba47 106.5px,#c4bc5e 109.5px,#99bf70 111.5px,#7fbf7a 112.5px,#41ba99 114.5px,#26b5a9 115.5px,#11afb7 116.5px,#06a8c4 117.5px,#06a0cd 118.5px,#1388d3 120.5px,#137fd7 121.5px,#066edf 123.5px,#0266e1 124.5px,#0f5cdd 125.5px,#254fcf 126.5px,#2f47bf 127.5px,#353baa 129.5px,#3637a0 131.5px,#363093 145.5px,#363195 201.5px,#3637a1 212.5px,#353cac 214.5px,#2e48c3 216.5px,#2152d3 217.5px,#0b5edf 218.5px,#0268e1 219.5px,#1481d6 222.5px,#128bd2 223.5px,#0998d1 224.5px,#06a2cb 225.5px,#08aac1 226.5px,#16b1b4 227.5px,#2cb7a5 228.5px)"></i><i style="background:linear-gradient(90deg,#49bc94 0.5px,#84bf78 2.5px,#b3bd65 4.5px,#e5b950 7.5px,#fcbd3f 9.5px,#ffc437 10.5px,#f7d925 14.5px,#f5ea19 20.5px,#f6f114 30.5px,#f6ef16 89.5px,#f5e41d 96.5px,#fad22a 101.5px,#fec03b 104.5px,#f8ba45 105.5px,#cdbb5b 108.5px,#a7be6a 110.5px,#75bf7e 112.5px,#3ab99d 114.5px,#22b4ac 115.5px,#0faeb9 116.5px,#06a7c5 117.5px,#069fce 118.5px,#1389d3 120.5px,#137fd7 121.5px,#0268e1 124.5px,#0a5fdf 125.5px,#1f53d4 126.5px,#2c4ac6 127.5px,#343eaf 129.5px,#3637a1 132.5px,#362f91 143.5px,#363092 201.5px,#3637a1 211.5px,#353caa 213.5px,#3145bc 215.5px,#2a4cc9 216.5px,#1a56d7 217.5px,#0661e0 218.5px,#026ae1 219.5px,#1079da 221.5px,#1481d5 222.5px,#128bd2 223.5px,#0997d1 224.5px,#06a2cc 225.5px,#07a9c2 226.5px,#13b0b6 227.5px,#27b5a8 228.5px)"></i><i style="background:linear-gradient(90deg,#41ba98 0.5px,#7bbf7c 2.5px,#a9be69 4.5px,#dcba54 7.5px,#f5ba46 9.5px,#fdbe3d 10.5px,#fbcf2d 13.5px,#f5e31e 19.5px,#f5eb18 27.5px,#f5eb18 87.5px,#f5e21f 95.5px,#fad12b 100.5px,#fec13a 103.5px,#fabb42 104.5px,#e2b951 106.5px,#b2bd66 109.5px,#86bf77 111.5px,#4ebc91 113.5px,#33b8a1 114.5px,#1db3af 115.5px,#0cadbb 116.5px,#06a7c6 117.5px,#069fce 118.5px,#1389d3 120.5px,#1480d6 121.5px,#026ae1 124.5px,#0561e0 125.5px,#1757d9 126.5px,#274ecc 127.5px,#2f46bf 128.5px,#353dad 130.5px,#36359d 134.5px,#362e8f 143.5px,#362e8f 200.5px,#36369e 209.5px,#353ba9 212.5px,#3242b7 214.5px,#2e48c2 215.5px,#2450cf 216.5px,#125adc 217.5px,#0364e1 218.5px,#036be0 219.5px,#117ada 221.5px,#1482d5 222.5px,#128bd2 223.5px,#0a97d1 224.5px,#06a1cd 225.5px,#06a8c4 226.5px,#10afb8 227.5px,#22b4ab 228.5px)"></i><i style="background:linear-gradient(90deg,#3ab99d 0.5px,#70bf80 2.5px,#a0be6d 4.5px,#c4bc5f 6.5px,#edb94c 9.5px,#f8ba45 10.5px,#febf3c 11.5px,#fcce2d 14.5px,#f5e020 20.5px,#f5e81a 30.5px,#f5e71b 87.5px,#f6dc22 95.5px,#fdcc2f 100.5px,#fec139 102.5px,#fbbc41 103.5px,#e6b94f 105.5px,#bbbd62 108.5px,#94bf72 110.5px,#61be87 112.5px,#2db7a4 114.5px,#19b2b2 115.5px,#0aacbd 116.5px,#06a6c7 117.5px,#079ecf 118.5px,#1389d3 120.5px,#1480d6 121.5px,#036be0 124.5px,#0364e1 125.5px,#105bdd 126.5px,#2251d2 127.5px,#2c4ac5 128.5px,#3440b2 130.5px,#36369e 134.5px,#362e8e 141.5px,#352d8b 149.5px,#352d8c 200.5px,#363399 207.5px,#363aa7 211.5px,#3045bd 214.5px,#2a4bc8 215.5px,#1e54d5 216.5px,#0c5ede 217.5px,#0266e1 218.5px,#046de0 219.5px,#117bd9 221.5px,#1482d5 222.5px,#128bd2 223.5px,#06a0cd 225.5px,#06a7c5 226.5px,#0daebb 227.5px,#1db3af 228.5px)"></i><i style="background:linear-gradient(90deg,#33b8a1 0.5px,#7fbf7a 3.5px,#a9be69 5.5px,#d8ba56 8.5px,#f9bb43 11.5px,#febf3c 12.5px,#fccd2e 15.5px,#f6dd22 21.5px,#f5e41d 32.5px,#f5e21e 87.5px,#f7d826 95.5px,#fec734 100.5px,#fbbd40 102.5px,#e9b94e 104.5px,#c2bc5f 107.5px,#9fbe6d 109.5px,#72bf80 111.5px,#3dba9a 113.5px,#15b0b5 115.5px,#09abbf 116.5px,#079dcf 118.5px,#1389d3 120.5px,#1481d6 121.5px,#046de0 124.5px,#0266e1 125.5px,#0a5fdf 126.5px,#274dcb 128.5px,#3342b7 130.5px,#3638a3 133.5px,#363092 138.5px,#352b88 145.5px,#352c8a 200.5px,#363398 207.5px,#353caa 211.5px,#3243ba 213.5px,#254fce 215.5px,#1658d9 216.5px,#0761e0 217.5px,#0268e1 218.5px,#127bd9 221.5px,#1482d5 222.5px,#128bd2 223.5px,#069fce 225.5px,#06a6c6 226.5px,#0bacbd 227.5px,#19b2b2 228.5px)"></i><i style="background:linear-gradient(90deg,#2cb7a5 0.5px,#5abd8b 2.5px,#89bf76 4.5px,#aebe67 6.5px,#d7ba57 9.5px,#f4ba47 12.5px,#febf3c 14.5px,#fdcc2f 18.5px,#f8d627 26.5px,#f8d628 88.5px,#fdcb30 96.5px,#fcbd3f 100.5px,#efb94b 102.5px,#d0bb59 105.5px,#a4be6b 108.5px,#7dbf7b 110.5px,#35b89f 113.5px,#11afb7 115.5px,#07aac1 116.5px,#079cd0 118.5px,#1389d3 120.5px,#117ad9 122.5px,#0268e1 125.5px,#0761e0 126.5px,#1658da 127.5px,#2450cf 128.5px,#2d49c4 129.5px,#353cac 132.5px,#363399 136.5px,#352d8b 142.5px,#352b89 153.5px,#352c8a 200.5px,#363296 206.5px,#363aa7 210.5px,#3045bd 213.5px,#2b4ac7 214.5px,#2252d2 215.5px,#125adc 216.5px,#0363e1 217.5px,#0269e1 218.5px,#127cd8 221.5px,#1483d5 222.5px,#128bd2 223.5px,#069ece 225.5px,#09abbf 227.5px,#15b0b5 228.5px)"></i><i style="background:linear-gradient(90deg,#25b5aa 0.5px,#4ebc91 2.5px,#7bbf7c 4.5px,#a0be6d 6.5px,#c8bc5d 9.5px,#e5b950 12.5px,#f8ba44 15.5px,#fec13a 18.5px,#fdca31 25.5px,#fdcb30 87.5px,#fec238 95.5px,#fabb42 98.5px,#e8b94e 101.5px,#cdbb5b 104.5px,#a7be6a 107.5px,#84bf78 109.5px,#41ba98 112.5px,#1cb3b0 114.5px,#0eaeba 115.5px,#06a8c3 116.5px,#079bd0 118.5px,#1388d3 120.5px,#117ad9 122.5px,#0269e1 125.5px,#0462e1 126.5px,#115bdc 127.5px,#2152d3 128.5px,#2b4bc8 129.5px,#353eae 132.5px,#36349a 136.5px,#352d8c 142.5px,#352b88 153.5px,#352c8a 199.5px,#363298 206.5px,#353baa 210.5px,#2f47c0 213.5px,#284dca 214.5px,#1e54d5 215.5px,#0e5dde 216.5px,#0364e1 217.5px,#036ae1 218.5px,#127cd8 221.5px,#128bd3 223.5px,#079dcf 225.5px,#07aac1 227.5px,#11afb8 228.5px)"></i><i style="background:linear-gradient(90deg,#1eb3ae 0.5px,#42bb98 2.5px,#80bf7a 5.5px,#a1be6d 7.5px,#c4bc5e 10.5px,#ddba54 13.5px,#f1b949 17.5px,#fcbd3f 22.5px,#fec03a 35.5px,#febf3c 88.5px,#f6ba46 95.5px,#e6b950 99.5px,#c8bc5d 103.5px,#a7be6a 106.5px,#88bf76 108.5px,#4cbc92 111.5px,#26b5a9 113.5px,#0bacbd 115.5px,#06a7c5 116.5px,#089ad0 118.5px,#1388d3 120.5px,#117bd9 122.5px,#036ae1 125.5px,#0364e1 126.5px,#0d5dde 127.5px,#1d54d6 128.5px,#284dcb 129.5px,#3243b9 131.5px,#3637a0 135.5px,#362f90 140.5px,#352b89 148.5px,#352c8a 198.5px,#363296 205.5px,#363aa6 209.5px,#3144bb 212.5px,#254fce 214.5px,#0a5fdf 216.5px,#0265e1 217.5px,#0871de 219.5px,#127cd8 221.5px,#128ad3 223.5px,#079cd0 225.5px,#07a9c3 227.5px,#0daebb 228.5px)"></i><i style="background:linear-gradient(90deg,#19b2b2 0.5px,#38b99e 2.5px,#71bf80 5.5px,#9fbe6d 8.5px,#bebc61 11.5px,#d8ba56 15.5px,#eab94e 20.5px,#f2b949 28.5px,#f1b94a 88.5px,#e6b950 95.5px,#d6ba57 99.5px,#b9bd63 103.5px,#98bf70 106.5px,#79bf7d 108.5px,#2eb7a4 112.5px,#12afb7 114.5px,#09abbf 115.5px,#06a0cd 117.5px,#0f90d2 119.5px,#1388d3 120.5px,#127bd9 122.5px,#036be0 125.5px,#0265e1 126.5px,#0a5fdf 127.5px,#254fcf 129.5px,#3145bc 131.5px,#3637a2 135.5px,#362f91 140.5px,#352b89 148.5px,#352c8a 197.5px,#363194 204.5px,#353ba8 209.5px,#3046be 212.5px,#2b4bc7 213.5px,#2251d1 214.5px,#0760e0 216.5px,#0267e1 217.5px,#0972de 219.5px,#127dd8 221.5px,#138ad3 223.5px,#089bd0 225.5px,#06a7c5 227.5px,#0aacbd 228.5px)"></i><i style="background:linear-gradient(90deg,#13b0b6 0.5px,#3eba9a 3.5px,#72bf80 6.5px,#9abf6f 9.5px,#b5bd64 12.5px,#ccbb5b 16.5px,#daba55 21.5px,#e1b952 31.5px,#dfba53 88.5px,#d5bb58 95.5px,#c5bc5e 99.5px,#a8be69 103.5px,#87bf77 106.5px,#57bd8d 109.5px,#26b5a9 112.5px,#0eaeba 114.5px,#07a9c2 115.5px,#0998d1 118.5px,#1388d3 120.5px,#127cd8 122.5px,#046ce0 125.5px,#0267e1 126.5px,#0761e0 127.5px,#2152d2 129.5px,#2a4bc8 130.5px,#343eaf 133.5px,#36349b 137.5px,#352d8d 143.5px,#352b87 157.5px,#352c89 196.5px,#363093 203.5px,#3639a5 208.5px,#3243b9 211.5px,#284dca 213.5px,#1f53d5 214.5px,#105bdd 215.5px,#0462e1 216.5px,#0268e1 217.5px,#137dd8 221.5px,#138ad3 223.5px,#089ad1 225.5px,#06a6c7 227.5px,#08aac0 228.5px)"></i><i style="background:linear-gradient(90deg,#0dadbb 0.5px,#2fb7a3 3.5px,#69be84 7.5px,#8dbf75 10.5px,#a4be6b 13.5px,#b6bd64 17.5px,#c1bc60 23.5px,#c1bc60 90.5px,#b7bd64 96.5px,#a6be6a 100.5px,#91bf73 103.5px,#70bf81 106.5px,#28b6a8 111.5px,#11afb8 113.5px,#09abbf 114.5px,#06a2cb 116.5px,#0b95d1 118.5px,#1486d3 120.5px,#127bd9 122.5px,#0267e1 126.5px,#0562e0 127.5px,#105bdd 128.5px,#1f53d4 129.5px,#2e48c2 131.5px,#353cac 134.5px,#363296 139.5px,#352c8b 146.5px,#352a87 172.5px,#352c8a 196.5px,#363194 203.5px,#353aa8 208.5px,#3144bb 211.5px,#264fcd 213.5px,#0d5dde 215.5px,#0363e1 216.5px,#0269e1 217.5px,#127cd8 221.5px,#1388d3 223.5px,#079ecf 226.5px,#06a8c4 228.5px)"></i><i style="background:linear-gradient(90deg,#08abc0 0.5px,#18b1b3 2.5px,#5dbe89 8.5px,#7bbf7c 11.5px,#93bf72 15.5px,#9fbe6d 20.5px,#a1be6c 30.5px,#a1be6d 80.5px,#a1be6c 92.5px,#98bf70 97.5px,#85bf78 101.5px,#6dbf82 104.5px,#32b8a1 109.5px,#13b0b6 112.5px,#07a9c3 114.5px,#089ad0 117.5px,#1485d4 120.5px,#0e76dc 123.5px,#0268e1 126.5px,#0363e1 127.5px,#0e5cde 128.5px,#264fcd 130.5px,#3145bc 132.5px,#3639a4 136.5px,#363093 141.5px,#352c89 149.5px,#352b88 190.5px,#362f90 200.5px,#3637a1 206.5px,#3342b7 210.5px,#2c4ac7 212.5px,#1857d8 214.5px,#0364e1 216.5px,#056ee0 218.5px,#127cd8 221.5px,#1487d3 223.5px,#079bd0 226.5px,#06a6c7 228.5px)"></i><i style="background:linear-gradient(90deg,#06a8c4 0.5px,#0faeb9 2.5px,#4dbc92 9.5px,#6abe83 13.5px,#79bf7d 17.5px,#7fbf7a 23.5px,#77bf7e 48.5px,#7abf7c 81.5px,#7ebf7b 93.5px,#75bf7f 98.5px,#60be88 102.5px,#36b99f 107.5px,#0badbc 112.5px,#06a6c7 114.5px,#0a97d1 117.5px,#138ad3 119.5px,#137fd7 121.5px,#0269e1 126.5px,#0364e1 127.5px,#1857d8 129.5px,#2b4bc7 131.5px,#343fb1 134.5px,#36349a 139.5px,#352d8c 146.5px,#352a87 163.5px,#352c8a 194.5px,#363195 202.5px,#353aa8 207.5px,#2e48c1 211.5px,#2152d3 213.5px,#095fdf 215.5px,#0265e1 216.5px,#066edf 218.5px,#1480d6 222.5px,#128bd2 224.5px,#069ece 227.5px,#06a3cb 228.5px)"></i><i style="background:linear-gradient(90deg,#06a5c8 0.5px,#09abbf 2.5px,#3bb99c 10.5px,#51bc90 15.5px,#57bd8c 20.5px,#4bbc93 41.5px,#4cbc92 78.5px,#57bd8d 94.5px,#4fbc91 99.5px,#38b99e 104.5px,#0aacbd 111.5px,#06a3cb 114.5px,#0c94d2 117.5px,#1388d3 119.5px,#117ada 122.5px,#0269e1 126.5px,#0364e1 127.5px,#0a5fdf 128.5px,#2152d3 130.5px,#2e48c2 132.5px,#353ba9 136.5px,#363296 141.5px,#352c8b 149.5px,#352a87 178.5px,#352d8c 195.5px,#363297 202.5px,#353caa 207.5px,#2d49c4 211.5px,#1e54d5 213.5px,#0760e0 215.5px,#0266e1 216.5px,#066edf 218.5px,#137fd6 222.5px,#1389d3 224.5px,#06a0cd 228.5px)"></i><i style="background:linear-gradient(90deg,#06a1cc 0.5px,#0aacbd 4.5px,#28b6a7 11.5px,#33b8a1 16.5px,#31b8a2 23.5px,#25b5a9 39.5px,#26b5a9 78.5px,#34b8a0 96.5px,#2db7a5 101.5px,#15b0b4 107.5px,#06a8c3 111.5px,#079bd0 115.5px,#1486d4 119.5px,#1079da 122.5px,#0269e1 126.5px,#0265e1 127.5px,#0860e0 128.5px,#1e54d5 130.5px,#2c4ac5 132.5px,#353cab 136.5px,#363398 141.5px,#352c8b 149.5px,#352a87 172.5px,#352d8b 194.5px,#363296 201.5px,#353aa8 206.5px,#2f47bf 210.5px,#2450cf 212.5px,#0f5cde 214.5px,#0561e0 215.5px,#0266e1 216.5px,#0a72de 219.5px,#1483d5 223.5px,#0d92d2 226.5px,#079cd0 228.5px)"></i><i style="background:linear-gradient(90deg,#079cd0 0.5px,#08abc0 6.5px,#16b1b4 13.5px,#16b1b3 20.5px,#0aacbd 36.5px,#0cadbc 81.5px,#18b1b2 98.5px,#0eaeba 105.5px,#06a6c7 110.5px,#089ad0 114.5px,#1487d3 118.5px,#127bd9 121.5px,#0269e1 126.5px,#0265e1 127.5px,#115bdc 129.5px,#254fce 131.5px,#2f47c0 133.5px,#3639a5 138.5px,#363093 144.5px,#352b89 154.5px,#352b89 188.5px,#363092 198.5px,#3637a2 204.5px,#3144bb 209.5px,#2a4cc9 211.5px,#1a56d7 213.5px,#0661e0 215.5px,#036ae1 217.5px,#1480d6 223.5px,#118dd2 226.5px,#0a97d1 228.5px)"></i><i style="background:linear-gradient(90deg,#0b96d1 0.5px,#06a3ca 5.5px,#07aac1 13.5px,#06a0cd 40.5px,#06a3cb 83.5px,#08aac1 100.5px,#06a2cb 109.5px,#0997d1 113.5px,#1487d3 117.5px,#1079da 121.5px,#0268e1 126.5px,#0364e1 127.5px,#105bdd 129.5px,#2450d0 131.5px,#3144bb 134.5px,#3638a3 139.5px,#362f91 146.5px,#352b88 158.5px,#352c8a 189.5px,#363195 199.5px,#353ba8 205.5px,#3045bd 209.5px,#2251d2 212.5px,#0e5cde 214.5px,#0661e0 215.5px,#0269e1 217.5px,#137ed7 223.5px,#1388d3 226.5px,#0e91d2 228.5px)"></i><i style="background:linear-gradient(90deg,#108fd2 0.5px,#079cd0 5.5px,#06a1cc 13.5px,#0a97d1 26.5px,#108ed2 39.5px,#0f90d2 80.5px,#06a0cd 97.5px,#069fce 106.5px,#0c93d2 112.5px,#1483d5 117.5px,#0c74dd 122.5px,#0268e1 126.5px,#0364e1 127.5px,#105bdd 129.5px,#2251d1 131.5px,#3045bd 134.5px,#3637a2 140.5px,#362f91 147.5px,#352b88 159.5px,#352c8a 188.5px,#363195 198.5px,#353caa 205.5px,#2f46bf 209.5px,#2152d3 212.5px,#0e5dde 214.5px,#0265e1 216.5px,#066fdf 219.5px,#137ed7 224.5px,#128ad3 228.5px)"></i><i style="background:linear-gradient(90deg,#1388d3 0.5px,#0b95d2 8.5px,#0d93d2 16.5px,#1483d5 27.5px,#127cd8 41.5px,#137fd7 81.5px,#128bd2 92.5px,#0a96d1 102.5px,#0e91d2 109.5px,#1482d5 116.5px,#0a73dd 122.5px,#0267e1 126.5px,#0364e1 127.5px,#0f5cdd 129.5px,#2152d2 131.5px,#2f47bf 134.5px,#3639a4 140.5px,#363092 147.5px,#352b89 159.5px,#352c89 186.5px,#363093 196.5px,#3639a5 203.5px,#3144bb 208.5px,#264fcd 211.5px,#0d5dde 214.5px,#0265e1 216.5px,#056ee0 219.5px,#137ed7 225.5px,#1485d4 228.5px)"></i><i style="background:linear-gradient(90deg,#1482d5 0.5px,#138ad3 9.5px,#137fd7 20.5px,#0770df 34.5px,#076fdf 79.5px,#1480d6 94.5px,#138ad3 104.5px,#1484d4 112.5px,#0f78db 119.5px,#0269e1 125.5px,#0363e1 127.5px,#0f5cdd 129.5px,#264ecd 132.5px,#3145bc 135.5px,#3636a0 142.5px,#362f8f 150.5px,#352b88 164.5px,#352c8a 187.5px,#363296 197.5px,#353cab 204.5px,#2e48c3 209.5px,#1f53d5 212.5px,#0760e0 215.5px,#0267e1 217.5px,#137ed7 227.5px,#1480d6 228.5px)"></i><i style="background:linear-gradient(90deg,#137dd8 0.5px,#1482d5 9.5px,#0f77db 20.5px,#0268e1 32.5px,#0364e1 43.5px,#0266e1 79.5px,#066edf 87.5px,#137ed7 99.5px,#1481d5 108.5px,#0f78db 117.5px,#0267e1 125.5px,#0661e0 127.5px,#1b55d7 130.5px,#2c4ac6 133.5px,#353eaf 138.5px,#363297 146.5px,#352c8b 157.5px,#352b88 179.5px,#362f91 193.5px,#3638a2 201.5px,#3045bd 208.5px,#264fcd 211.5px,#0a5edf 215.5px,#0462e0 216.5px,#036ae1 219.5px,#117bd9 228.5px)"></i><i style="background:linear-gradient(90deg,#0f78db 0.5px,#117ad9 10.5px,#0770df 20.5px,#0266e1 26.5px,#0761e0 29.5px,#1d54d5 37.5px,#1757d9 60.5px,#1e54d5 76.5px,#0860df 84.5px,#0265e1 87.5px,#066fdf 93.5px,#117ad9 103.5px,#1078da 113.5px,#0267e1 124.5px,#0562e0 126.5px,#1758d9 129.5px,#2c4ac6 133.5px,#353dac 139.5px,#363297 147.5px,#352c8b 158.5px,#352b89 178.5px,#363091 192.5px,#3638a4 201.5px,#3046be 208.5px,#274ecc 211.5px,#0e5cde 215.5px,#0363e1 217.5px,#046ce0 221.5px,#0e76dc 228.5px)"></i><i style="background:linear-gradient(90deg,#0a73de 0.5px,#0b73dd 10.5px,#0267e1 20.5px,#0363e1 22.5px,#1558da 26.5px,#2350d0 29.5px,#2f47c0 34.5px,#3243ba 38.5px,#2e48c2 56.5px,#3145bc 72.5px,#3144bb 77.5px,#284dcb 83.5px,#1857d8 87.5px,#0562e0 91.5px,#0269e1 95.5px,#0c74dd 106.5px,#0870df 116.5px,#0266e1 123.5px,#0562e0 125.5px,#1459db 128.5px,#244fcf 131.5px,#3045bd 135.5px,#36369f 144.5px,#362e8f 154.5px,#352b88 171.5px,#362e8e 188.5px,#36359e 198.5px,#3244ba 207.5px,#284dcb 211.5px,#125adc 215.5px,#0363e1 218.5px,#046ce0 223.5px,#0972de 228.5px)"></i><i style="background:linear-gradient(90deg,#046de0 0.5px,#036ae1 11.5px,#0363e1 16.5px,#135adb 20.5px,#274dcb 24.5px,#3342b6 29.5px,#3637a1 36.5px,#3636a0 40.5px,#353ba9 53.5px,#3639a5 68.5px,#36369f 76.5px,#343fb1 83.5px,#2c49c5 88.5px,#1b55d6 92.5px,#0b5edf 95.5px,#0363e1 97.5px,#046de0 106.5px,#036be1 117.5px,#0363e1 123.5px,#135adb 127.5px,#294cc9 132.5px,#3440b3 138.5px,#363399 148.5px,#352d8c 160.5px,#352b89 177.5px,#363093 191.5px,#363aa7 201.5px,#2e48c2 209.5px,#1c55d6 214.5px,#095fdf 218.5px,#0265e1 221.5px,#046ce0 228.5px)"></i><i style="background:linear-gradient(90deg,#0267e1 0.5px,#0363e1 10.5px,#125adc 15.5px,#294cc9 20.5px,#353eaf 26.5px,#362f90 35.5px,#352c8b 39.5px,#363195 51.5px,#363093 67.5px,#352c8b 76.5px,#36359d 83.5px,#3244ba 90.5px,#2350d0 95.5px,#0c5dde 100.5px,#0364e1 104.5px,#0267e1 114.5px,#0462e0 121.5px,#1459db 126.5px,#2b4bc8 132.5px,#343fb0 139.5px,#363399 149.5px,#352c8b 162.5px,#352c8a 178.5px,#363296 192.5px,#353dae 203.5px,#2c49c5 210.5px,#1757d9 216.5px,#0661e0 221.5px,#0266e1 226.5px,#0267e1 228.5px)"></i><i style="background:linear-gradient(90deg,#0363e1 0.5px,#0561e0 7.5px,#1359db 13.5px,#2a4cc9 19.5px,#343fb2 25.5px,#363092 35.5px,#362e8e 39.5px,#363194 55.5px,#362f90 72.5px,#362f90 77.5px,#353ba9 86.5px,#2d49c3 93.5px,#1558da 100.5px,#0661e0 106.5px,#0363e1 114.5px,#0c5ede 121.5px,#2251d1 128.5px,#3144bb 135.5px,#36359d 147.5px,#362e8d 160.5px,#352c8a 175.5px,#363194 190.5px,#353cab 202.5px,#2c4ac5 211.5px,#1359db 219.5px,#0562e0 226.5px,#0363e1 228.5px)"></i><i style="background:linear-gradient(90deg,#0b5edf 0.5px,#105bdd 8.5px,#2350d0 15.5px,#3244ba 22.5px,#363297 34.5px,#362f91 39.5px,#363093 77.5px,#353eaf 88.5px,#2a4cc9 96.5px,#1658d9 103.5px,#0c5ede 109.5px,#0e5dde 117.5px,#2251d1 126.5px,#3145bc 134.5px,#36369e 147.5px,#362e8e 161.5px,#352c8a 175.5px,#363297 191.5px,#343eb0 204.5px,#2b4bc8 213.5px,#1758d9 221.5px,#0c5dde 227.5px,#0c5ede 228.5px)"></i><i style="background:linear-gradient(90deg,#1758d9 0.5px,#1b55d6 7.5px,#2c4ac7 16.5px,#353baa 27.5px,#363194 38.5px,#362f90 62.5px,#363296 77.5px,#3440b3 90.5px,#264ecc 100.5px,#1956d8 108.5px,#1757d9 115.5px,#2450cf 124.5px,#3242b8 135.5px,#363399 151.5px,#352c8b 167.5px,#362e8d 180.5px,#36369e 195.5px,#3045bd 210.5px,#1f53d5 222.5px,#1757d9 228.5px)"></i><i style="background:linear-gradient(90deg,#2351d1 0.5px,#294cca 10.5px,#353dae 25.5px,#363296 39.5px,#352d8d 58.5px,#363399 77.5px,#3144bb 95.5px,#254fce 107.5px,#2450d0 117.5px,#2e47c1 129.5px,#3637a2 146.5px,#362e8e 163.5px,#352d8b 175.5px,#36349b 192.5px,#3244ba 210.5px,#254fcf 224.5px,#2351d1 228.5px)"></i><i style="background:linear-gradient(90deg,#2a4bc8 0.5px,#2f47c0 12.5px,#36369f 34.5px,#362d8d 52.5px,#362e8e 63.5px,#3638a2 82.5px,#2d49c4 105.5px,#2b4bc8 117.5px,#3144bb 130.5px,#363398 154.5px,#352d8c 170.5px,#363093 184.5px,#343eaf 205.5px,#2c4ac6 222.5px,#2a4bc8 228.5px)"></i><i style="background:linear-gradient(90deg,#2d48c3 0.5px,#3144bb 13.5px,#363297 42.5px,#362e8f 58.5px,#36349b 76.5px,#3145bd 102.5px,#2d48c3 115.5px,#3243b9 129.5px,#363296 158.5px,#362e8f 173.5px,#36349c 191.5px,#3046be 218.5px,#2d48c3 228.5px)"></i><i style="background:linear-gradient(90deg,#3046be 0.5px,#3341b5 15.5px,#363296 45.5px,#363092 60.5px,#3637a1 81.5px,#3145bc 107.5px,#3145bc 121.5px,#363298 158.5px,#363092 174.5px,#3636a0 194.5px,#3144bc 221.5px,#3046be 228.5px)"></i><i style="background:linear-gradient(90deg,#3243b9 0.5px,#343eaf 18.5px,#363297 47.5px,#363296 63.5px,#363aa7 87.5px,#3243b8 109.5px,#3341b5 125.5px,#363297 162.5px,#363296 178.5px,#353ba9 203.5px,#3243b8 224.5px,#3243b9 228.5px)"></i><i style="background:linear-gradient(90deg,#3340b4 0.5px,#353caa 21.5px,#363399 50.5px,#36349b 69.5px,#3440b3 109.5px,#343eaf 128.5px,#363399 165.5px,#36349b 184.5px,#3440b3 224.5px,#3340b4 228.5px)"></i><i style="background:linear-gradient(90deg,#353eaf 0.5px,#3639a5 26.5px,#363398 54.5px,#36369f 77.5px,#353eaf 110.5px,#353ba9 133.5px,#363399 167.5px,#36359d 189.5px,#353eae 224.5px,#353eaf 228.5px)"></i><i style="background:linear-gradient(90deg,#353cab 0.5px,#3637a1 27.5px,#363195 57.5px,#3639a4 92.5px,#353caa 117.5px,#36359e 148.5px,#363195 173.5px,#353caa 226.5px,#353cab 228.5px)"></i><i style="background:linear-gradient(90deg,#363aa6 0.5px,#36359d 29.5px,#362f91 58.5px,#363aa6 110.5px,#3637a1 136.5px,#362f91 172.5px,#363aa6 225.5px,#363aa6 228.5px)"></i><i style="background:linear-gradient(90deg,#3638a2 0.5px,#363398 32.5px,#362e8e 59.5px,#3637a2 108.5px,#36359d 136.5px,#362e8e 173.5px,#3637a2 223.5px,#3638a2 228.5px)"></i><i style="background:linear-gradient(90deg,#36359e 0.5px,#363195 33.5px,#352c8b 59.5px,#36359d 105.5px,#36349a 135.5px,#352c8b 173.5px,#36359d 220.5px,#36359e 228.5px)"></i><i style="background:linear-gradient(90deg,#36359c 0.5px,#363093 36.5px,#352c8b 59.5px,#36349b 104.5px,#363398 138.5px,#352c8b 174.5px,#36349b 219.5px,#36359c 228.5px)"></i><i style="background:linear-gradient(90deg,#36359d 0.5px,#363194 43.5px,#362f90 61.5px,#36359d 108.5px,#363297 148.5px,#362f90 175.5px,#36359d 223.5px,#36359d 228.5px)"></i><i style="background:linear-gradient(90deg,#36369e 0.5px,#363195 62.5px,#36369e 115.5px,#363195 177.5px,#36369e 228.5px)"></i><i style="background:linear-gradient(90deg,#36369f 0.5px,#36349b 66.5px,#36369f 130.5px,#36349b 180.5px,#36369f 228.5px)"></i><i style="background:linear-gradient(90deg,#3637a0 0.5px,#3637a0 228.5px)"></i><i style="background:linear-gradient(90deg,#36369e 0.5px,#36369e 228.5px)"></i><i style="background:linear-gradient(90deg,#363399 0.5px,#363399 228.5px)"></i><i style="background:linear-gradient(90deg,#363093 0.5px,#363093 228.5px)"></i><i style="background:linear-gradient(90deg,#362e8e 0.5px,#362e8e 228.5px)"></i><i style="background:linear-gradient(90deg,#352b89 0.5px,#352b89 228.5px)"></i></div>
<svg width="550" height="460" viewBox="0 0 550 460">
<path d="M125.87 5.9V185.0M162.44 5.9V185.0M199.01 5.9V185.0M235.58 5.9V185.0M272.15 5.9V185.0M308.72 5.9V185.0M345.29 5.9V185.0M381.86 5.9V185.0M418.43 5.9V185.0M89.3 35.75H455.0M89.3 65.60H455.0M89.3 95.45H455.0M89.3 125.30H455.0M89.3 155.15H455.0" stroke="#e8e8e8" stroke-width="1" fill="none"/>
<path d="M125.87 5.9v3.5M125.87 185.0v-3.5M162.44 5.9v3.5M162.44 185.0v-3.5M199.01 5.9v3.5M199.01 185.0v-3.5M235.58 5.9v3.5M235.58 185.0v-3.5M272.15 5.9v3.5M272.15 185.0v-3.5M308.72 5.9v3.5M308.72 185.0v-3.5M345.29 5.9v3.5M345.29 185.0v-3.5M381.86 5.9v3.5M381.86 185.0v-3.5M418.43 5.9v3.5M418.43 185.0v-3.5M89.3 35.75h3.5M455.0 35.75h-3.5M89.3 65.60h3.5M455.0 65.60h-3.5M89.3 95.45h3.5M455.0 95.45h-3.5M89.3 125.30h3.5M455.0 125.30h-3.5M89.3 155.15h3.5M455.0 155.15h-3.5" stroke="#555" stroke-width="1" fill="none"/>
<polyline points="89.30,153.45 89.76,153.40 90.21,153.36 90.67,153.31 91.13,153.26 91.59,153.21 92.04,153.15 92.50,153.10 92.96,153.05 93.41,152.99 93.87,152.93 94.33,152.87 94.79,152.81 95.24,152.75 95.70,152.69 96.16,152.62 96.61,152.56 97.07,152.49 97.53,152.42 97.99,152.35 98.44,152.28 98.90,152.21 99.36,152.13 99.81,152.06 100.27,151.98 100.73,151.90 101.19,151.82 101.64,151.74 102.10,151.65 102.56,151.57 103.01,151.48 103.47,151.39 103.93,151.30 104.39,151.21 104.84,151.11 105.30,151.02 105.76,150.92 106.21,150.82 106.67,150.72 107.13,150.61 107.58,150.51 108.04,150.40 108.50,150.29 108.96,150.18 109.41,150.07 109.87,149.95 110.33,149.84 110.78,149.72 111.24,149.60 111.70,149.47 112.16,149.35 112.61,149.22 113.07,149.10 113.53,148.97 113.98,148.83 114.44,148.70 114.90,148.56 115.36,148.43 115.81,148.29 116.27,148.14 116.73,148.00 117.18,147.85 117.64,147.71 118.10,147.56 118.56,147.40 119.01,147.25 119.47,147.09 119.93,146.94 120.38,146.78 120.84,146.62 121.30,146.45 121.76,146.29 122.21,146.12 122.67,145.95 123.13,145.78 123.58,145.61 124.04,145.43 124.50,145.26 124.96,145.08 125.41,144.90 125.87,144.72 126.33,144.54 126.78,144.35 127.24,144.16 127.70,143.98 128.16,143.79 128.61,143.59 129.07,143.40 129.53,143.21 129.98,143.01 130.44,142.81 130.90,142.62 131.36,142.42 131.81,142.21 132.27,142.01 132.73,141.81 133.18,141.60 133.64,141.39 134.10,141.19 134.56,140.98 135.01,140.77 135.47,140.56 135.93,140.35 136.38,140.13 136.84,139.92 137.30,139.70 137.76,139.49 138.21,139.27 138.67,139.06 139.13,138.84 139.58,138.62 140.04,138.40 140.50,138.19 140.96,137.97 141.41,137.75 141.87,137.53 142.33,137.31 142.78,137.09 143.24,136.87 143.70,136.65 144.16,136.43 144.61,136.21 145.07,135.99 145.53,135.77 145.98,135.55 146.44,135.34 146.90,135.12 147.35,134.90 147.81,134.68 148.27,134.47 148.73,134.25 149.18,134.04 149.64,133.83 150.10,133.61 150.55,133.40 151.01,133.19 151.47,132.98 151.93,132.78 152.38,132.57 152.84,132.36 153.30,132.16 153.75,131.96 154.21,131.76 154.67,131.56 155.13,131.36 155.58,131.17 156.04,130.98 156.50,130.79 156.95,130.60 157.41,130.41 157.87,130.23 158.33,130.05 158.78,129.87 159.24,129.69 159.70,129.51 160.15,129.34 160.61,129.17 161.07,129.01 161.53,128.84 161.98,128.68 162.44,128.52 162.90,128.37 163.35,128.22 163.81,128.07 164.27,127.92 164.73,127.78 165.18,127.64 165.64,127.50 166.10,127.37 166.55,127.24 167.01,127.12 167.47,127.00 167.93,126.88 168.38,126.76 168.84,126.65 169.30,126.55 169.75,126.44 170.21,126.34 170.67,126.25 171.13,126.16 171.58,126.07 172.04,125.98 172.50,125.91 172.95,125.83 173.41,125.76 173.87,125.69 174.33,125.63 174.78,125.57 175.24,125.52 175.70,125.47 176.15,125.42 176.61,125.38 177.07,125.34 177.53,125.31 177.98,125.28 178.44,125.26 178.90,125.24 179.35,125.22 179.81,125.21 180.27,125.20 180.72,125.20 181.18,125.20 181.64,125.21 182.10,125.22 182.55,125.24 183.01,125.26 183.47,125.28 183.92,125.31 184.38,125.34 184.84,125.38 185.30,125.42 185.75,125.47 186.21,125.52 186.67,125.57 187.12,125.63 187.58,125.69 188.04,125.76 188.50,125.83 188.95,125.91 189.41,125.98 189.87,126.07 190.32,126.16 190.78,126.25 191.24,126.34 191.70,126.44 192.15,126.55 192.61,126.65 193.07,126.76 193.52,126.88 193.98,127.00 194.44,127.12 194.90,127.24 195.35,127.37 195.81,127.50 196.27,127.64 196.72,127.78 197.18,127.92 197.64,128.07 198.10,128.22 198.55,128.37 199.01,128.52 199.47,128.68 199.92,128.84 200.38,129.01 200.84,129.17 201.30,129.34 201.75,129.51 202.21,129.69 202.67,129.87 203.12,130.05 203.58,130.23 204.04,130.41 204.50,130.60 204.95,130.79 205.41,130.98 205.87,131.17 206.32,131.36 206.78,131.56 207.24,131.76 207.70,131.96 208.15,132.16 208.61,132.36 209.07,132.57 209.52,132.78 209.98,132.98 210.44,133.19 210.90,133.40 211.35,133.61 211.81,133.83 212.27,134.04 212.72,134.25 213.18,134.47 213.64,134.68 214.10,134.90 214.55,135.12 215.01,135.34 215.47,135.55 215.92,135.77 216.38,135.99 216.84,136.21 217.30,136.43 217.75,136.65 218.21,136.87 218.67,137.09 219.12,137.31 219.58,137.53 220.04,137.75 220.49,137.97 220.95,138.19 221.41,138.40 221.87,138.62 222.32,138.84 222.78,139.06 223.24,139.27 223.69,139.49 224.15,139.70 224.61,139.92 225.07,140.13 225.52,140.35 225.98,140.56 226.44,140.77 226.89,140.98 227.35,141.19 227.81,141.39 228.27,141.60 228.72,141.81 229.18,142.01 229.64,142.21 230.09,142.42 230.55,142.62 231.01,142.81 231.47,143.01 231.92,143.21 232.38,143.40 232.84,143.59 233.29,143.79 233.75,143.98 234.21,144.16 234.67,144.35 235.12,144.54 235.58,144.72 236.04,144.90 236.49,145.08 236.95,145.26 237.41,145.43 237.87,145.61 238.32,145.78 238.78,145.95 239.24,146.12 239.69,146.29 240.15,146.45 240.61,146.62 241.07,146.78 241.52,146.94 241.98,147.09 242.44,147.25 242.89,147.40 243.35,147.56 243.81,147.71 244.27,147.85 244.72,148.00 245.18,148.14 245.64,148.29 246.09,148.43 246.55,148.56 247.01,148.70 247.47,148.83 247.92,148.97 248.38,149.10 248.84,149.22 249.29,149.35 249.75,149.47 250.21,149.60 250.67,149.72 251.12,149.84 251.58,149.95 252.04,150.07 252.49,150.18 252.95,150.29 253.41,150.40 253.86,150.51 254.32,150.61 254.78,150.72 255.24,150.82 255.69,150.92 256.15,151.02 256.61,151.11 257.06,151.21 257.52,151.30 257.98,151.39 258.44,151.48 258.89,151.57 259.35,151.65 259.81,151.74 260.26,151.82 260.72,151.90 261.18,151.98 261.64,152.06 262.09,152.13 262.55,152.21 263.01,152.28 263.46,152.35 263.92,152.42 264.38,152.49 264.84,152.56 265.29,152.62 265.75,152.69 266.21,152.75 266.66,152.81 267.12,152.87 267.58,152.93 268.04,152.99 268.49,153.05 268.95,153.10 269.41,153.15 269.86,153.21 270.32,153.26 270.78,153.31 271.24,153.36 271.69,153.40 272.15,153.45 272.61,153.50 273.06,153.54 273.52,153.58 273.98,153.62 274.44,153.67 274.89,153.71 275.35,153.74 275.81,153.78 276.26,153.82 276.72,153.86 277.18,153.89 277.64,153.92 278.09,153.96 278.55,153.99 279.01,154.02 279.46,154.05 279.92,154.08 280.38,154.11 280.84,154.14 281.29,154.17 281.75,154.19 282.21,154.22 282.66,154.24 283.12,154.27 283.58,154.29 284.04,154.32 284.49,154.34 284.95,154.36 285.41,154.38 285.86,154.40 286.32,154.42 286.78,154.44 287.24,154.46 287.69,154.48 288.15,154.50 288.61,154.51 289.06,154.53 289.52,154.55 289.98,154.56 290.43,154.58 290.89,154.59 291.35,154.61 291.81,154.62 292.26,154.63 292.72,154.65 293.18,154.66 293.63,154.67 294.09,154.68 294.55,154.70 295.01,154.71 295.46,154.72 295.92,154.73 296.38,154.74 296.83,154.75 297.29,154.76 297.75,154.77 298.21,154.77 298.66,154.78 299.12,154.79 299.58,154.80 300.03,154.81 300.49,154.81 300.95,154.82 301.41,154.83 301.86,154.83 302.32,154.84 302.78,154.85 303.23,154.85 303.69,154.86 304.15,154.86 304.61,154.87 305.06,154.87 305.52,154.88 305.98,154.88 306.43,154.89 306.89,154.89 307.35,154.90 307.81,154.90 308.26,154.91 308.72,154.91 309.18,154.91 309.63,154.92 310.09,154.92 310.55,154.92 311.01,154.93 311.46,154.93 311.92,154.93 312.38,154.94 312.83,154.94 313.29,154.94 313.75,154.94 314.21,154.95 314.66,154.95 315.12,154.95 315.58,154.95 316.03,154.95 316.49,154.96 316.95,154.96 317.41,154.96 317.86,154.96 318.32,154.96 318.78,154.96 319.23,154.97 319.69,154.97 320.15,154.97 320.61,154.97 321.06,154.97 321.52,154.97 321.98,154.97 322.43,154.98 322.89,154.98 323.35,154.98 323.81,154.98 324.26,154.98 324.72,154.98 325.18,154.98 325.63,154.98 326.09,154.98 326.55,154.98 327.00,154.98 327.46,154.99 327.92,154.99 328.38,154.99 328.83,154.99 329.29,154.99 329.75,154.99 330.20,154.99 330.66,154.99 331.12,154.99 331.58,154.99 332.03,154.99 332.49,154.99 332.95,154.99 333.40,154.99 333.86,154.99 334.32,154.99 334.78,154.99 335.23,154.99 335.69,154.99 336.15,154.99 336.60,154.99 337.06,154.99 337.52,155.00 337.98,155.00 338.43,155.00 338.89,155.00 339.35,155.00 339.80,155.00 340.26,155.00 340.72,155.00 341.18,155.00 341.63,155.00 342.09,155.00 342.55,155.00 343.00,155.00 343.46,155.00 343.92,155.00 344.38,155.00 344.83,155.00 345.29,155.00 345.75,155.00 346.20,155.00 346.66,155.00 347.12,155.00 347.58,155.00 348.03,155.00 348.49,155.00 348.95,155.00 349.40,155.00 349.86,155.00 350.32,155.00 350.78,155.00 351.23,155.00 351.69,155.00 352.15,155.00 352.60,155.00 353.06,155.00 353.52,155.00 353.98,155.00 354.43,155.00 354.89,155.00 355.35,155.00 355.80,155.00 356.26,155.00 356.72,155.00 357.18,155.00 357.63,155.00 358.09,155.00 358.55,155.00 359.00,155.00 359.46,155.00 359.92,155.00 360.38,155.00 360.83,155.00 361.29,155.00 361.75,155.00 362.20,155.00 362.66,155.00 363.12,155.00 363.57,155.00 364.03,155.00 364.49,155.00 364.95,155.00 365.40,155.00 365.86,155.00 366.32,155.00 366.77,155.00 367.23,155.00 367.69,155.00 368.15,155.00 368.60,155.00 369.06,155.00 369.52,155.00 369.97,155.00 370.43,155.00 370.89,155.00 371.35,155.00 371.80,155.00 372.26,155.00 372.72,155.00 373.17,155.00 373.63,155.00 374.09,155.00 374.55,155.00 375.00,155.00 375.46,155.00 375.92,155.00 376.37,155.00 376.83,155.00 377.29,155.00 377.75,155.00 378.20,155.00 378.66,155.00 379.12,155.00 379.57,155.00 380.03,155.00 380.49,155.00 380.95,155.00 381.40,155.00 381.86,155.00 382.32,155.00 382.77,155.00 383.23,155.00 383.69,155.00 384.15,155.00 384.60,155.00 385.06,155.00 385.52,155.00 385.97,155.00 386.43,155.00 386.89,155.00 387.35,155.00 387.80,155.00 388.26,155.00 388.72,155.00 389.17,155.00 389.63,155.00 390.09,155.00 390.55,155.00 391.00,155.00 391.46,155.00 391.92,155.00 392.37,155.00 392.83,155.00 393.29,155.00 393.75,155.00 394.20,155.00 394.66,155.00 395.12,155.00 395.57,155.00 396.03,155.00 396.49,155.00 396.95,155.00 397.40,155.00 397.86,155.00 398.32,155.00 398.77,155.00 399.23,155.00 399.69,155.00 400.14,155.00 400.60,155.00 401.06,155.00 401.52,155.00 401.97,155.00 402.43,155.00 402.89,155.00 403.34,155.00 403.80,155.00 404.26,155.00 404.72,155.00 405.17,155.00 405.63,155.00 406.09,155.00 406.54,155.00 407.00,155.00 407.46,155.00 407.92,155.00 408.37,155.00 408.83,155.00 409.29,155.00 409.74,155.00 410.20,155.00 410.66,155.00 411.12,155.00 411.57,155.00 412.03,155.00 412.49,155.00 412.94,155.00 413.40,155.00 413.86,155.00 414.32,155.00 414.77,155.00 415.23,155.00 415.69,155.00 416.14,155.00 416.60,155.00 417.06,155.00 417.52,155.00 417.97,155.00 418.43,155.00 418.89,155.00 419.34,155.00 419.80,155.00 420.26,155.00 420.72,155.00 421.17,155.00 421.63,155.00 422.09,155.00 422.54,155.00 423.00,155.00 423.46,155.00 423.92,155.00 424.37,155.00 424.83,155.00 425.29,155.00 425.74,155.00 426.20,155.00 426.66,155.00 427.12,155.00 427.57,155.00 428.03,155.00 428.49,155.00 428.94,155.00 429.40,155.00 429.86,155.00 430.32,155.00 430.77,155.00 431.23,155.00 431.69,155.00 432.14,155.00 432.60,155.00 433.06,155.00 433.52,155.00 433.97,155.00 434.43,155.00 434.89,155.00 435.34,155.00 435.80,155.00 436.26,155.00 436.71,155.00 437.17,155.00 437.63,155.00 438.09,155.00 438.54,155.00 439.00,155.00 439.46,155.00 439.91,155.00 440.37,155.00 440.83,155.00 441.29,155.00 441.74,155.00 442.20,155.00 442.66,155.00 443.11,155.00 443.57,155.00 444.03,155.00 444.49,155.00 444.94,155.00 445.40,155.00 445.86,155.00 446.31,155.00 446.77,155.00 447.23,155.00 447.69,155.00 448.14,155.00 448.60,155.00 449.06,155.00 449.51,155.00 449.97,155.00 450.43,155.00 450.89,155.00 451.34,155.00 451.80,155.00 452.26,155.00 452.71,155.00 453.17,155.00 453.63,155.00 454.09,155.00 454.54,155.00 455.00,155.00" stroke="#3a3a3a" stroke-width="1.2" fill="none" stroke-dasharray="6 4"/>
<polyline points="89.30,155.00 89.76,155.00 90.21,155.00 90.67,155.00 91.13,155.00 91.59,155.00 92.04,155.00 92.50,155.00 92.96,155.00 93.41,155.00 93.87,155.00 94.33,155.00 94.79,155.00 95.24,155.00 95.70,155.00 96.16,155.00 96.61,155.00 97.07,155.00 97.53,155.00 97.99,155.00 98.44,155.00 98.90,155.00 99.36,155.00 99.81,155.00 100.27,155.00 100.73,155.00 101.19,155.00 101.64,155.00 102.10,155.00 102.56,155.00 103.01,155.00 103.47,155.00 103.93,155.00 104.39,155.00 104.84,155.00 105.30,155.00 105.76,155.00 106.21,155.00 106.67,155.00 107.13,155.00 107.58,155.00 108.04,155.00 108.50,155.00 108.96,155.00 109.41,155.00 109.87,155.00 110.33,155.00 110.78,155.00 111.24,155.00 111.70,155.00 112.16,155.00 112.61,155.00 113.07,155.00 113.53,155.00 113.98,155.00 114.44,155.00 114.90,155.00 115.36,155.00 115.81,155.00 116.27,155.00 116.73,155.00 117.18,155.00 117.64,155.00 118.10,155.00 118.56,155.00 119.01,155.00 119.47,155.00 119.93,155.00 120.38,155.00 120.84,155.00 121.30,155.00 121.76,155.00 122.21,155.00 122.67,155.00 123.13,155.00 123.58,155.00 124.04,155.00 124.50,155.00 124.96,155.00 125.41,155.00 125.87,155.00 126.33,155.00 126.78,155.00 127.24,155.00 127.70,155.00 128.16,155.00 128.61,155.00 129.07,155.00 129.53,155.00 129.98,155.00 130.44,155.00 130.90,155.00 131.36,155.00 131.81,155.00 132.27,155.00 132.73,155.00 133.18,155.00 133.64,155.00 134.10,155.00 134.56,155.00 135.01,155.00 135.47,155.00 135.93,155.00 136.38,155.00 136.84,155.00 137.30,155.00 137.76,155.00 138.21,155.00 138.67,155.00 139.13,155.00 139.58,155.00 140.04,155.00 140.50,155.00 140.96,155.00 141.41,155.00 141.87,155.00 142.33,155.00 142.78,155.00 143.24,155.00 143.70,155.00 144.16,155.00 144.61,155.00 145.07,155.00 145.53,155.00 145.98,155.00 146.44,155.00 146.90,155.00 147.35,155.00 147.81,155.00 148.27,154.99 148.73,154.99 149.18,154.99 149.64,154.99 150.10,154.98 150.55,154.98 151.01,154.97 151.47,154.96 151.93,154.95 152.38,154.94 152.84,154.92 153.30,154.89 153.75,154.87 154.21,154.83 154.67,154.79 155.13,154.73 155.58,154.66 156.04,154.58 156.50,154.48 156.95,154.36 157.41,154.21 157.87,154.03 158.33,153.82 158.78,153.57 159.24,153.26 159.70,152.91 160.15,152.48 160.61,151.99 161.07,151.41 161.53,150.74 161.98,149.97 162.44,149.07 162.90,148.05 163.35,146.89 163.81,145.56 164.27,144.07 164.73,142.38 165.18,140.50 165.64,138.40 166.10,136.08 166.55,133.52 167.01,130.71 167.47,127.64 167.93,124.31 168.38,120.72 168.84,116.85 169.30,112.72 169.75,108.33 170.21,103.70 170.67,98.83 171.13,93.74 171.58,88.46 172.04,83.02 172.50,77.45 172.95,71.78 173.41,66.06 173.87,60.32 174.33,54.62 174.78,49.01 175.24,43.53 175.70,38.25 176.15,33.20 176.61,28.44 177.07,24.03 177.53,20.01 177.98,16.43 178.44,13.32 178.90,10.73 179.35,8.68 179.81,7.20 180.27,6.30 180.72,6.00 181.18,6.30 181.64,7.20 182.10,8.68 182.55,10.73 183.01,13.32 183.47,16.43 183.92,20.01 184.38,24.03 184.84,28.44 185.30,33.20 185.75,38.25 186.21,43.53 186.67,49.01 187.12,54.62 187.58,60.32 188.04,66.06 188.50,71.78 188.95,77.45 189.41,83.02 189.87,88.46 190.32,93.74 190.78,98.83 191.24,103.70 191.70,108.33 192.15,112.72 192.61,116.85 193.07,120.72 193.52,124.31 193.98,127.64 194.44,130.71 194.90,133.52 195.35,136.08 195.81,138.40 196.27,140.50 196.72,142.38 197.18,144.07 197.64,145.56 198.10,146.89 198.55,148.05 199.01,149.07 199.47,149.97 199.92,150.74 200.38,151.41 200.84,151.99 201.30,152.48 201.75,152.91 202.21,153.26 202.67,153.57 203.12,153.82 203.58,154.03 204.04,154.21 204.50,154.36 204.95,154.48 205.41,154.58 205.87,154.66 206.32,154.73 206.78,154.79 207.24,154.83 207.70,154.87 208.15,154.89 208.61,154.92 209.07,154.94 209.52,154.95 209.98,154.96 210.44,154.97 210.90,154.98 211.35,154.98 211.81,154.99 212.27,154.99 212.72,154.99 213.18,154.99 213.64,155.00 214.10,155.00 214.55,155.00 215.01,155.00 215.47,155.00 215.92,155.00 216.38,155.00 216.84,155.00 217.30,155.00 217.75,155.00 218.21,155.00 218.67,155.00 219.12,155.00 219.58,155.00 220.04,155.00 220.49,155.00 220.95,155.00 221.41,155.00 221.87,155.00 222.32,155.00 222.78,155.00 223.24,155.00 223.69,155.00 224.15,155.00 224.61,155.00 225.07,155.00 225.52,155.00 225.98,155.00 226.44,155.00 226.89,155.00 227.35,155.00 227.81,155.00 228.27,155.00 228.72,155.00 229.18,155.00 229.64,155.00 230.09,155.00 230.55,155.00 231.01,155.00 231.47,155.00 231.92,155.00 232.38,155.00 232.84,155.00 233.29,155.00 233.75,155.00 234.21,155.00 234.67,155.00 235.12,155.00 235.58,155.00 236.04,155.00 236.49,155.00 236.95,155.00 237.41,155.00 237.87,155.00 238.32,155.00 238.78,155.00 239.24,155.00 239.69,155.00 240.15,155.00 240.61,155.00 241.07,155.00 241.52,155.00 241.98,155.00 242.44,155.00 242.89,155.00 243.35,155.00 243.81,155.00 244.27,155.00 244.72,155.00 245.18,155.00 245.64,155.00 246.09,155.00 246.55,155.00 247.01,155.00 247.47,155.00 247.92,155.00 248.38,155.00 248.84,155.00 249.29,155.00 249.75,155.00 250.21,155.00 250.67,155.00 251.12,155.00 251.58,155.00 252.04,155.00 252.49,155.00 252.95,155.00 253.41,155.00 253.86,155.00 254.32,155.00 254.78,155.00 255.24,155.00 255.69,155.00 256.15,155.00 256.61,155.00 257.06,155.00 257.52,155.00 257.98,155.00 258.44,155.00 258.89,155.00 259.35,155.00 259.81,155.00 260.26,155.00 260.72,155.00 261.18,155.00 261.64,155.00 262.09,155.00 262.55,155.00 263.01,155.00 263.46,155.00 263.92,155.00 264.38,155.00 264.84,155.00 265.29,155.00 265.75,155.00 266.21,155.00 266.66,155.00 267.12,155.00 267.58,155.00 268.04,155.00 268.49,155.00 268.95,155.00 269.41,155.00 269.86,155.00 270.32,155.00 270.78,155.00 271.24,155.00 271.69,155.00 272.15,155.00 272.61,155.00 273.06,155.00 273.52,155.00 273.98,155.00 274.44,155.00 274.89,155.00 275.35,155.00 275.81,155.00 276.26,155.00 276.72,155.00 277.18,155.00 277.64,155.00 278.09,155.00 278.55,155.00 279.01,155.00 279.46,155.00 279.92,155.00 280.38,155.00 280.84,155.00 281.29,155.00 281.75,155.00 282.21,155.00 282.66,155.00 283.12,155.00 283.58,155.00 284.04,155.00 284.49,155.00 284.95,155.00 285.41,155.00 285.86,155.00 286.32,155.00 286.78,155.00 287.24,155.00 287.69,155.00 288.15,155.00 288.61,155.00 289.06,155.00 289.52,155.00 289.98,155.00 290.43,155.00 290.89,155.00 291.35,155.00 291.81,155.00 292.26,155.00 292.72,155.00 293.18,155.00 293.63,155.00 294.09,155.00 294.55,155.00 295.01,155.00 295.46,155.00 295.92,155.00 296.38,155.00 296.83,155.00 297.29,155.00 297.75,155.00 298.21,155.00 298.66,155.00 299.12,155.00 299.58,155.00 300.03,155.00 300.49,155.00 300.95,155.00 301.41,155.00 301.86,155.00 302.32,155.00 302.78,155.00 303.23,155.00 303.69,155.00 304.15,155.00 304.61,155.00 305.06,155.00 305.52,155.00 305.98,155.00 306.43,155.00 306.89,155.00 307.35,155.00 307.81,155.00 308.26,155.00 308.72,155.00 309.18,155.00 309.63,155.00 310.09,155.00 310.55,155.00 311.01,155.00 311.46,155.00 311.92,155.00 312.38,155.00 312.83,155.00 313.29,155.00 313.75,155.00 314.21,155.00 314.66,155.00 315.12,155.00 315.58,155.00 316.03,155.00 316.49,155.00 316.95,155.00 317.41,155.00 317.86,155.00 318.32,155.00 318.78,155.00 319.23,155.00 319.69,155.00 320.15,155.00 320.61,155.00 321.06,155.00 321.52,155.00 321.98,155.00 322.43,155.00 322.89,155.00 323.35,155.00 323.81,155.00 324.26,155.00 324.72,155.00 325.18,155.00 325.63,155.00 326.09,155.00 326.55,155.00 327.00,155.00 327.46,155.00 327.92,155.00 328.38,155.00 328.83,155.00 329.29,155.00 329.75,155.00 330.20,155.00 330.66,155.00 331.12,155.00 331.58,155.00 332.03,155.00 332.49,155.00 332.95,155.00 333.40,155.00 333.86,155.00 334.32,155.00 334.78,155.00 335.23,155.00 335.69,155.00 336.15,155.00 336.60,155.00 337.06,155.00 337.52,155.00 337.98,155.00 338.43,155.00 338.89,155.00 339.35,155.00 339.80,155.00 340.26,155.00 340.72,155.00 341.18,155.00 341.63,155.00 342.09,155.00 342.55,155.00 343.00,155.00 343.46,155.00 343.92,155.00 344.38,155.00 344.83,155.00 345.29,155.00 345.75,155.00 346.20,155.00 346.66,155.00 347.12,155.00 347.58,155.00 348.03,155.00 348.49,155.00 348.95,155.00 349.40,155.00 349.86,155.00 350.32,155.00 350.78,155.00 351.23,155.00 351.69,155.00 352.15,155.00 352.60,155.00 353.06,155.00 353.52,155.00 353.98,155.00 354.43,155.00 354.89,155.00 355.35,155.00 355.80,155.00 356.26,155.00 356.72,155.00 357.18,155.00 357.63,155.00 358.09,155.00 358.55,155.00 359.00,155.00 359.46,155.00 359.92,155.00 360.38,155.00 360.83,155.00 361.29,155.00 361.75,155.00 362.20,155.00 362.66,155.00 363.12,155.00 363.57,155.00 364.03,155.00 364.49,155.00 364.95,155.00 365.40,155.00 365.86,155.00 366.32,155.00 366.77,155.00 367.23,155.00 367.69,155.00 368.15,155.00 368.60,155.00 369.06,155.00 369.52,155.00 369.97,155.00 370.43,155.00 370.89,155.00 371.35,155.00 371.80,155.00 372.26,155.00 372.72,155.00 373.17,155.00 373.63,155.00 374.09,155.00 374.55,155.00 375.00,155.00 375.46,155.00 375.92,155.00 376.37,155.00 376.83,155.00 377.29,155.00 377.75,155.00 378.20,155.00 378.66,155.00 379.12,155.00 379.57,155.00 380.03,155.00 380.49,155.00 380.95,155.00 381.40,155.00 381.86,155.00 382.32,155.00 382.77,155.00 383.23,155.00 383.69,155.00 384.15,155.00 384.60,155.00 385.06,155.00 385.52,155.00 385.97,155.00 386.43,155.00 386.89,155.00 387.35,155.00 387.80,155.00 388.26,155.00 388.72,155.00 389.17,155.00 389.63,155.00 390.09,155.00 390.55,155.00 391.00,155.00 391.46,155.00 391.92,155.00 392.37,155.00 392.83,155.00 393.29,155.00 393.75,155.00 394.20,155.00 394.66,155.00 395.12,155.00 395.57,155.00 396.03,155.00 396.49,155.00 396.95,155.00 397.40,155.00 397.86,155.00 398.32,155.00 398.77,155.00 399.23,155.00 399.69,155.00 400.14,155.00 400.60,155.00 401.06,155.00 401.52,155.00 401.97,155.00 402.43,155.00 402.89,155.00 403.34,155.00 403.80,155.00 404.26,155.00 404.72,155.00 405.17,155.00 405.63,155.00 406.09,155.00 406.54,155.00 407.00,155.00 407.46,155.00 407.92,155.00 408.37,155.00 408.83,155.00 409.29,155.00 409.74,155.00 410.20,155.00 410.66,155.00 411.12,155.00 411.57,155.00 412.03,155.00 412.49,155.00 412.94,155.00 413.40,155.00 413.86,155.00 414.32,155.00 414.77,155.00 415.23,155.00 415.69,155.00 416.14,155.00 416.60,155.00 417.06,155.00 417.52,155.00 417.97,155.00 418.43,155.00 418.89,155.00 419.34,155.00 419.80,155.00 420.26,155.00 420.72,155.00 421.17,155.00 421.63,155.00 422.09,155.00 422.54,155.00 423.00,155.00 423.46,155.00 423.92,155.00 424.37,155.00 424.83,155.00 425.29,155.00 425.74,155.00 426.20,155.00 426.66,155.00 427.12,155.00 427.57,155.00 428.03,155.00 428.49,155.00 428.94,155.00 429.40,155.00 429.86,155.00 430.32,155.00 430.77,155.00 431.23,155.00 431.69,155.00 432.14,155.00 432.60,155.00 433.06,155.00 433.52,155.00 433.97,155.00 434.43,155.00 434.89,155.00 435.34,155.00 435.80,155.00 436.26,155.00 436.71,155.00 437.17,155.00 437.63,155.00 438.09,155.00 438.54,155.00 439.00,155.00 439.46,155.00 439.91,155.00 440.37,155.00 440.83,155.00 441.29,155.00 441.74,155.00 442.20,155.00 442.66,155.00 443.11,155.00 443.57,155.00 444.03,155.00 444.49,155.00 444.94,155.00 445.40,155.00 445.86,155.00 446.31,155.00 446.77,155.00 447.23,155.00 447.69,155.00 448.14,155.00 448.60,155.00 449.06,155.00 449.51,155.00 449.97,155.00 450.43,155.00 450.89,155.00 451.34,155.00 451.80,155.00 452.26,155.00 452.71,155.00 453.17,155.00 453.63,155.00 454.09,155.00 454.54,155.00 455.00,155.00" stroke="#3a3a3a" stroke-width="1.3" fill="none" stroke-dasharray="6 4"/>
<polyline points="89.30,155.00 89.76,155.00 90.21,155.00 90.67,155.00 91.13,155.00 91.59,155.00 92.04,155.00 92.50,155.00 92.96,155.00 93.41,155.00 93.87,155.00 94.33,155.00 94.79,155.00 95.24,155.00 95.70,155.00 96.16,155.00 96.61,155.00 97.07,155.00 97.53,155.00 97.99,155.00 98.44,155.00 98.90,155.00 99.36,155.00 99.81,155.00 100.27,155.00 100.73,155.00 101.19,155.00 101.64,155.00 102.10,155.00 102.56,155.00 103.01,155.00 103.47,155.00 103.93,155.00 104.39,155.00 104.84,155.00 105.30,155.00 105.76,155.00 106.21,155.00 106.67,155.00 107.13,155.00 107.58,155.00 108.04,155.00 108.50,155.00 108.96,155.00 109.41,155.00 109.87,155.00 110.33,155.00 110.78,155.00 111.24,155.00 111.70,155.00 112.16,155.00 112.61,155.00 113.07,155.00 113.53,155.00 113.98,155.00 114.44,155.00 114.90,155.00 115.36,155.00 115.81,155.00 116.27,155.00 116.73,155.00 117.18,155.00 117.64,155.00 118.10,155.00 118.56,155.00 119.01,155.00 119.47,155.00 119.93,155.00 120.38,155.00 120.84,155.00 121.30,155.00 121.76,155.00 122.21,155.00 122.67,155.00 123.13,155.00 123.58,155.00 124.04,155.00 124.50,155.00 124.96,155.00 125.41,155.00 125.87,155.00 126.33,155.00 126.78,155.00 127.24,155.00 127.70,155.00 128.16,155.00 128.61,155.00 129.07,155.00 129.53,155.00 129.98,155.00 130.44,155.00 130.90,155.00 131.36,155.00 131.81,155.00 132.27,155.00 132.73,155.00 133.18,155.00 133.64,155.00 134.10,155.00 134.56,155.00 135.01,155.00 135.47,155.00 135.93,155.00 136.38,155.00 136.84,155.00 137.30,155.00 137.76,155.00 138.21,155.00 138.67,155.00 139.13,155.00 139.58,155.00 140.04,155.00 140.50,155.00 140.96,155.00 141.41,155.00 141.87,155.00 142.33,155.00 142.78,155.00 143.24,155.00 143.70,155.00 144.16,155.00 144.61,155.00 145.07,155.00 145.53,155.00 145.98,155.00 146.44,155.00 146.90,155.00 147.35,155.00 147.81,155.00 148.27,155.00 148.73,155.00 149.18,155.00 149.64,155.00 150.10,155.00 150.55,155.00 151.01,155.00 151.47,155.00 151.93,155.00 152.38,155.00 152.84,155.00 153.30,155.00 153.75,155.00 154.21,155.00 154.67,155.00 155.13,155.00 155.58,155.00 156.04,155.00 156.50,155.00 156.95,155.00 157.41,155.00 157.87,155.00 158.33,155.00 158.78,155.00 159.24,155.00 159.70,155.00 160.15,155.00 160.61,155.00 161.07,155.00 161.53,155.00 161.98,155.00 162.44,155.00 162.90,155.00 163.35,155.00 163.81,155.00 164.27,155.00 164.73,155.00 165.18,155.00 165.64,155.00 166.10,155.00 166.55,155.00 167.01,155.00 167.47,155.00 167.93,155.00 168.38,155.00 168.84,155.00 169.30,155.00 169.75,155.00 170.21,155.00 170.67,155.00 171.13,155.00 171.58,155.00 172.04,155.00 172.50,155.00 172.95,155.00 173.41,155.00 173.87,155.00 174.33,155.00 174.78,155.00 175.24,155.00 175.70,155.00 176.15,155.00 176.61,155.00 177.07,155.00 177.53,155.00 177.98,155.00 178.44,155.00 178.90,155.00 179.35,155.00 179.81,155.00 180.27,155.00 180.72,155.00 181.18,155.00 181.64,155.00 182.10,155.00 182.55,155.00 183.01,155.00 183.47,155.00 183.92,155.00 184.38,155.00 184.84,155.00 185.30,155.00 185.75,155.00 186.21,155.00 186.67,155.00 187.12,155.00 187.58,155.00 188.04,155.00 188.50,155.00 188.95,155.00 189.41,155.00 189.87,155.00 190.32,155.00 190.78,155.00 191.24,155.00 191.70,155.00 192.15,155.00 192.61,155.00 193.07,155.00 193.52,155.00 193.98,155.00 194.44,155.00 194.90,155.00 195.35,155.00 195.81,155.00 196.27,155.00 196.72,155.00 197.18,155.00 197.64,155.00 198.10,155.00 198.55,155.00 199.01,155.00 199.47,155.00 199.92,155.00 200.38,155.00 200.84,155.00 201.30,155.00 201.75,155.00 202.21,155.00 202.67,155.00 203.12,155.00 203.58,155.00 204.04,155.00 204.50,155.00 204.95,155.00 205.41,155.00 205.87,155.00 206.32,155.00 206.78,155.00 207.24,154.99 207.70,154.99 208.15,154.99 208.61,154.99 209.07,154.99 209.52,154.99 209.98,154.99 210.44,154.99 210.90,154.99 211.35,154.99 211.81,154.99 212.27,154.99 212.72,154.99 213.18,154.99 213.64,154.99 214.10,154.99 214.55,154.99 215.01,154.99 215.47,154.99 215.92,154.99 216.38,154.99 216.84,154.99 217.30,154.98 217.75,154.98 218.21,154.98 218.67,154.98 219.12,154.98 219.58,154.98 220.04,154.98 220.49,154.98 220.95,154.98 221.41,154.98 221.87,154.98 222.32,154.97 222.78,154.97 223.24,154.97 223.69,154.97 224.15,154.97 224.61,154.97 225.07,154.97 225.52,154.96 225.98,154.96 226.44,154.96 226.89,154.96 227.35,154.96 227.81,154.96 228.27,154.95 228.72,154.95 229.18,154.95 229.64,154.95 230.09,154.95 230.55,154.94 231.01,154.94 231.47,154.94 231.92,154.94 232.38,154.93 232.84,154.93 233.29,154.93 233.75,154.92 234.21,154.92 234.67,154.92 235.12,154.91 235.58,154.91 236.04,154.91 236.49,154.90 236.95,154.90 237.41,154.89 237.87,154.89 238.32,154.88 238.78,154.88 239.24,154.87 239.69,154.87 240.15,154.86 240.61,154.86 241.07,154.85 241.52,154.85 241.98,154.84 242.44,154.83 242.89,154.83 243.35,154.82 243.81,154.81 244.27,154.81 244.72,154.80 245.18,154.79 245.64,154.78 246.09,154.77 246.55,154.77 247.01,154.76 247.47,154.75 247.92,154.74 248.38,154.73 248.84,154.72 249.29,154.71 249.75,154.70 250.21,154.68 250.67,154.67 251.12,154.66 251.58,154.65 252.04,154.63 252.49,154.62 252.95,154.61 253.41,154.59 253.86,154.58 254.32,154.56 254.78,154.55 255.24,154.53 255.69,154.51 256.15,154.50 256.61,154.48 257.06,154.46 257.52,154.44 257.98,154.42 258.44,154.40 258.89,154.38 259.35,154.36 259.81,154.34 260.26,154.32 260.72,154.29 261.18,154.27 261.64,154.24 262.09,154.22 262.55,154.19 263.01,154.17 263.46,154.14 263.92,154.11 264.38,154.08 264.84,154.05 265.29,154.02 265.75,153.99 266.21,153.96 266.66,153.92 267.12,153.89 267.58,153.86 268.04,153.82 268.49,153.78 268.95,153.74 269.41,153.71 269.86,153.67 270.32,153.62 270.78,153.58 271.24,153.54 271.69,153.50 272.15,153.45 272.61,153.40 273.06,153.36 273.52,153.31 273.98,153.26 274.44,153.21 274.89,153.15 275.35,153.10 275.81,153.05 276.26,152.99 276.72,152.93 277.18,152.87 277.64,152.81 278.09,152.75 278.55,152.69 279.01,152.62 279.46,152.56 279.92,152.49 280.38,152.42 280.84,152.35 281.29,152.28 281.75,152.21 282.21,152.13 282.66,152.06 283.12,151.98 283.58,151.90 284.04,151.82 284.49,151.74 284.95,151.65 285.41,151.57 285.86,151.48 286.32,151.39 286.78,151.30 287.24,151.21 287.69,151.11 288.15,151.02 288.61,150.92 289.06,150.82 289.52,150.72 289.98,150.61 290.43,150.51 290.89,150.40 291.35,150.29 291.81,150.18 292.26,150.07 292.72,149.95 293.18,149.84 293.63,149.72 294.09,149.60 294.55,149.47 295.01,149.35 295.46,149.22 295.92,149.10 296.38,148.97 296.83,148.83 297.29,148.70 297.75,148.56 298.21,148.43 298.66,148.29 299.12,148.14 299.58,148.00 300.03,147.85 300.49,147.71 300.95,147.56 301.41,147.40 301.86,147.25 302.32,147.09 302.78,146.94 303.23,146.78 303.69,146.62 304.15,146.45 304.61,146.29 305.06,146.12 305.52,145.95 305.98,145.78 306.43,145.61 306.89,145.43 307.35,145.26 307.81,145.08 308.26,144.90 308.72,144.72 309.18,144.54 309.63,144.35 310.09,144.16 310.55,143.98 311.01,143.79 311.46,143.59 311.92,143.40 312.38,143.21 312.83,143.01 313.29,142.81 313.75,142.62 314.21,142.42 314.66,142.21 315.12,142.01 315.58,141.81 316.03,141.60 316.49,141.39 316.95,141.19 317.41,140.98 317.86,140.77 318.32,140.56 318.78,140.35 319.23,140.13 319.69,139.92 320.15,139.70 320.61,139.49 321.06,139.27 321.52,139.06 321.98,138.84 322.43,138.62 322.89,138.40 323.35,138.19 323.81,137.97 324.26,137.75 324.72,137.53 325.18,137.31 325.63,137.09 326.09,136.87 326.55,136.65 327.00,136.43 327.46,136.21 327.92,135.99 328.38,135.77 328.83,135.55 329.29,135.34 329.75,135.12 330.20,134.90 330.66,134.68 331.12,134.47 331.58,134.25 332.03,134.04 332.49,133.83 332.95,133.61 333.40,133.40 333.86,133.19 334.32,132.98 334.78,132.78 335.23,132.57 335.69,132.36 336.15,132.16 336.60,131.96 337.06,131.76 337.52,131.56 337.98,131.36 338.43,131.17 338.89,130.98 339.35,130.79 339.80,130.60 340.26,130.41 340.72,130.23 341.18,130.05 341.63,129.87 342.09,129.69 342.55,129.51 343.00,129.34 343.46,129.17 343.92,129.01 344.38,128.84 344.83,128.68 345.29,128.52 345.75,128.37 346.20,128.22 346.66,128.07 347.12,127.92 347.58,127.78 348.03,127.64 348.49,127.50 348.95,127.37 349.40,127.24 349.86,127.12 350.32,127.00 350.78,126.88 351.23,126.76 351.69,126.65 352.15,126.55 352.60,126.44 353.06,126.34 353.52,126.25 353.98,126.16 354.43,126.07 354.89,125.98 355.35,125.91 355.80,125.83 356.26,125.76 356.72,125.69 357.18,125.63 357.63,125.57 358.09,125.52 358.55,125.47 359.00,125.42 359.46,125.38 359.92,125.34 360.38,125.31 360.83,125.28 361.29,125.26 361.75,125.24 362.20,125.22 362.66,125.21 363.12,125.20 363.57,125.20 364.03,125.20 364.49,125.21 364.95,125.22 365.40,125.24 365.86,125.26 366.32,125.28 366.77,125.31 367.23,125.34 367.69,125.38 368.15,125.42 368.60,125.47 369.06,125.52 369.52,125.57 369.97,125.63 370.43,125.69 370.89,125.76 371.35,125.83 371.80,125.91 372.26,125.98 372.72,126.07 373.17,126.16 373.63,126.25 374.09,126.34 374.55,126.44 375.00,126.55 375.46,126.65 375.92,126.76 376.37,126.88 376.83,127.00 377.29,127.12 377.75,127.24 378.20,127.37 378.66,127.50 379.12,127.64 379.57,127.78 380.03,127.92 380.49,128.07 380.95,128.22 381.40,128.37 381.86,128.52 382.32,128.68 382.77,128.84 383.23,129.01 383.69,129.17 384.15,129.34 384.60,129.51 385.06,129.69 385.52,129.87 385.97,130.05 386.43,130.23 386.89,130.41 387.35,130.60 387.80,130.79 388.26,130.98 388.72,131.17 389.17,131.36 389.63,131.56 390.09,131.76 390.55,131.96 391.00,132.16 391.46,132.36 391.92,132.57 392.37,132.78 392.83,132.98 393.29,133.19 393.75,133.40 394.20,133.61 394.66,133.83 395.12,134.04 395.57,134.25 396.03,134.47 396.49,134.68 396.95,134.90 397.40,135.12 397.86,135.34 398.32,135.55 398.77,135.77 399.23,135.99 399.69,136.21 400.14,136.43 400.60,136.65 401.06,136.87 401.52,137.09 401.97,137.31 402.43,137.53 402.89,137.75 403.34,137.97 403.80,138.19 404.26,138.40 404.72,138.62 405.17,138.84 405.63,139.06 406.09,139.27 406.54,139.49 407.00,139.70 407.46,139.92 407.92,140.13 408.37,140.35 408.83,140.56 409.29,140.77 409.74,140.98 410.20,141.19 410.66,141.39 411.12,141.60 411.57,141.81 412.03,142.01 412.49,142.21 412.94,142.42 413.40,142.62 413.86,142.81 414.32,143.01 414.77,143.21 415.23,143.40 415.69,143.59 416.14,143.79 416.60,143.98 417.06,144.16 417.52,144.35 417.97,144.54 418.43,144.72 418.89,144.90 419.34,145.08 419.80,145.26 420.26,145.43 420.72,145.61 421.17,145.78 421.63,145.95 422.09,146.12 422.54,146.29 423.00,146.45 423.46,146.62 423.92,146.78 424.37,146.94 424.83,147.09 425.29,147.25 425.74,147.40 426.20,147.56 426.66,147.71 427.12,147.85 427.57,148.00 428.03,148.14 428.49,148.29 428.94,148.43 429.40,148.56 429.86,148.70 430.32,148.83 430.77,148.97 431.23,149.10 431.69,149.22 432.14,149.35 432.60,149.47 433.06,149.60 433.52,149.72 433.97,149.84 434.43,149.95 434.89,150.07 435.34,150.18 435.80,150.29 436.26,150.40 436.71,150.51 437.17,150.61 437.63,150.72 438.09,150.82 438.54,150.92 439.00,151.02 439.46,151.11 439.91,151.21 440.37,151.30 440.83,151.39 441.29,151.48 441.74,151.57 442.20,151.65 442.66,151.74 443.11,151.82 443.57,151.90 444.03,151.98 444.49,152.06 444.94,152.13 445.40,152.21 445.86,152.28 446.31,152.35 446.77,152.42 447.23,152.49 447.69,152.56 448.14,152.62 448.60,152.69 449.06,152.75 449.51,152.81 449.97,152.87 450.43,152.93 450.89,152.99 451.34,153.05 451.80,153.10 452.26,153.15 452.71,153.21 453.17,153.26 453.63,153.31 454.09,153.36 454.54,153.40 455.00,153.45" stroke="#222" stroke-width="1.1" fill="none"/>
<polyline points="89.30,155.00 89.76,155.00 90.21,155.00 90.67,155.00 91.13,155.00 91.59,155.00 92.04,155.00 92.50,155.00 92.96,155.00 93.41,155.00 93.87,155.00 94.33,155.00 94.79,155.00 95.24,155.00 95.70,155.00 96.16,155.00 96.61,155.00 97.07,155.00 97.53,155.00 97.99,155.00 98.44,155.00 98.90,155.00 99.36,155.00 99.81,155.00 100.27,155.00 100.73,155.00 101.19,155.00 101.64,155.00 102.10,155.00 102.56,155.00 103.01,155.00 103.47,155.00 103.93,155.00 104.39,155.00 104.84,155.00 105.30,155.00 105.76,155.00 106.21,155.00 106.67,155.00 107.13,155.00 107.58,155.00 108.04,155.00 108.50,155.00 108.96,155.00 109.41,155.00 109.87,155.00 110.33,155.00 110.78,155.00 111.24,155.00 111.70,155.00 112.16,155.00 112.61,155.00 113.07,155.00 113.53,155.00 113.98,155.00 114.44,155.00 114.90,155.00 115.36,155.00 115.81,155.00 116.27,155.00 116.73,155.00 117.18,155.00 117.64,155.00 118.10,155.00 118.56,155.00 119.01,155.00 119.47,155.00 119.93,155.00 120.38,155.00 120.84,155.00 121.30,155.00 121.76,155.00 122.21,155.00 122.67,155.00 123.13,155.00 123.58,155.00 124.04,155.00 124.50,155.00 124.96,155.00 125.41,155.00 125.87,155.00 126.33,155.00 126.78,155.00 127.24,155.00 127.70,155.00 128.16,155.00 128.61,155.00 129.07,155.00 129.53,155.00 129.98,155.00 130.44,155.00 130.90,155.00 131.36,155.00 131.81,155.00 132.27,155.00 132.73,155.00 133.18,155.00 133.64,155.00 134.10,155.00 134.56,155.00 135.01,155.00 135.47,155.00 135.93,155.00 136.38,155.00 136.84,155.00 137.30,155.00 137.76,155.00 138.21,155.00 138.67,155.00 139.13,155.00 139.58,155.00 140.04,155.00 140.50,155.00 140.96,155.00 141.41,155.00 141.87,155.00 142.33,155.00 142.78,155.00 143.24,155.00 143.70,155.00 144.16,155.00 144.61,155.00 145.07,155.00 145.53,155.00 145.98,155.00 146.44,155.00 146.90,155.00 147.35,155.00 147.81,155.00 148.27,155.00 148.73,155.00 149.18,155.00 149.64,155.00 150.10,155.00 150.55,155.00 151.01,155.00 151.47,155.00 151.93,155.00 152.38,155.00 152.84,155.00 153.30,155.00 153.75,155.00 154.21,155.00 154.67,155.00 155.13,155.00 155.58,155.00 156.04,155.00 156.50,155.00 156.95,155.00 157.41,155.00 157.87,155.00 158.33,155.00 158.78,155.00 159.24,155.00 159.70,155.00 160.15,155.00 160.61,155.00 161.07,155.00 161.53,155.00 161.98,155.00 162.44,155.00 162.90,155.00 163.35,155.00 163.81,155.00 164.27,155.00 164.73,155.00 165.18,155.00 165.64,155.00 166.10,155.00 166.55,155.00 167.01,155.00 167.47,155.00 167.93,155.00 168.38,155.00 168.84,155.00 169.30,155.00 169.75,155.00 170.21,155.00 170.67,155.00 171.13,155.00 171.58,155.00 172.04,155.00 172.50,155.00 172.95,155.00 173.41,155.00 173.87,155.00 174.33,155.00 174.78,155.00 175.24,155.00 175.70,155.00 176.15,155.00 176.61,155.00 177.07,155.00 177.53,155.00 177.98,155.00 178.44,155.00 178.90,155.00 179.35,155.00 179.81,155.00 180.27,155.00 180.72,155.00 181.18,155.00 181.64,155.00 182.10,155.00 182.55,155.00 183.01,155.00 183.47,155.00 183.92,155.00 184.38,155.00 184.84,155.00 185.30,155.00 185.75,155.00 186.21,155.00 186.67,155.00 187.12,155.00 187.58,155.00 188.04,155.00 188.50,155.00 188.95,155.00 189.41,155.00 189.87,155.00 190.32,155.00 190.78,155.00 191.24,155.00 191.70,155.00 192.15,155.00 192.61,155.00 193.07,155.00 193.52,155.00 193.98,155.00 194.44,155.00 194.90,155.00 195.35,155.00 195.81,155.00 196.27,155.00 196.72,155.00 197.18,155.00 197.64,155.00 198.10,155.00 198.55,155.00 199.01,155.00 199.47,155.00 199.92,155.00 200.38,155.00 200.84,155.00 201.30,155.00 201.75,155.00 202.21,155.00 202.67,155.00 203.12,155.00 203.58,155.00 204.04,155.00 204.50,155.00 204.95,155.00 205.41,155.00 205.87,155.00 206.32,155.00 206.78,155.00 207.24,155.00 207.70,155.00 208.15,155.00 208.61,155.00 209.07,155.00 209.52,155.00 209.98,155.00 210.44,155.00 210.90,155.00 211.35,155.00 211.81,155.00 212.27,155.00 212.72,155.00 213.18,155.00 213.64,155.00 214.10,155.00 214.55,155.00 215.01,155.00 215.47,155.00 215.92,155.00 216.38,155.00 216.84,155.00 217.30,155.00 217.75,155.00 218.21,155.00 218.67,155.00 219.12,155.00 219.58,155.00 220.04,155.00 220.49,155.00 220.95,155.00 221.41,155.00 221.87,155.00 222.32,155.00 222.78,155.00 223.24,155.00 223.69,155.00 224.15,155.00 224.61,155.00 225.07,155.00 225.52,155.00 225.98,155.00 226.44,155.00 226.89,155.00 227.35,155.00 227.81,155.00 228.27,155.00 228.72,155.00 229.18,155.00 229.64,155.00 230.09,155.00 230.55,155.00 231.01,155.00 231.47,155.00 231.92,155.00 232.38,155.00 232.84,155.00 233.29,155.00 233.75,155.00 234.21,155.00 234.67,155.00 235.12,155.00 235.58,155.00 236.04,155.00 236.49,155.00 236.95,155.00 237.41,155.00 237.87,155.00 238.32,155.00 238.78,155.00 239.24,155.00 239.69,155.00 240.15,155.00 240.61,155.00 241.07,155.00 241.52,155.00 241.98,155.00 242.44,155.00 242.89,155.00 243.35,155.00 243.81,155.00 244.27,155.00 244.72,155.00 245.18,155.00 245.64,155.00 246.09,155.00 246.55,155.00 247.01,155.00 247.47,155.00 247.92,155.00 248.38,155.00 248.84,155.00 249.29,155.00 249.75,155.00 250.21,155.00 250.67,155.00 251.12,155.00 251.58,155.00 252.04,155.00 252.49,155.00 252.95,155.00 253.41,155.00 253.86,155.00 254.32,155.00 254.78,155.00 255.24,155.00 255.69,155.00 256.15,155.00 256.61,155.00 257.06,155.00 257.52,155.00 257.98,155.00 258.44,155.00 258.89,155.00 259.35,155.00 259.81,155.00 260.26,155.00 260.72,155.00 261.18,155.00 261.64,155.00 262.09,155.00 262.55,155.00 263.01,155.00 263.46,155.00 263.92,155.00 264.38,155.00 264.84,155.00 265.29,155.00 265.75,155.00 266.21,155.00 266.66,155.00 267.12,155.00 267.58,155.00 268.04,155.00 268.49,155.00 268.95,155.00 269.41,155.00 269.86,155.00 270.32,155.00 270.78,155.00 271.24,155.00 271.69,155.00 272.15,155.00 272.61,155.00 273.06,155.00 273.52,155.00 273.98,155.00 274.44,155.00 274.89,155.00 275.35,155.00 275.81,155.00 276.26,155.00 276.72,155.00 277.18,155.00 277.64,155.00 278.09,155.00 278.55,155.00 279.01,155.00 279.46,155.00 279.92,155.00 280.38,155.00 280.84,155.00 281.29,155.00 281.75,155.00 282.21,155.00 282.66,155.00 283.12,155.00 283.58,155.00 284.04,155.00 284.49,155.00 284.95,155.00 285.41,155.00 285.86,155.00 286.32,155.00 286.78,155.00 287.24,155.00 287.69,155.00 288.15,155.00 288.61,155.00 289.06,155.00 289.52,155.00 289.98,155.00 290.43,155.00 290.89,155.00 291.35,155.00 291.81,155.00 292.26,155.00 292.72,155.00 293.18,155.00 293.63,155.00 294.09,155.00 294.55,155.00 295.01,155.00 295.46,155.00 295.92,155.00 296.38,155.00 296.83,155.00 297.29,155.00 297.75,155.00 298.21,155.00 298.66,155.00 299.12,155.00 299.58,155.00 300.03,155.00 300.49,155.00 300.95,155.00 301.41,155.00 301.86,155.00 302.32,155.00 302.78,155.00 303.23,155.00 303.69,155.00 304.15,155.00 304.61,155.00 305.06,155.00 305.52,155.00 305.98,155.00 306.43,155.00 306.89,155.00 307.35,155.00 307.81,155.00 308.26,155.00 308.72,155.00 309.18,155.00 309.63,155.00 310.09,155.00 310.55,155.00 311.01,155.00 311.46,155.00 311.92,155.00 312.38,155.00 312.83,155.00 313.29,155.00 313.75,155.00 314.21,155.00 314.66,155.00 315.12,155.00 315.58,155.00 316.03,155.00 316.49,155.00 316.95,155.00 317.41,155.00 317.86,155.00 318.32,155.00 318.78,155.00 319.23,155.00 319.69,155.00 320.15,155.00 320.61,155.00 321.06,155.00 321.52,155.00 321.98,155.00 322.43,155.00 322.89,155.00 323.35,155.00 323.81,155.00 324.26,155.00 324.72,155.00 325.18,155.00 325.63,155.00 326.09,155.00 326.55,155.00 327.00,155.00 327.46,155.00 327.92,155.00 328.38,155.00 328.83,155.00 329.29,155.00 329.75,155.00 330.20,155.00 330.66,155.00 331.12,154.99 331.58,154.99 332.03,154.99 332.49,154.99 332.95,154.98 333.40,154.98 333.86,154.97 334.32,154.96 334.78,154.95 335.23,154.94 335.69,154.92 336.15,154.89 336.60,154.87 337.06,154.83 337.52,154.79 337.98,154.73 338.43,154.66 338.89,154.58 339.35,154.48 339.80,154.36 340.26,154.21 340.72,154.03 341.18,153.82 341.63,153.57 342.09,153.26 342.55,152.91 343.00,152.48 343.46,151.99 343.92,151.41 344.38,150.74 344.83,149.97 345.29,149.07 345.75,148.05 346.20,146.89 346.66,145.56 347.12,144.07 347.58,142.38 348.03,140.50 348.49,138.40 348.95,136.08 349.40,133.52 349.86,130.71 350.32,127.64 350.78,124.31 351.23,120.72 351.69,116.85 352.15,112.72 352.60,108.33 353.06,103.70 353.52,98.83 353.98,93.74 354.43,88.46 354.89,83.02 355.35,77.45 355.80,71.78 356.26,66.06 356.72,60.32 357.18,54.62 357.63,49.01 358.09,43.53 358.55,38.25 359.00,33.20 359.46,28.44 359.92,24.03 360.38,20.01 360.83,16.43 361.29,13.32 361.75,10.73 362.20,8.68 362.66,7.20 363.12,6.30 363.57,6.00 364.03,6.30 364.49,7.20 364.95,8.68 365.40,10.73 365.86,13.32 366.32,16.43 366.77,20.01 367.23,24.03 367.69,28.44 368.15,33.20 368.60,38.25 369.06,43.53 369.52,49.01 369.97,54.62 370.43,60.32 370.89,66.06 371.35,71.78 371.80,77.45 372.26,83.02 372.72,88.46 373.17,93.74 373.63,98.83 374.09,103.70 374.55,108.33 375.00,112.72 375.46,116.85 375.92,120.72 376.37,124.31 376.83,127.64 377.29,130.71 377.75,133.52 378.20,136.08 378.66,138.40 379.12,140.50 379.57,142.38 380.03,144.07 380.49,145.56 380.95,146.89 381.40,148.05 381.86,149.07 382.32,149.97 382.77,150.74 383.23,151.41 383.69,151.99 384.15,152.48 384.60,152.91 385.06,153.26 385.52,153.57 385.97,153.82 386.43,154.03 386.89,154.21 387.35,154.36 387.80,154.48 388.26,154.58 388.72,154.66 389.17,154.73 389.63,154.79 390.09,154.83 390.55,154.87 391.00,154.89 391.46,154.92 391.92,154.94 392.37,154.95 392.83,154.96 393.29,154.97 393.75,154.98 394.20,154.98 394.66,154.99 395.12,154.99 395.57,154.99 396.03,154.99 396.49,155.00 396.95,155.00 397.40,155.00 397.86,155.00 398.32,155.00 398.77,155.00 399.23,155.00 399.69,155.00 400.14,155.00 400.60,155.00 401.06,155.00 401.52,155.00 401.97,155.00 402.43,155.00 402.89,155.00 403.34,155.00 403.80,155.00 404.26,155.00 404.72,155.00 405.17,155.00 405.63,155.00 406.09,155.00 406.54,155.00 407.00,155.00 407.46,155.00 407.92,155.00 408.37,155.00 408.83,155.00 409.29,155.00 409.74,155.00 410.20,155.00 410.66,155.00 411.12,155.00 411.57,155.00 412.03,155.00 412.49,155.00 412.94,155.00 413.40,155.00 413.86,155.00 414.32,155.00 414.77,155.00 415.23,155.00 415.69,155.00 416.14,155.00 416.60,155.00 417.06,155.00 417.52,155.00 417.97,155.00 418.43,155.00 418.89,155.00 419.34,155.00 419.80,155.00 420.26,155.00 420.72,155.00 421.17,155.00 421.63,155.00 422.09,155.00 422.54,155.00 423.00,155.00 423.46,155.00 423.92,155.00 424.37,155.00 424.83,155.00 425.29,155.00 425.74,155.00 426.20,155.00 426.66,155.00 427.12,155.00 427.57,155.00 428.03,155.00 428.49,155.00 428.94,155.00 429.40,155.00 429.86,155.00 430.32,155.00 430.77,155.00 431.23,155.00 431.69,155.00 432.14,155.00 432.60,155.00 433.06,155.00 433.52,155.00 433.97,155.00 434.43,155.00 434.89,155.00 435.34,155.00 435.80,155.00 436.26,155.00 436.71,155.00 437.17,155.00 437.63,155.00 438.09,155.00 438.54,155.00 439.00,155.00 439.46,155.00 439.91,155.00 440.37,155.00 440.83,155.00 441.29,155.00 441.74,155.00 442.20,155.00 442.66,155.00 443.11,155.00 443.57,155.00 444.03,155.00 444.49,155.00 444.94,155.00 445.40,155.00 445.86,155.00 446.31,155.00 446.77,155.00 447.23,155.00 447.69,155.00 448.14,155.00 448.60,155.00 449.06,155.00 449.51,155.00 449.97,155.00 450.43,155.00 450.89,155.00 451.34,155.00 451.80,155.00 452.26,155.00 452.71,155.00 453.17,155.00 453.63,155.00 454.09,155.00 454.54,155.00 455.00,155.00" stroke="#222" stroke-width="1.1" fill="none"/>
<path d="M89.3 155.0H455.0" stroke="#808080" stroke-width="2" fill="none"/>
<polyline points="89.30,155.00 89.53,154.41 89.76,153.82 89.99,153.24 90.21,152.65 90.44,152.07 90.67,151.50 90.90,150.93 91.13,150.36 91.36,149.81 91.59,149.26 91.81,148.72 92.04,148.19 92.27,147.67 92.50,147.16 92.73,146.67 92.96,146.18 93.19,145.71 93.41,145.26 93.64,144.82 93.87,144.39 94.10,143.99 94.33,143.59 94.56,143.22 94.79,142.86 95.01,142.53 95.24,142.21 95.47,141.91 95.70,141.63 95.93,141.38 96.16,141.14 96.39,140.93 96.61,140.73 96.84,140.56 97.07,140.41 97.30,140.29 97.53,140.18 97.76,140.10 97.99,140.05 98.21,140.01 98.44,140.00 98.67,140.01 98.90,140.05 99.13,140.10 99.36,140.18 99.59,140.29 99.81,140.41 100.04,140.56 100.27,140.73 100.50,140.93 100.73,141.14 100.96,141.38 101.19,141.63 101.41,141.91 101.64,142.21 101.87,142.53 102.10,142.86 102.33,143.22 102.56,143.59 102.79,143.99 103.01,144.39 103.24,144.82 103.47,145.26 103.70,145.71 103.93,146.18 104.16,146.67 104.39,147.16 104.61,147.67 104.84,148.19 105.07,148.72 105.30,149.26 105.53,149.81 105.76,150.36 105.99,150.93 106.21,151.50 106.44,152.07 106.67,152.65 106.90,153.24 107.13,153.82 107.36,154.41 107.58,155.00 107.81,155.59 108.04,156.18 108.27,156.76 108.50,157.35 108.73,157.93 108.96,158.50 109.18,159.07 109.41,159.64 109.64,160.19 109.87,160.74 110.10,161.28 110.33,161.81 110.56,162.33 110.78,162.84 111.01,163.33 111.24,163.82 111.47,164.29 111.70,164.74 111.93,165.18 112.16,165.61 112.38,166.01 112.61,166.41 112.84,166.78 113.07,167.14 113.30,167.47 113.53,167.79 113.76,168.09 113.98,168.37 114.21,168.62 114.44,168.86 114.67,169.07 114.90,169.27 115.13,169.44 115.36,169.59 115.58,169.71 115.81,169.82 116.04,169.90 116.27,169.95 116.50,169.99 116.73,170.00 116.96,169.99 117.18,169.95 117.41,169.90 117.64,169.82 117.87,169.71 118.10,169.59 118.33,169.44 118.56,169.27 118.78,169.07 119.01,168.86 119.24,168.62 119.47,168.37 119.70,168.09 119.93,167.79 120.16,167.47 120.38,167.14 120.61,166.78 120.84,166.41 121.07,166.01 121.30,165.61 121.53,165.18 121.76,164.74 121.98,164.29 122.21,163.82 122.44,163.33 122.67,162.84 122.90,162.33 123.13,161.81 123.36,161.28 123.58,160.74 123.81,160.19 124.04,159.64 124.27,159.07 124.50,158.50 124.73,157.93 124.96,157.35 125.18,156.76 125.41,156.18 125.64,155.59 125.87,155.00 126.10,154.41 126.33,153.82 126.56,153.24 126.78,152.65 127.01,152.07 127.24,151.50 127.47,150.93 127.70,150.36 127.93,149.81 128.16,149.26 128.38,148.72 128.61,148.19 128.84,147.67 129.07,147.16 129.30,146.67 129.53,146.18 129.76,145.71 129.98,145.26 130.21,144.82 130.44,144.39 130.67,143.99 130.90,143.59 131.13,143.22 131.36,142.86 131.58,142.53 131.81,142.21 132.04,141.91 132.27,141.63 132.50,141.38 132.73,141.14 132.96,140.93 133.18,140.73 133.41,140.56 133.64,140.41 133.87,140.29 134.10,140.18 134.33,140.10 134.56,140.05 134.78,140.01 135.01,140.00 135.24,140.01 135.47,140.05 135.70,140.10 135.93,140.18 136.16,140.29 136.38,140.41 136.61,140.56 136.84,140.73 137.07,140.93 137.30,141.14 137.53,141.38 137.76,141.63 137.98,141.91 138.21,142.21 138.44,142.53 138.67,142.86 138.90,143.22 139.13,143.59 139.36,143.99 139.58,144.39 139.81,144.82 140.04,145.26 140.27,145.71 140.50,146.18 140.73,146.67 140.96,147.16 141.18,147.67 141.41,148.19 141.64,148.72 141.87,149.26 142.10,149.81 142.33,150.36 142.56,150.93 142.78,151.50 143.01,152.07 143.24,152.65 143.47,153.24 143.70,153.82 143.93,154.41 144.16,155.00 144.38,155.59 144.61,156.18 144.84,156.76 145.07,157.35 145.30,157.93 145.53,158.50 145.75,159.07 145.98,159.64 146.21,160.19 146.44,160.74 146.67,161.28 146.90,161.81 147.13,162.33 147.35,162.84 147.58,163.33 147.81,163.82 148.04,164.29 148.27,164.74 148.50,165.18 148.73,165.61 148.95,166.01 149.18,166.41 149.41,166.78 149.64,167.14 149.87,167.47 150.10,167.79 150.33,168.09 150.55,168.37 150.78,168.62 151.01,168.86 151.24,169.07 151.47,169.27 151.70,169.44 151.93,169.59 152.15,169.71 152.38,169.82 152.61,169.90 152.84,169.95 153.07,169.99 153.30,170.00 153.53,169.99 153.75,169.95 153.98,169.90 154.21,169.82 154.44,169.71 154.67,169.59 154.90,169.44 155.13,169.27 155.35,169.07 155.58,168.86 155.81,168.62 156.04,168.37 156.27,168.09 156.50,167.79 156.73,167.47 156.95,167.14 157.18,166.78 157.41,166.41 157.64,166.01 157.87,165.61 158.10,165.18 158.33,164.74 158.55,164.29 158.78,163.82 159.01,163.33 159.24,162.84 159.47,162.33 159.70,161.81 159.93,161.28 160.15,160.74 160.38,160.19 160.61,159.64 160.84,159.07 161.07,158.50 161.30,157.93 161.53,157.35 161.75,156.76 161.98,156.18 162.21,155.59 162.44,155.00 162.67,154.41 162.90,153.82 163.13,153.24 163.35,152.65 163.58,152.07 163.81,151.50 164.04,150.93 164.27,150.36 164.50,149.81 164.73,149.26 164.95,148.72 165.18,148.19 165.41,147.67 165.64,147.16 165.87,146.67 166.10,146.18 166.33,145.71 166.55,145.26 166.78,144.82 167.01,144.39 167.24,143.99 167.47,143.59 167.70,143.22 167.93,142.86 168.15,142.53 168.38,142.21 168.61,141.91 168.84,141.63 169.07,141.38 169.30,141.14 169.53,140.93 169.75,140.73 169.98,140.56 170.21,140.41 170.44,140.29 170.67,140.18 170.90,140.10 171.13,140.05 171.35,140.01 171.58,140.00 171.81,140.01 172.04,140.05 172.27,140.10 172.50,140.18 172.73,140.29 172.95,140.41 173.18,140.56 173.41,140.73 173.64,140.93 173.87,141.14 174.10,141.38 174.33,141.63 174.55,141.91 174.78,142.21 175.01,142.53 175.24,142.86 175.47,143.22 175.70,143.59 175.93,143.99 176.15,144.39 176.38,144.82 176.61,145.26 176.84,145.71 177.07,146.18 177.30,146.67 177.53,147.16 177.75,147.67 177.98,148.19 178.21,148.72 178.44,149.26 178.67,149.81 178.90,150.36 179.13,150.93 179.35,151.50 179.58,152.07 179.81,152.65 180.04,153.24 180.27,153.82 180.50,154.41 180.72,155.00 180.95,155.59 181.18,156.18 181.41,156.76 181.64,157.35 181.87,157.93 182.10,158.50 182.32,159.07 182.55,159.64 182.78,160.19 183.01,160.74 183.24,161.28 183.47,161.81 183.70,162.33 183.92,162.84 184.15,163.33 184.38,163.82 184.61,164.29 184.84,164.74 185.07,165.18 185.30,165.61 185.52,166.01 185.75,166.41 185.98,166.78 186.21,167.14 186.44,167.47 186.67,167.79 186.90,168.09 187.12,168.37 187.35,168.62 187.58,168.86 187.81,169.07 188.04,169.27 188.27,169.44 188.50,169.59 188.72,169.71 188.95,169.82 189.18,169.90 189.41,169.95 189.64,169.99 189.87,170.00 190.10,169.99 190.32,169.95 190.55,169.90 190.78,169.82 191.01,169.71 191.24,169.59 191.47,169.44 191.70,169.27 191.92,169.07 192.15,168.86 192.38,168.62 192.61,168.37 192.84,168.09 193.07,167.79 193.30,167.47 193.52,167.14 193.75,166.78 193.98,166.41 194.21,166.01 194.44,165.61 194.67,165.18 194.90,164.74 195.12,164.29 195.35,163.82 195.58,163.33 195.81,162.84 196.04,162.33 196.27,161.81 196.50,161.28 196.72,160.74 196.95,160.19 197.18,159.64 197.41,159.07 197.64,158.50 197.87,157.93 198.10,157.35 198.32,156.76 198.55,156.18 198.78,155.59 199.01,155.00 199.24,154.41 199.47,153.82 199.70,153.24 199.92,152.65 200.15,152.07 200.38,151.50 200.61,150.93 200.84,150.36 201.07,149.81 201.30,149.26 201.52,148.72 201.75,148.19 201.98,147.67 202.21,147.16 202.44,146.67 202.67,146.18 202.90,145.71 203.12,145.26 203.35,144.82 203.58,144.39 203.81,143.99 204.04,143.59 204.27,143.22 204.50,142.86 204.72,142.53 204.95,142.21 205.18,141.91 205.41,141.63 205.64,141.38 205.87,141.14 206.10,140.93 206.32,140.73 206.55,140.56 206.78,140.41 207.01,140.29 207.24,140.18 207.47,140.10 207.70,140.05 207.92,140.01 208.15,140.00 208.38,140.01 208.61,140.05 208.84,140.10 209.07,140.18 209.30,140.29 209.52,140.41 209.75,140.56 209.98,140.73 210.21,140.93 210.44,141.14 210.67,141.38 210.90,141.63 211.12,141.91 211.35,142.21 211.58,142.53 211.81,142.86 212.04,143.22 212.27,143.59 212.50,143.99 212.72,144.39 212.95,144.82 213.18,145.26 213.41,145.71 213.64,146.18 213.87,146.67 214.10,147.16 214.32,147.67 214.55,148.19 214.78,148.72 215.01,149.26 215.24,149.81 215.47,150.36 215.70,150.93 215.92,151.50 216.15,152.07 216.38,152.65 216.61,153.24 216.84,153.82 217.07,154.41 217.30,155.00 217.52,155.59 217.75,156.18 217.98,156.76 218.21,157.35 218.44,157.93 218.67,158.50 218.89,159.07 219.12,159.64 219.35,160.19 219.58,160.74 219.81,161.28 220.04,161.81 220.27,162.33 220.49,162.84 220.72,163.33 220.95,163.82 221.18,164.29 221.41,164.74 221.64,165.18 221.87,165.61 222.09,166.01 222.32,166.41 222.55,166.78 222.78,167.14 223.01,167.47 223.24,167.79 223.47,168.09 223.69,168.37 223.92,168.62 224.15,168.86 224.38,169.07 224.61,169.27 224.84,169.44 225.07,169.59 225.29,169.71 225.52,169.82 225.75,169.90 225.98,169.95 226.21,169.99 226.44,170.00 226.67,169.99 226.89,169.95 227.12,169.90 227.35,169.82 227.58,169.71 227.81,169.59 228.04,169.44 228.27,169.27 228.49,169.07 228.72,168.86 228.95,168.62 229.18,168.37 229.41,168.09 229.64,167.79 229.87,167.47 230.09,167.14 230.32,166.78 230.55,166.41 230.78,166.01 231.01,165.61 231.24,165.18 231.47,164.74 231.69,164.29 231.92,163.82 232.15,163.33 232.38,162.84 232.61,162.33 232.84,161.81 233.07,161.28 233.29,160.74 233.52,160.19 233.75,159.64 233.98,159.07 234.21,158.50 234.44,157.93 234.67,157.35 234.89,156.76 235.12,156.18 235.35,155.59 235.58,155.00 235.81,154.41 236.04,153.82 236.27,153.24 236.49,152.65 236.72,152.07 236.95,151.50 237.18,150.93 237.41,150.36 237.64,149.81 237.87,149.26 238.09,148.72 238.32,148.19 238.55,147.67 238.78,147.16 239.01,146.67 239.24,146.18 239.47,145.71 239.69,145.26 239.92,144.82 240.15,144.39 240.38,143.99 240.61,143.59 240.84,143.22 241.07,142.86 241.29,142.53 241.52,142.21 241.75,141.91 241.98,141.63 242.21,141.38 242.44,141.14 242.67,140.93 242.89,140.73 243.12,140.56 243.35,140.41 243.58,140.29 243.81,140.18 244.04,140.10 244.27,140.05 244.49,140.01 244.72,140.00 244.95,140.01 245.18,140.05 245.41,140.10 245.64,140.18 245.87,140.29 246.09,140.41 246.32,140.56 246.55,140.73 246.78,140.93 247.01,141.14 247.24,141.38 247.47,141.63 247.69,141.91 247.92,142.21 248.15,142.53 248.38,142.86 248.61,143.22 248.84,143.59 249.07,143.99 249.29,144.39 249.52,144.82 249.75,145.26 249.98,145.71 250.21,146.18 250.44,146.67 250.67,147.16 250.89,147.67 251.12,148.19 251.35,148.72 251.58,149.26 251.81,149.81 252.04,150.36 252.27,150.93 252.49,151.50 252.72,152.07 252.95,152.65 253.18,153.24 253.41,153.82 253.64,154.41 253.86,155.00 254.09,155.59 254.32,156.18 254.55,156.76 254.78,157.35 255.01,157.93 255.24,158.50 255.46,159.07 255.69,159.64 255.92,160.19 256.15,160.74 256.38,161.28 256.61,161.81 256.84,162.33 257.06,162.84 257.29,163.33 257.52,163.82 257.75,164.29 257.98,164.74 258.21,165.18 258.44,165.61 258.66,166.01 258.89,166.41 259.12,166.78 259.35,167.14 259.58,167.47 259.81,167.79 260.04,168.09 260.26,168.37 260.49,168.62 260.72,168.86 260.95,169.07 261.18,169.27 261.41,169.44 261.64,169.59 261.86,169.71 262.09,169.82 262.32,169.90 262.55,169.95 262.78,169.99 263.01,170.00 263.24,169.99 263.46,169.95 263.69,169.90 263.92,169.82 264.15,169.71 264.38,169.59 264.61,169.44 264.84,169.27 265.06,169.07 265.29,168.86 265.52,168.62 265.75,168.37 265.98,168.09 266.21,167.79 266.44,167.47 266.66,167.14 266.89,166.78 267.12,166.41 267.35,166.01 267.58,165.61 267.81,165.18 268.04,164.74 268.26,164.29 268.49,163.82 268.72,163.33 268.95,162.84 269.18,162.33 269.41,161.81 269.64,161.28 269.86,160.74 270.09,160.19 270.32,159.64 270.55,159.07 270.78,158.50 271.01,157.93 271.24,157.35 271.46,156.76 271.69,156.18 271.92,155.59 272.15,155.00 272.38,153.82 272.61,152.65 272.84,151.50 273.06,150.36 273.29,149.26 273.52,148.19 273.75,147.16 273.98,146.18 274.21,145.26 274.44,144.39 274.66,143.59 274.89,142.86 275.12,142.21 275.35,141.63 275.58,141.14 275.81,140.73 276.04,140.41 276.26,140.18 276.49,140.05 276.72,140.00 276.95,140.05 277.18,140.18 277.41,140.41 277.64,140.73 277.86,141.14 278.09,141.63 278.32,142.21 278.55,142.86 278.78,143.59 279.01,144.39 279.24,145.26 279.46,146.18 279.69,147.16 279.92,148.19 280.15,149.26 280.38,150.36 280.61,151.50 280.84,152.65 281.06,153.82 281.29,155.00 281.52,156.18 281.75,157.35 281.98,158.50 282.21,159.64 282.44,160.74 282.66,161.81 282.89,162.84 283.12,163.82 283.35,164.74 283.58,165.61 283.81,166.41 284.04,167.14 284.26,167.79 284.49,168.37 284.72,168.86 284.95,169.27 285.18,169.59 285.41,169.82 285.64,169.95 285.86,170.00 286.09,169.95 286.32,169.82 286.55,169.59 286.78,169.27 287.01,168.86 287.24,168.37 287.46,167.79 287.69,167.14 287.92,166.41 288.15,165.61 288.38,164.74 288.61,163.82 288.84,162.84 289.06,161.81 289.29,160.74 289.52,159.64 289.75,158.50 289.98,157.35 290.21,156.18 290.43,155.00 290.66,153.82 290.89,152.65 291.12,151.50 291.35,150.36 291.58,149.26 291.81,148.19 292.03,147.16 292.26,146.18 292.49,145.26 292.72,144.39 292.95,143.59 293.18,142.86 293.41,142.21 293.63,141.63 293.86,141.14 294.09,140.73 294.32,140.41 294.55,140.18 294.78,140.05 295.01,140.00 295.23,140.05 295.46,140.18 295.69,140.41 295.92,140.73 296.15,141.14 296.38,141.63 296.61,142.21 296.83,142.86 297.06,143.59 297.29,144.39 297.52,145.26 297.75,146.18 297.98,147.16 298.21,148.19 298.43,149.26 298.66,150.36 298.89,151.50 299.12,152.65 299.35,153.82 299.58,155.00 299.81,156.18 300.03,157.35 300.26,158.50 300.49,159.64 300.72,160.74 300.95,161.81 301.18,162.84 301.41,163.82 301.63,164.74 301.86,165.61 302.09,166.41 302.32,167.14 302.55,167.79 302.78,168.37 303.01,168.86 303.23,169.27 303.46,169.59 303.69,169.82 303.92,169.95 304.15,170.00 304.38,169.95 304.61,169.82 304.83,169.59 305.06,169.27 305.29,168.86 305.52,168.37 305.75,167.79 305.98,167.14 306.21,166.41 306.43,165.61 306.66,164.74 306.89,163.82 307.12,162.84 307.35,161.81 307.58,160.74 307.81,159.64 308.03,158.50 308.26,157.35 308.49,156.18 308.72,155.00 308.95,153.82 309.18,152.65 309.41,151.50 309.63,150.36 309.86,149.26 310.09,148.19 310.32,147.16 310.55,146.18 310.78,145.26 311.01,144.39 311.23,143.59 311.46,142.86 311.69,142.21 311.92,141.63 312.15,141.14 312.38,140.73 312.61,140.41 312.83,140.18 313.06,140.05 313.29,140.00 313.52,140.05 313.75,140.18 313.98,140.41 314.21,140.73 314.43,141.14 314.66,141.63 314.89,142.21 315.12,142.86 315.35,143.59 315.58,144.39 315.81,145.26 316.03,146.18 316.26,147.16 316.49,148.19 316.72,149.26 316.95,150.36 317.18,151.50 317.41,152.65 317.63,153.82 317.86,155.00 318.09,156.18 318.32,157.35 318.55,158.50 318.78,159.64 319.01,160.74 319.23,161.81 319.46,162.84 319.69,163.82 319.92,164.74 320.15,165.61 320.38,166.41 320.61,167.14 320.83,167.79 321.06,168.37 321.29,168.86 321.52,169.27 321.75,169.59 321.98,169.82 322.21,169.95 322.43,170.00 322.66,169.95 322.89,169.82 323.12,169.59 323.35,169.27 323.58,168.86 323.81,168.37 324.03,167.79 324.26,167.14 324.49,166.41 324.72,165.61 324.95,164.74 325.18,163.82 325.41,162.84 325.63,161.81 325.86,160.74 326.09,159.64 326.32,158.50 326.55,157.35 326.78,156.18 327.00,155.00 327.23,153.82 327.46,152.65 327.69,151.50 327.92,150.36 328.15,149.26 328.38,148.19 328.60,147.16 328.83,146.18 329.06,145.26 329.29,144.39 329.52,143.59 329.75,142.86 329.98,142.21 330.20,141.63 330.43,141.14 330.66,140.73 330.89,140.41 331.12,140.18 331.35,140.05 331.58,140.00 331.80,140.05 332.03,140.18 332.26,140.41 332.49,140.73 332.72,141.14 332.95,141.63 333.18,142.21 333.40,142.86 333.63,143.59 333.86,144.39 334.09,145.26 334.32,146.18 334.55,147.16 334.78,148.19 335.00,149.26 335.23,150.36 335.46,151.50 335.69,152.65 335.92,153.82 336.15,155.00 336.38,156.18 336.60,157.35 336.83,158.50 337.06,159.64 337.29,160.74 337.52,161.81 337.75,162.84 337.98,163.82 338.20,164.74 338.43,165.61 338.66,166.41 338.89,167.14 339.12,167.79 339.35,168.37 339.58,168.86 339.80,169.27 340.03,169.59 340.26,169.82 340.49,169.95 340.72,170.00 340.95,169.95 341.18,169.82 341.40,169.59 341.63,169.27 341.86,168.86 342.09,168.37 342.32,167.79 342.55,167.14 342.78,166.41 343.00,165.61 343.23,164.74 343.46,163.82 343.69,162.84 343.92,161.81 344.15,160.74 344.38,159.64 344.60,158.50 344.83,157.35 345.06,156.18 345.29,155.00 345.52,153.82 345.75,152.65 345.98,151.50 346.20,150.36 346.43,149.26 346.66,148.19 346.89,147.16 347.12,146.18 347.35,145.26 347.58,144.39 347.80,143.59 348.03,142.86 348.26,142.21 348.49,141.63 348.72,141.14 348.95,140.73 349.18,140.41 349.40,140.18 349.63,140.05 349.86,140.00 350.09,140.05 350.32,140.18 350.55,140.41 350.78,140.73 351.00,141.14 351.23,141.63 351.46,142.21 351.69,142.86 351.92,143.59 352.15,144.39 352.38,145.26 352.60,146.18 352.83,147.16 353.06,148.19 353.29,149.26 353.52,150.36 353.75,151.50 353.98,152.65 354.20,153.82 354.43,155.00 354.66,156.18 354.89,157.35 355.12,158.50 355.35,159.64 355.58,160.74 355.80,161.81 356.03,162.84 356.26,163.82 356.49,164.74 356.72,165.61 356.95,166.41 357.18,167.14 357.40,167.79 357.63,168.37 357.86,168.86 358.09,169.27 358.32,169.59 358.55,169.82 358.78,169.95 359.00,170.00 359.23,169.95 359.46,169.82 359.69,169.59 359.92,169.27 360.15,168.86 360.38,168.37 360.60,167.79 360.83,167.14 361.06,166.41 361.29,165.61 361.52,164.74 361.75,163.82 361.98,162.84 362.20,161.81 362.43,160.74 362.66,159.64 362.89,158.50 363.12,157.35 363.35,156.18 363.57,155.00 363.80,153.82 364.03,152.65 364.26,151.50 364.49,150.36 364.72,149.26 364.95,148.19 365.17,147.16 365.40,146.18 365.63,145.26 365.86,144.39 366.09,143.59 366.32,142.86 366.55,142.21 366.77,141.63 367.00,141.14 367.23,140.73 367.46,140.41 367.69,140.18 367.92,140.05 368.15,140.00 368.37,140.05 368.60,140.18 368.83,140.41 369.06,140.73 369.29,141.14 369.52,141.63 369.75,142.21 369.97,142.86 370.20,143.59 370.43,144.39 370.66,145.26 370.89,146.18 371.12,147.16 371.35,148.19 371.57,149.26 371.80,150.36 372.03,151.50 372.26,152.65 372.49,153.82 372.72,155.00 372.95,156.18 373.17,157.35 373.40,158.50 373.63,159.64 373.86,160.74 374.09,161.81 374.32,162.84 374.55,163.82 374.77,164.74 375.00,165.61 375.23,166.41 375.46,167.14 375.69,167.79 375.92,168.37 376.15,168.86 376.37,169.27 376.60,169.59 376.83,169.82 377.06,169.95 377.29,170.00 377.52,169.95 377.75,169.82 377.97,169.59 378.20,169.27 378.43,168.86 378.66,168.37 378.89,167.79 379.12,167.14 379.35,166.41 379.57,165.61 379.80,164.74 380.03,163.82 380.26,162.84 380.49,161.81 380.72,160.74 380.95,159.64 381.17,158.50 381.40,157.35 381.63,156.18 381.86,155.00 382.09,153.82 382.32,152.65 382.55,151.50 382.77,150.36 383.00,149.26 383.23,148.19 383.46,147.16 383.69,146.18 383.92,145.26 384.15,144.39 384.37,143.59 384.60,142.86 384.83,142.21 385.06,141.63 385.29,141.14 385.52,140.73 385.75,140.41 385.97,140.18 386.20,140.05 386.43,140.00 386.66,140.05 386.89,140.18 387.12,140.41 387.35,140.73 387.57,141.14 387.80,141.63 388.03,142.21 388.26,142.86 388.49,143.59 388.72,144.39 388.95,145.26 389.17,146.18 389.40,147.16 389.63,148.19 389.86,149.26 390.09,150.36 390.32,151.50 390.55,152.65 390.77,153.82 391.00,155.00 391.23,156.18 391.46,157.35 391.69,158.50 391.92,159.64 392.15,160.74 392.37,161.81 392.60,162.84 392.83,163.82 393.06,164.74 393.29,165.61 393.52,166.41 393.75,167.14 393.97,167.79 394.20,168.37 394.43,168.86 394.66,169.27 394.89,169.59 395.12,169.82 395.35,169.95 395.57,170.00 395.80,169.95 396.03,169.82 396.26,169.59 396.49,169.27 396.72,168.86 396.95,168.37 397.17,167.79 397.40,167.14 397.63,166.41 397.86,165.61 398.09,164.74 398.32,163.82 398.55,162.84 398.77,161.81 399.00,160.74 399.23,159.64 399.46,158.50 399.69,157.35 399.92,156.18 400.14,155.00 400.37,153.82 400.60,152.65 400.83,151.50 401.06,150.36 401.29,149.26 401.52,148.19 401.74,147.16 401.97,146.18 402.20,145.26 402.43,144.39 402.66,143.59 402.89,142.86 403.12,142.21 403.34,141.63 403.57,141.14 403.80,140.73 404.03,140.41 404.26,140.18 404.49,140.05 404.72,140.00 404.94,140.05 405.17,140.18 405.40,140.41 405.63,140.73 405.86,141.14 406.09,141.63 406.32,142.21 406.54,142.86 406.77,143.59 407.00,144.39 407.23,145.26 407.46,146.18 407.69,147.16 407.92,148.19 408.14,149.26 408.37,150.36 408.60,151.50 408.83,152.65 409.06,153.82 409.29,155.00 409.52,156.18 409.74,157.35 409.97,158.50 410.20,159.64 410.43,160.74 410.66,161.81 410.89,162.84 411.12,163.82 411.34,164.74 411.57,165.61 411.80,166.41 412.03,167.14 412.26,167.79 412.49,168.37 412.72,168.86 412.94,169.27 413.17,169.59 413.40,169.82 413.63,169.95 413.86,170.00 414.09,169.95 414.32,169.82 414.54,169.59 414.77,169.27 415.00,168.86 415.23,168.37 415.46,167.79 415.69,167.14 415.92,166.41 416.14,165.61 416.37,164.74 416.60,163.82 416.83,162.84 417.06,161.81 417.29,160.74 417.52,159.64 417.74,158.50 417.97,157.35 418.20,156.18 418.43,155.00 418.66,153.82 418.89,152.65 419.12,151.50 419.34,150.36 419.57,149.26 419.80,148.19 420.03,147.16 420.26,146.18 420.49,145.26 420.72,144.39 420.94,143.59 421.17,142.86 421.40,142.21 421.63,141.63 421.86,141.14 422.09,140.73 422.32,140.41 422.54,140.18 422.77,140.05 423.00,140.00 423.23,140.05 423.46,140.18 423.69,140.41 423.92,140.73 424.14,141.14 424.37,141.63 424.60,142.21 424.83,142.86 425.06,143.59 425.29,144.39 425.52,145.26 425.74,146.18 425.97,147.16 426.20,148.19 426.43,149.26 426.66,150.36 426.89,151.50 427.12,152.65 427.34,153.82 427.57,155.00 427.80,156.18 428.03,157.35 428.26,158.50 428.49,159.64 428.72,160.74 428.94,161.81 429.17,162.84 429.40,163.82 429.63,164.74 429.86,165.61 430.09,166.41 430.32,167.14 430.54,167.79 430.77,168.37 431.00,168.86 431.23,169.27 431.46,169.59 431.69,169.82 431.92,169.95 432.14,170.00 432.37,169.95 432.60,169.82 432.83,169.59 433.06,169.27 433.29,168.86 433.52,168.37 433.74,167.79 433.97,167.14 434.20,166.41 434.43,165.61 434.66,164.74 434.89,163.82 435.12,162.84 435.34,161.81 435.57,160.74 435.80,159.64 436.03,158.50 436.26,157.35 436.49,156.18 436.71,155.00 436.94,153.82 437.17,152.65 437.40,151.50 437.63,150.36 437.86,149.26 438.09,148.19 438.31,147.16 438.54,146.18 438.77,145.26 439.00,144.39 439.23,143.59 439.46,142.86 439.69,142.21 439.91,141.63 440.14,141.14 440.37,140.73 440.60,140.41 440.83,140.18 441.06,140.05 441.29,140.00 441.51,140.05 441.74,140.18 441.97,140.41 442.20,140.73 442.43,141.14 442.66,141.63 442.89,142.21 443.11,142.86 443.34,143.59 443.57,144.39 443.80,145.26 444.03,146.18 444.26,147.16 444.49,148.19 444.71,149.26 444.94,150.36 445.17,151.50 445.40,152.65 445.63,153.82 445.86,155.00 446.09,156.18 446.31,157.35 446.54,158.50 446.77,159.64 447.00,160.74 447.23,161.81 447.46,162.84 447.69,163.82 447.91,164.74 448.14,165.61 448.37,166.41 448.60,167.14 448.83,167.79 449.06,168.37 449.29,168.86 449.51,169.27 449.74,169.59 449.97,169.82 450.20,169.95 450.43,170.00 450.66,169.95 450.89,169.82 451.11,169.59 451.34,169.27 451.57,168.86 451.80,168.37 452.03,167.79 452.26,167.14 452.49,166.41 452.71,165.61 452.94,164.74 453.17,163.82 453.40,162.84 453.63,161.81 453.86,160.74 454.09,159.64 454.31,158.50 454.54,157.35 454.77,156.18 455.00,155.00" stroke="#000" stroke-width="2.3" fill="none" stroke-linejoin="round"/>
<rect x="89.3" y="5.9" width="365.7" height="179.1" stroke="#505050" stroke-width="1.9" fill="none"/>
<path d="M230 48.4H315" stroke="#333" stroke-width="1.6"/>
<path d="M321 48.4L313.5 45.2V51.6Z" fill="#333"/>
<g font-size="13.5" fill="#1a1a1a">
<text x="90.8" y="199.4" text-anchor="middle" font-size="14">0.0</text>
<text x="126.8" y="199.4" text-anchor="middle" font-size="14">0.02</text>
<text x="164.0" y="199.4" text-anchor="middle" font-size="14">0.04</text>
<text x="201.6" y="199.4" text-anchor="middle" font-size="14">0.06</text>
<text x="238.5" y="199.4" text-anchor="middle" font-size="14">0.08</text>
<text x="270.8" y="199.4" text-anchor="middle" font-size="14">0.10</text>
<text x="307.9" y="199.4" text-anchor="middle" font-size="14">0.12</text>
<text x="344.9" y="199.4" text-anchor="middle" font-size="14">0.14</text>
<text x="381.9" y="199.4" text-anchor="middle" font-size="14">0.16</text>
<text x="418.8" y="199.4" text-anchor="middle" font-size="14">0.18</text>
<text x="454.5" y="199.4" text-anchor="middle" font-size="14">0.2</text>
<text x="272.6" y="212.3" text-anchor="middle">Time (s)</text>
<text x="207.7" y="71.8" text-anchor="middle"><tspan font-style="italic">λ</tspan>=0.2</text>
<text x="128.6" y="127" text-anchor="middle"><tspan font-style="italic">λ</tspan>=2.0</text>
<text x="391.6" y="71.6" text-anchor="middle"><tspan font-style="italic">λ</tspan>=0.2</text>
<text x="408.8" y="127.3" text-anchor="middle"><tspan font-style="italic">λ</tspan>=2.0</text>
</g>
<text x="275.3" y="237" font-size="19" text-anchor="middle" fill="#111">(<tspan font-weight="bold">a</tspan>)</text>
<!-- panel borders -->
<path d="M51.4 245H279.6V390.8H51.4Z" stroke="#000" stroke-width="1.3" fill="none"/>
<path d="M312.9 243.1H542.2V390.9H312.9Z" stroke="#000" stroke-width="1.3" fill="none"/>
<g font-size="16.5" fill="#111" text-anchor="end">
<text x="48.5" y="257">150</text>
<text x="48.5" y="302.3">100</text>
<text x="48.5" y="348.5">50</text>
<text x="48.5" y="392.8">0</text>
</g>
<g font-size="16.5" fill="#111" text-anchor="middle">
<text x="55.8" y="407">0.0</text>
<text x="106.9" y="407">0.05</text>
<text x="162.5" y="407">0.10</text>
<text x="219.5" y="407">0.15</text>
<text x="269.5" y="407">0.2</text>
<text x="318.9" y="407.3">0.0</text>
<text x="367.7" y="407.3">0.05</text>
<text x="424.5" y="407.3">0.10</text>
<text x="481.1" y="407.3">0.15</text>
<text x="534.1" y="407.3">0.2</text>
<text x="151.5" y="424" font-size="17">Time (s)</text>
<text x="441" y="424.6" font-size="17">Time (s)</text>
</g>
<text transform="translate(18.4 319.4) rotate(-90)" font-size="18" text-anchor="middle" fill="#111">Frequency (Hz)</text>
<text x="142.3" y="451" font-size="19" text-anchor="middle" fill="#111">(<tspan font-weight="bold">b</tspan>)</text>
<text x="429.3" y="451" font-size="19" text-anchor="middle" fill="#111">(<tspan font-weight="bold">c</tspan>)</text>
<g font-size="17" fill="#fff" text-anchor="middle">
<text x="100.3" y="387.3"><tspan font-style="italic">λ</tspan>=2.0</text>
<text x="361.8" y="387.6"><tspan font-style="italic">λ</tspan>=0.2</text>
</g>
</svg>
</body></html>
